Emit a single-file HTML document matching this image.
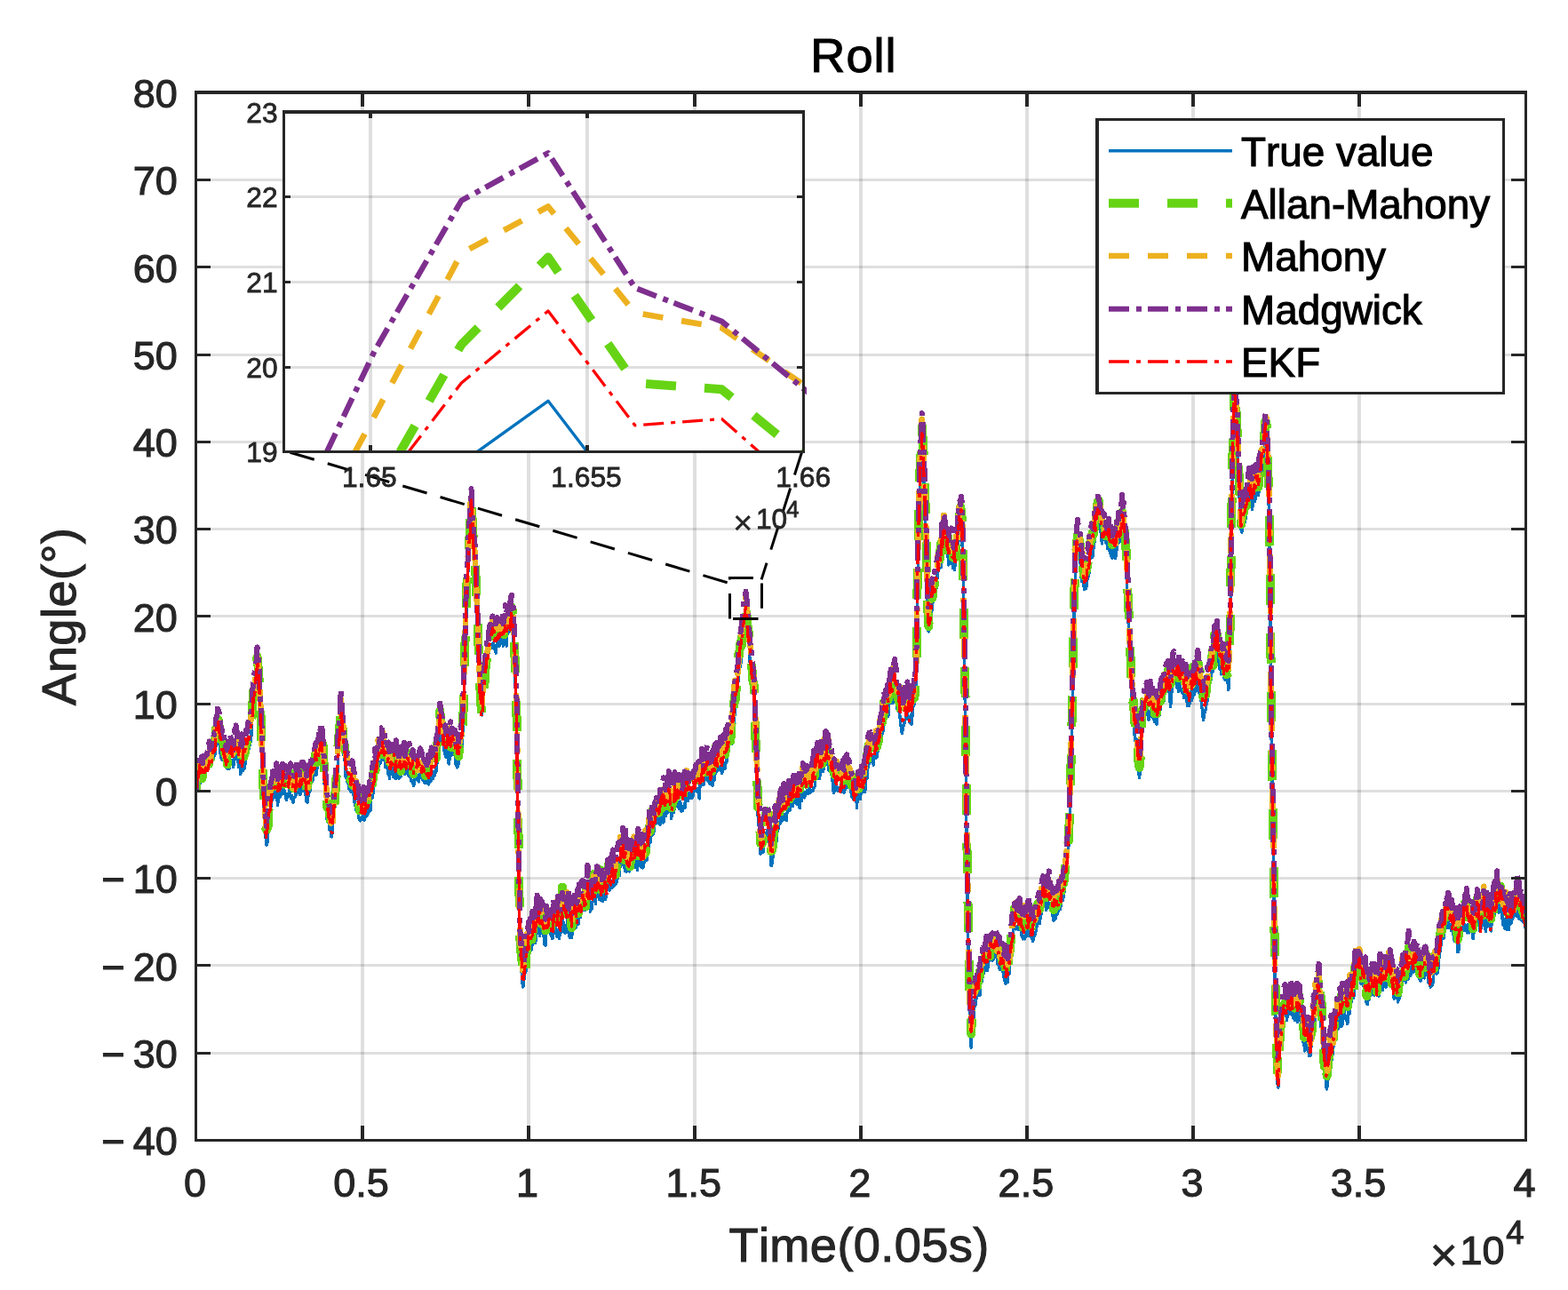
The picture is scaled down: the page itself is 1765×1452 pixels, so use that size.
<!DOCTYPE html>
<html lang="en"><head><meta charset="utf-8"><title>Roll</title>
<style>html,body{margin:0;padding:0;background:#fff}body{width:1765px;height:1452px;overflow:hidden}svg{display:block}text{font-kerning:none}</style>
</head><body>
<svg width="1765" height="1452" viewBox="0 0 1765 1452">
<rect x="0" y="0" width="1765" height="1452" fill="#ffffff"/>
<g fill="#262626" fill-opacity="0.15" shape-rendering="crispEdges">
<rect x="406" y="106" width="4" height="1176"/>
<rect x="593" y="106" width="4" height="1176"/>
<rect x="780" y="106" width="4" height="1176"/>
<rect x="967" y="106" width="4" height="1176"/>
<rect x="1154" y="106" width="4" height="1176"/>
<rect x="1341" y="106" width="4" height="1176"/>
<rect x="1528" y="106" width="4" height="1176"/>
<rect x="222" y="1184" width="1494" height="3"/>
<rect x="222" y="1085" width="1494" height="3"/>
<rect x="222" y="987" width="1494" height="3"/>
<rect x="222" y="889" width="1494" height="3"/>
<rect x="222" y="791" width="1494" height="3"/>
<rect x="222" y="692" width="1494" height="3"/>
<rect x="222" y="594" width="1494" height="3"/>
<rect x="222" y="496" width="1494" height="3"/>
<rect x="222" y="398" width="1494" height="3"/>
<rect x="222" y="299" width="1494" height="3"/>
<rect x="222" y="201" width="1494" height="3"/>
</g>
<clipPath id="c"><rect x="220.7" y="104.0" width="1496.6" height="1179.2"/></clipPath>
<g clip-path="url(#c)" fill="none" stroke-linejoin="round" shape-rendering="crispEdges">
<path d="M220.7 890.1 221.4 888.7 222.2 887.3 222.9 885.9 223.7 884.4 224.4 883.0 225.2 881.6 225.9 880.2 226.7 878.8 227.4 877.3 228.2 875.9 228.9 874.5 229.7 873.1 230.4 871.7 231.2 870.2 231.9 868.8 232.7 867.4 233.4 866.0 234.2 864.5 234.9 863.1 235.7 861.7 236.4 860.3 237.2 858.9 237.9 857.4 238.7 856.0 239.4 854.6 240.2 853.2 240.9 851.8 241.7 850.3 242.4 848.9 243.1 835.8 243.9 830.1 244.6 828.6 245.4 822.7 246.1 827.8 246.9 836.6 247.6 840.6 248.4 852.1 249.1 848.0 249.9 855.1 250.6 846.9 251.4 844.1 252.1 850.8 252.9 859.5 253.6 862.3 254.4 861.1 255.1 862.1 255.9 865.2 256.6 859.6 257.4 859.1 258.1 865.2 258.9 861.3 259.6 858.5 260.4 857.9 261.1 855.9 261.9 857.9 262.6 863.6 263.4 855.8 264.1 853.9 264.8 854.9 265.6 842.5 266.3 854.1 267.1 847.1 267.8 854.1 268.6 863.6 269.3 854.1 270.1 859.8 270.8 871.4 271.6 865.9 272.3 864.7 273.1 867.0 273.8 867.1 274.6 863.8 275.3 864.5 276.1 859.5 276.8 852.1 277.6 853.3 278.3 846.6 279.1 840.8 279.8 837.8 280.6 842.7 281.3 833.2 282.1 835.1 282.8 829.5 283.6 813.3 284.3 808.1 285.1 799.3 285.8 798.3 286.6 786.0 287.3 782.0 288.0 773.9 288.8 768.7 289.5 760.7 290.3 754.3 291.0 771.6 291.8 784.2 292.5 804.6 293.3 816.0 294.0 839.8 294.8 859.1 295.5 880.1 296.3 900.6 297.0 906.9 297.8 920.7 298.5 931.8 299.3 945.2 300.0 951.4 300.8 949.0 301.5 942.8 302.3 929.9 303.0 927.2 303.8 912.8 304.5 907.8 305.3 907.6 306.0 900.4 306.8 898.8 307.5 899.0 308.3 889.3 309.0 897.4 309.7 894.9 310.5 891.6 311.2 893.8 312.0 899.4 312.7 906.6 313.5 889.1 314.2 897.0 315.0 897.3 315.7 893.2 316.5 894.4 317.2 893.5 318.0 887.7 318.7 888.1 319.5 890.7 320.2 889.6 321.0 893.1 321.7 898.9 322.5 900.4 323.2 897.7 324.0 895.3 324.7 896.6 325.5 889.2 326.2 892.4 327.0 897.1 327.7 899.0 328.5 895.6 329.2 898.4 330.0 903.3 330.7 899.5 331.4 897.1 332.2 896.5 332.9 895.4 333.7 882.7 334.4 888.4 335.2 889.0 335.9 886.0 336.7 891.0 337.4 894.6 338.2 893.8 338.9 889.2 339.7 886.3 340.4 890.6 341.2 885.9 341.9 889.4 342.7 887.2 343.4 891.5 344.2 895.4 344.9 902.5 345.7 903.2 346.4 902.6 347.2 892.4 347.9 891.3 348.7 891.2 349.4 887.8 350.2 877.4 350.9 878.1 351.7 879.2 352.4 876.5 353.1 871.2 353.9 868.7 354.6 867.9 355.4 860.8 356.1 872.0 356.9 864.0 357.6 864.2 358.4 855.4 359.1 847.5 359.9 848.4 360.6 849.7 361.4 850.9 362.1 840.0 362.9 851.7 363.6 861.0 364.4 868.6 365.1 881.5 365.9 893.3 366.6 898.9 367.4 911.4 368.1 923.0 368.9 917.7 369.6 922.6 370.4 927.9 371.1 934.2 371.9 927.7 372.6 941.3 373.4 942.0 374.1 936.6 374.8 925.3 375.6 918.2 376.3 908.3 377.1 908.3 377.8 900.9 378.6 890.3 379.3 886.8 380.1 871.4 380.8 847.2 381.6 846.5 382.3 833.1 383.1 820.0 383.8 812.4 384.6 813.8 385.3 833.2 386.1 831.6 386.8 847.9 387.6 853.4 388.3 857.4 389.1 875.0 389.8 866.5 390.6 877.7 391.3 881.7 392.1 881.8 392.8 887.4 393.6 883.3 394.3 890.5 395.1 891.6 395.8 883.2 396.6 887.1 397.3 890.8 398.0 895.0 398.8 899.6 399.5 906.8 400.3 907.3 401.0 912.6 401.8 911.1 402.5 910.7 403.3 914.9 404.0 921.5 404.8 922.9 405.5 924.1 406.3 923.0 407.0 920.1 407.8 922.7 408.5 922.2 409.3 912.5 410.0 923.8 410.8 921.0 411.5 908.3 412.3 918.4 413.0 918.2 413.8 912.0 414.5 915.6 415.3 911.7 416.0 908.4 416.8 913.0 417.5 901.1 418.3 898.6 419.0 897.8 419.7 895.1 420.5 886.9 421.2 883.2 422.0 878.3 422.7 878.9 423.5 873.6 424.2 865.9 425.0 861.6 425.7 863.4 426.5 861.8 427.2 857.7 428.0 859.3 428.7 857.6 429.5 855.0 430.2 848.9 431.0 848.2 431.7 852.7 432.5 855.9 433.2 856.8 434.0 863.9 434.7 863.3 435.5 864.3 436.2 863.4 437.0 871.6 437.7 868.8 438.5 876.2 439.2 869.0 440.0 867.8 440.7 868.9 441.4 864.5 442.2 860.4 442.9 874.8 443.7 863.8 444.4 870.1 445.2 876.5 445.9 871.1 446.7 873.3 447.4 870.2 448.2 863.5 448.9 876.2 449.7 869.4 450.4 868.4 451.2 874.4 451.9 871.1 452.7 867.4 453.4 865.0 454.2 869.4 454.9 859.4 455.7 871.5 456.4 868.8 457.2 868.0 457.9 870.2 458.7 865.5 459.4 872.1 460.2 873.4 460.9 859.2 461.7 874.5 462.4 872.2 463.1 879.8 463.9 879.2 464.6 878.5 465.4 884.6 466.1 883.5 466.9 878.3 467.6 870.7 468.4 875.2 469.1 872.3 469.9 875.4 470.6 878.4 471.4 879.8 472.1 871.2 472.9 875.6 473.6 869.4 474.4 874.7 475.1 871.0 475.9 878.2 476.6 870.9 477.4 878.9 478.1 881.7 478.9 873.4 479.6 876.4 480.4 881.1 481.1 878.0 481.9 871.2 482.6 883.0 483.4 876.8 484.1 879.0 484.8 879.8 485.6 867.8 486.3 870.8 487.1 876.7 487.8 868.3 488.6 873.2 489.3 872.6 490.1 869.0 490.8 869.6 491.6 850.8 492.3 858.5 493.1 847.7 493.8 842.4 494.6 836.2 495.3 816.8 496.1 821.3 496.8 827.6 497.6 836.4 498.3 833.0 499.1 838.6 499.8 843.2 500.6 848.2 501.3 845.2 502.1 852.4 502.8 843.0 503.6 842.8 504.3 854.5 505.1 859.9 505.8 856.5 506.6 844.6 507.3 843.3 508.0 850.8 508.8 843.6 509.5 849.2 510.3 845.1 511.0 844.6 511.8 843.3 512.5 851.0 513.3 861.6 514.0 858.6 514.8 863.9 515.5 858.2 516.3 860.0 517.0 853.4 517.8 849.6 518.5 845.6 519.3 849.9 520.0 838.8 520.8 829.0 521.5 813.5 522.3 787.4 523.0 759.6 523.8 728.6 524.5 701.3 525.3 672.9 526.0 660.4 526.8 645.0 527.5 626.2 528.3 615.0 529.0 609.6 529.7 588.3 530.5 573.8 531.2 581.9 532.0 603.7 532.7 609.2 533.5 637.9 534.2 637.8 535.0 652.8 535.7 665.3 536.5 683.2 537.2 708.6 538.0 734.8 538.7 751.6 539.5 772.6 540.2 786.0 541.0 789.8 541.7 803.9 542.5 804.7 543.2 799.2 544.0 787.1 544.7 777.6 545.5 776.6 546.2 764.9 547.0 763.2 547.7 753.6 548.5 752.7 549.2 740.3 550.0 734.3 550.7 731.9 551.4 729.2 552.2 729.2 552.9 728.7 553.7 729.4 554.4 725.6 555.2 723.6 555.9 725.3 556.7 730.2 557.4 726.9 558.2 735.3 558.9 728.0 559.7 725.0 560.4 721.1 561.2 723.8 561.9 727.0 562.7 724.4 563.4 724.6 564.2 716.9 564.9 724.1 565.7 716.7 566.4 727.2 567.2 725.5 567.9 719.7 568.7 717.0 569.4 719.3 570.2 727.2 570.9 713.1 571.7 709.0 572.4 711.3 573.1 708.4 573.9 707.1 574.6 710.3 575.4 705.2 576.1 711.8 576.9 712.0 577.6 717.2 578.4 724.6 579.1 740.6 579.9 762.0 580.6 776.6 581.4 814.5 582.1 860.4 582.9 917.1 583.6 970.0 584.4 1017.1 585.1 1065.8 585.9 1079.6 586.6 1087.2 587.4 1097.5 588.1 1107.3 588.9 1110.9 589.6 1105.2 590.4 1096.8 591.1 1094.7 591.9 1094.0 592.6 1077.3 593.4 1077.8 594.1 1075.8 594.8 1073.5 595.6 1069.5 596.3 1069.2 597.1 1060.8 597.8 1063.4 598.6 1068.9 599.3 1054.8 600.1 1059.2 600.8 1047.0 601.6 1056.9 602.3 1061.4 603.1 1058.1 603.8 1047.1 604.6 1049.3 605.3 1044.0 606.1 1050.0 606.8 1046.9 607.6 1053.8 608.3 1047.6 609.1 1043.5 609.8 1044.2 610.6 1042.5 611.3 1053.0 612.1 1053.1 612.8 1063.3 613.6 1058.2 614.3 1064.1 615.1 1038.8 615.8 1044.2 616.6 1047.2 617.3 1049.3 618.0 1036.0 618.8 1039.8 619.5 1047.1 620.3 1053.1 621.0 1051.3 621.8 1056.5 622.5 1050.7 623.3 1041.2 624.0 1050.9 624.8 1036.6 625.5 1042.3 626.3 1049.7 627.0 1054.1 627.8 1053.7 628.5 1046.2 629.3 1056.8 630.0 1052.6 630.8 1046.6 631.5 1045.2 632.3 1048.9 633.0 1033.9 633.8 1046.4 634.5 1038.8 635.3 1042.6 636.0 1050.3 636.8 1044.6 637.5 1049.4 638.3 1038.9 639.0 1035.0 639.7 1039.2 640.5 1037.9 641.2 1055.3 642.0 1042.0 642.7 1035.5 643.5 1055.4 644.2 1050.1 645.0 1039.1 645.7 1032.2 646.5 1033.4 647.2 1035.4 648.0 1044.7 648.7 1032.0 649.5 1032.9 650.2 1037.9 651.0 1039.9 651.7 1023.8 652.5 1027.3 653.2 1032.6 654.0 1026.9 654.7 1027.3 655.5 1018.6 656.2 1018.1 657.0 1014.8 657.7 1021.4 658.5 1024.4 659.2 1021.5 660.0 1014.2 660.7 1020.8 661.4 1002.5 662.2 1008.7 662.9 1013.8 663.7 1013.5 664.4 1026.1 665.2 1015.4 665.9 1023.6 666.7 1015.8 667.4 1013.6 668.2 1008.7 668.9 1014.8 669.7 1010.1 670.4 1017.6 671.2 1005.5 671.9 1009.7 672.7 1003.4 673.4 1003.0 674.2 1008.1 674.9 1012.7 675.7 1010.8 676.4 1013.1 677.2 1010.4 677.9 1008.4 678.7 1014.7 679.4 1011.3 680.2 996.6 680.9 1005.4 681.7 1012.6 682.4 1001.5 683.1 999.9 683.9 996.3 684.6 997.3 685.4 991.5 686.1 1002.2 686.9 995.4 687.6 998.9 688.4 991.3 689.1 999.6 689.9 995.0 690.6 998.0 691.4 995.5 692.1 989.9 692.9 995.5 693.6 983.8 694.4 993.2 695.1 987.8 695.9 974.6 696.6 970.7 697.4 985.8 698.1 971.3 698.9 971.9 699.6 969.0 700.4 973.6 701.1 963.4 701.9 973.5 702.6 969.4 703.4 980.3 704.1 965.0 704.9 981.4 705.6 978.5 706.3 977.0 707.1 970.6 707.8 970.9 708.6 981.1 709.3 972.9 710.1 973.3 710.8 974.5 711.6 975.2 712.3 974.7 713.1 968.5 713.8 970.6 714.6 976.5 715.3 965.1 716.1 975.9 716.8 970.4 717.6 979.2 718.3 969.3 719.1 957.8 719.8 967.7 720.6 962.4 721.3 975.9 722.1 969.3 722.8 974.0 723.6 976.9 724.3 974.8 725.1 970.3 725.8 967.3 726.6 969.1 727.3 965.8 728.0 968.6 728.8 960.4 729.5 959.6 730.3 946.8 731.0 943.7 731.8 948.8 732.5 945.2 733.3 934.0 734.0 935.1 734.8 939.9 735.5 924.1 736.3 935.8 737.0 918.0 737.8 927.8 738.5 921.5 739.3 926.3 740.0 922.8 740.8 920.8 741.5 922.1 742.3 928.0 743.0 928.4 743.8 918.5 744.5 904.7 745.3 916.1 746.0 913.1 746.8 926.0 747.5 910.9 748.3 911.6 749.0 911.6 749.7 918.2 750.5 907.9 751.2 914.8 752.0 908.0 752.7 901.1 753.5 913.1 754.2 903.0 755.0 910.4 755.7 921.5 756.5 912.1 757.2 913.6 758.0 914.3 758.7 914.4 759.5 898.8 760.2 906.5 761.0 899.3 761.7 901.8 762.5 907.0 763.2 908.3 764.0 906.7 764.7 910.4 765.5 902.1 766.2 905.2 767.0 913.2 767.7 908.3 768.5 912.6 769.2 907.7 770.0 909.8 770.7 904.1 771.4 909.1 772.2 895.5 772.9 891.4 773.7 888.5 774.4 901.5 775.2 895.1 775.9 897.3 776.7 893.7 777.4 898.7 778.2 889.8 778.9 897.1 779.7 897.8 780.4 893.4 781.2 888.0 781.9 885.4 782.7 890.1 783.4 890.2 784.2 887.3 784.9 891.0 785.7 888.0 786.4 890.0 787.2 898.9 787.9 882.7 788.7 885.4 789.4 882.7 790.2 881.3 790.9 880.0 791.7 883.1 792.4 882.6 793.1 872.0 793.9 877.6 794.6 873.1 795.4 871.9 796.1 872.2 796.9 879.0 797.6 876.1 798.4 878.9 799.1 882.5 799.9 874.9 800.6 872.9 801.4 876.4 802.1 884.2 802.9 875.7 803.6 866.2 804.4 877.9 805.1 867.9 805.9 869.7 806.6 863.4 807.4 867.5 808.1 857.1 808.9 856.8 809.6 857.9 810.4 865.9 811.1 867.8 811.9 855.3 812.6 870.4 813.4 866.8 814.1 863.2 814.9 865.0 815.6 860.0 816.3 864.9 817.1 857.6 817.8 858.6 818.6 842.2 819.3 846.7 820.1 840.1 820.8 833.4 821.6 837.0 822.3 827.7 823.1 837.8 823.8 823.8 824.6 820.0 825.3 810.4 826.1 818.2 826.8 806.1 827.6 791.8 828.3 794.1 829.1 786.9 829.8 777.0 830.6 768.1 831.3 765.7 832.1 754.0 832.8 746.8 833.6 750.2 834.3 738.2 835.1 732.3 835.8 731.3 836.6 717.3 837.3 713.2 838.0 700.7 838.8 694.4 839.5 689.5 840.3 698.4 841.0 709.9 841.8 718.6 842.5 724.9 843.3 728.5 844.0 742.4 844.8 755.1 845.5 768.7 846.3 756.8 847.0 770.4 847.8 774.5 848.5 781.3 849.3 800.9 850.0 821.1 850.8 843.1 851.5 871.7 852.3 895.5 853.0 916.7 853.8 925.2 854.5 933.3 855.3 941.8 856.0 961.3 856.8 960.5 857.5 952.0 858.3 953.8 859.0 959.8 859.7 948.4 860.5 945.7 861.2 939.2 862.0 937.4 862.7 939.3 863.5 934.3 864.2 938.6 865.0 943.1 865.7 951.4 866.5 947.1 867.2 950.7 868.0 974.6 868.7 974.6 869.5 961.7 870.2 964.8 871.0 952.1 871.7 949.8 872.5 941.3 873.2 951.0 874.0 947.1 874.7 936.1 875.5 935.1 876.2 931.9 877.0 925.6 877.7 927.9 878.5 925.0 879.2 915.2 880.0 924.2 880.7 918.4 881.4 916.9 882.2 917.0 882.9 916.7 883.7 922.5 884.4 919.6 885.2 923.5 885.9 915.0 886.7 913.5 887.4 913.0 888.2 901.6 888.9 912.6 889.7 906.2 890.4 907.3 891.2 894.7 891.9 899.6 892.7 907.1 893.4 894.4 894.2 899.0 894.9 900.6 895.7 898.7 896.4 902.9 897.2 905.8 897.9 902.3 898.7 900.5 899.4 891.9 900.2 909.8 900.9 897.0 901.7 893.8 902.4 901.4 903.1 894.4 903.9 896.5 904.6 891.1 905.4 897.9 906.1 895.3 906.9 894.8 907.6 893.7 908.4 889.5 909.1 893.6 909.9 893.3 910.6 884.8 911.4 892.8 912.1 889.0 912.9 891.0 913.6 890.5 914.4 890.5 915.1 889.9 915.9 886.5 916.6 886.8 917.4 884.6 918.1 871.0 918.9 867.6 919.6 871.7 920.4 865.3 921.1 876.8 921.9 865.9 922.6 876.4 923.4 866.9 924.1 867.3 924.9 866.1 925.6 866.8 926.3 868.6 927.1 865.3 927.8 858.8 928.6 858.8 929.3 857.1 930.1 860.6 930.8 850.7 931.6 856.4 932.3 854.4 933.1 867.2 933.8 859.6 934.6 864.0 935.3 869.6 936.1 872.4 936.8 877.3 937.6 882.1 938.3 892.5 939.1 889.7 939.8 890.4 940.6 883.0 941.3 886.2 942.1 889.7 942.8 890.1 943.6 887.8 944.3 886.9 945.1 889.3 945.8 890.4 946.6 882.0 947.3 891.3 948.0 884.5 948.8 882.0 949.5 888.9 950.3 892.2 951.0 888.9 951.8 880.8 952.5 882.6 953.3 877.4 954.0 882.0 954.8 886.7 955.5 882.4 956.3 885.0 957.0 882.3 957.8 889.7 958.5 895.9 959.3 898.0 960.0 898.2 960.8 900.0 961.5 898.4 962.3 894.9 963.0 897.7 963.8 896.0 964.5 909.2 965.3 895.9 966.0 893.9 966.8 896.0 967.5 894.2 968.3 899.7 969.0 893.6 969.7 892.5 970.5 891.1 971.2 890.6 972.0 890.9 972.7 886.3 973.5 891.2 974.2 887.1 975.0 869.8 975.7 876.9 976.5 873.6 977.2 855.5 978.0 852.8 978.7 859.1 979.5 851.1 980.2 854.2 981.0 857.3 981.7 850.1 982.5 858.5 983.2 861.0 984.0 850.1 984.7 850.2 985.5 852.1 986.2 853.2 987.0 852.2 987.7 848.2 988.5 840.5 989.2 842.4 990.0 842.3 990.7 828.6 991.4 829.9 992.2 830.7 992.9 826.7 993.7 816.3 994.4 823.2 995.2 810.8 995.9 811.4 996.7 805.1 997.4 809.2 998.2 807.0 998.9 799.2 999.7 806.1 1000.4 801.6 1001.2 784.2 1001.9 783.2 1002.7 784.0 1003.4 791.1 1004.2 790.3 1004.9 791.5 1005.7 775.9 1006.4 768.9 1007.2 771.6 1007.9 772.3 1008.7 785.9 1009.4 789.2 1010.2 798.4 1010.9 800.1 1011.7 798.8 1012.4 799.7 1013.1 808.1 1013.9 815.4 1014.6 820.8 1015.4 825.7 1016.1 820.7 1016.9 816.1 1017.6 816.2 1018.4 811.8 1019.1 810.5 1019.9 806.4 1020.6 806.5 1021.4 801.9 1022.1 809.8 1022.9 807.7 1023.6 813.1 1024.4 809.6 1025.1 805.0 1025.9 815.6 1026.6 813.2 1027.4 790.7 1028.1 795.6 1028.9 793.2 1029.6 785.8 1030.4 776.6 1031.1 778.1 1031.9 735.9 1032.6 666.3 1033.4 635.8 1034.1 599.3 1034.9 571.2 1035.6 541.7 1036.3 536.6 1037.1 509.3 1037.8 499.4 1038.6 503.0 1039.3 526.7 1040.1 541.3 1040.8 562.8 1041.6 587.7 1042.3 610.5 1043.1 640.2 1043.8 668.3 1044.6 706.1 1045.3 711.0 1046.1 703.3 1046.8 708.9 1047.6 693.9 1048.3 686.0 1049.1 687.3 1049.8 679.0 1050.6 670.8 1051.3 667.7 1052.1 672.3 1052.8 668.2 1053.6 661.7 1054.3 661.7 1055.1 646.0 1055.8 643.8 1056.6 639.1 1057.3 636.6 1058.0 639.8 1058.8 631.6 1059.5 638.4 1060.3 621.6 1061.0 622.7 1061.8 614.8 1062.5 611.7 1063.3 610.0 1064.0 607.1 1064.8 617.1 1065.5 620.6 1066.3 615.5 1067.0 624.5 1067.8 635.9 1068.5 625.8 1069.3 628.0 1070.0 630.7 1070.8 630.2 1071.5 634.3 1072.3 633.2 1073.0 639.9 1073.8 632.6 1074.5 641.8 1075.3 632.1 1076.0 629.5 1076.8 613.1 1077.5 616.3 1078.3 610.2 1079.0 609.4 1079.7 598.5 1080.5 598.2 1081.2 591.9 1082.0 585.3 1082.7 595.4 1083.5 625.8 1084.2 653.5 1085.0 703.0 1085.7 758.5 1086.5 804.1 1087.2 862.1 1088.0 948.1 1088.7 991.1 1089.5 1035.0 1090.2 1082.5 1091.0 1116.1 1091.7 1149.9 1092.5 1171.5 1093.2 1179.0 1094.0 1164.5 1094.7 1152.2 1095.5 1156.3 1096.2 1137.4 1097.0 1132.7 1097.7 1125.2 1098.5 1130.4 1099.2 1118.3 1100.0 1119.5 1100.7 1119.3 1101.4 1117.5 1102.2 1112.7 1102.9 1120.6 1103.7 1107.6 1104.4 1101.4 1105.2 1104.5 1105.9 1100.7 1106.7 1097.2 1107.4 1093.4 1108.2 1093.0 1108.9 1085.5 1109.7 1092.8 1110.4 1091.4 1111.2 1092.6 1111.9 1089.2 1112.7 1077.0 1113.4 1077.3 1114.2 1081.0 1114.9 1080.9 1115.7 1072.9 1116.4 1077.2 1117.2 1081.0 1117.9 1078.3 1118.7 1079.5 1119.4 1069.0 1120.2 1075.9 1120.9 1077.6 1121.7 1077.8 1122.4 1076.2 1123.1 1085.8 1123.9 1085.4 1124.6 1086.7 1125.4 1091.6 1126.1 1086.0 1126.9 1090.2 1127.6 1080.6 1128.4 1087.3 1129.1 1094.1 1129.9 1098.9 1130.6 1103.8 1131.4 1100.7 1132.1 1107.6 1132.9 1100.9 1133.6 1100.9 1134.4 1105.3 1135.1 1092.8 1135.9 1096.2 1136.6 1080.5 1137.4 1082.8 1138.1 1072.5 1138.9 1064.7 1139.6 1056.1 1140.4 1053.5 1141.1 1043.1 1141.9 1043.5 1142.6 1042.9 1143.4 1045.9 1144.1 1043.3 1144.9 1045.2 1145.6 1042.4 1146.3 1046.4 1147.1 1044.8 1147.8 1041.1 1148.6 1041.1 1149.3 1044.6 1150.1 1053.1 1150.8 1055.2 1151.6 1056.8 1152.3 1053.4 1153.1 1056.9 1153.8 1056.2 1154.6 1053.6 1155.3 1046.9 1156.1 1034.9 1156.8 1050.4 1157.6 1053.6 1158.3 1046.9 1159.1 1043.9 1159.8 1041.6 1160.6 1047.4 1161.3 1056.8 1162.1 1050.6 1162.8 1059.5 1163.6 1054.4 1164.3 1054.2 1165.1 1052.4 1165.8 1049.0 1166.6 1046.7 1167.3 1036.2 1168.0 1039.7 1168.8 1031.3 1169.5 1032.3 1170.3 1039.6 1171.0 1032.8 1171.8 1020.7 1172.5 1028.5 1173.3 1018.7 1174.0 1014.6 1174.8 1014.1 1175.5 1018.6 1176.3 1019.1 1177.0 1015.1 1177.8 1024.4 1178.5 1019.0 1179.3 1011.3 1180.0 1021.9 1180.8 1017.0 1181.5 1018.7 1182.3 1020.4 1183.0 1023.7 1183.8 1022.3 1184.5 1024.6 1185.3 1032.5 1186.0 1036.8 1186.8 1028.6 1187.5 1032.4 1188.3 1033.8 1189.0 1029.7 1189.7 1026.5 1190.5 1028.6 1191.2 1025.1 1192.0 1018.8 1192.7 1018.2 1193.5 1023.7 1194.2 1017.1 1195.0 1010.6 1195.7 1010.5 1196.5 1013.2 1197.2 1009.0 1198.0 1003.2 1198.7 999.7 1199.5 980.0 1200.2 983.3 1201.0 969.7 1201.7 967.4 1202.5 960.4 1203.2 943.1 1204.0 932.8 1204.7 909.7 1205.5 871.4 1206.2 835.6 1207.0 806.0 1207.7 765.8 1208.5 721.5 1209.2 678.6 1210.0 659.7 1210.7 641.8 1211.4 626.2 1212.2 625.3 1212.9 617.4 1213.7 620.4 1214.4 629.7 1215.2 628.3 1215.9 631.9 1216.7 639.9 1217.4 654.5 1218.2 646.1 1218.9 653.8 1219.7 652.9 1220.4 663.8 1221.2 660.6 1221.9 655.1 1222.7 662.2 1223.4 654.2 1224.2 651.3 1224.9 639.7 1225.7 648.7 1226.4 631.4 1227.2 626.6 1227.9 628.5 1228.7 623.4 1229.4 627.7 1230.2 625.5 1230.9 616.9 1231.7 612.4 1232.4 600.9 1233.1 604.6 1233.9 597.6 1234.6 591.6 1235.4 584.4 1236.1 580.9 1236.9 577.0 1237.6 584.6 1238.4 595.4 1239.1 598.5 1239.9 608.1 1240.6 611.9 1241.4 601.8 1242.1 606.9 1242.9 596.9 1243.6 604.0 1244.4 609.7 1245.1 611.0 1245.9 607.1 1246.6 617.6 1247.4 616.5 1248.1 608.6 1248.9 620.4 1249.6 617.2 1250.4 625.8 1251.1 614.0 1251.9 628.5 1252.6 615.6 1253.4 617.7 1254.1 621.9 1254.9 626.1 1255.6 628.2 1256.3 622.2 1257.1 618.7 1257.8 609.8 1258.6 611.7 1259.3 611.3 1260.1 610.2 1260.8 601.6 1261.6 602.0 1262.3 598.4 1263.1 594.7 1263.8 595.5 1264.6 587.6 1265.3 608.6 1266.1 608.1 1266.8 619.9 1267.6 628.2 1268.3 655.3 1269.1 666.7 1269.8 690.2 1270.6 712.3 1271.3 730.6 1272.1 751.3 1272.8 761.0 1273.6 785.1 1274.3 793.1 1275.1 795.8 1275.8 812.0 1276.6 819.0 1277.3 829.1 1278.0 834.6 1278.8 831.2 1279.5 837.1 1280.3 842.9 1281.0 857.3 1281.8 868.2 1282.5 875.2 1283.3 869.9 1284.0 854.1 1284.8 845.8 1285.5 818.8 1286.3 811.9 1287.0 804.3 1287.8 808.9 1288.5 801.5 1289.3 798.7 1290.0 798.9 1290.8 797.3 1291.5 804.8 1292.3 803.6 1293.0 810.4 1293.8 802.9 1294.5 807.1 1295.3 798.1 1296.0 802.8 1296.8 805.0 1297.5 805.0 1298.3 809.5 1299.0 808.5 1299.7 812.3 1300.5 811.8 1301.2 804.5 1302.0 815.7 1302.7 803.6 1303.5 800.7 1304.2 803.6 1305.0 805.3 1305.7 801.4 1306.5 794.6 1307.2 786.0 1308.0 785.3 1308.7 787.7 1309.5 790.2 1310.2 788.2 1311.0 770.0 1311.7 775.9 1312.5 774.6 1313.2 767.1 1314.0 773.4 1314.7 770.8 1315.5 767.8 1316.2 779.7 1317.0 789.3 1317.7 795.3 1318.5 782.6 1319.2 776.3 1320.0 762.1 1320.7 761.0 1321.4 763.6 1322.2 760.1 1322.9 765.0 1323.7 768.1 1324.4 771.2 1325.2 774.9 1325.9 769.0 1326.7 778.2 1327.4 769.2 1328.2 772.0 1328.9 774.3 1329.7 777.8 1330.4 775.5 1331.2 780.5 1331.9 777.7 1332.7 785.2 1333.4 780.0 1334.2 785.9 1334.9 780.4 1335.7 782.2 1336.4 794.1 1337.2 791.2 1337.9 785.6 1338.7 794.4 1339.4 785.3 1340.2 785.2 1340.9 777.7 1341.7 788.7 1342.4 778.8 1343.2 782.3 1343.9 782.2 1344.6 774.1 1345.4 775.7 1346.1 778.3 1346.9 770.5 1347.6 765.0 1348.4 765.8 1349.1 763.1 1349.9 779.9 1350.6 776.5 1351.4 784.1 1352.1 788.5 1352.9 796.6 1353.6 800.3 1354.4 810.6 1355.1 807.8 1355.9 800.0 1356.6 801.3 1357.4 796.7 1358.1 791.3 1358.9 787.1 1359.6 788.5 1360.4 775.6 1361.1 771.6 1361.9 766.9 1362.6 764.9 1363.4 764.3 1364.1 753.1 1364.9 756.3 1365.6 753.6 1366.3 737.8 1367.1 733.6 1367.8 732.7 1368.6 737.9 1369.3 730.5 1370.1 730.1 1370.8 731.9 1371.6 744.2 1372.3 747.3 1373.1 753.5 1373.8 746.1 1374.6 759.0 1375.3 750.9 1376.1 755.3 1376.8 751.1 1377.6 754.6 1378.3 764.9 1379.1 757.3 1379.8 759.0 1380.6 762.3 1381.3 767.3 1382.1 768.5 1382.8 776.6 1383.6 745.2 1384.3 738.9 1385.1 689.1 1385.8 626.8 1386.6 568.4 1387.3 536.8 1388.0 502.6 1388.8 480.4 1389.5 447.2 1390.3 461.8 1391.0 474.4 1391.8 477.7 1392.5 493.9 1393.3 520.0 1394.0 546.5 1394.8 551.0 1395.5 569.0 1396.3 588.2 1397.0 595.8 1397.8 599.2 1398.5 587.6 1399.3 582.6 1400.0 580.8 1400.8 575.0 1401.5 587.8 1402.3 581.0 1403.0 577.9 1403.8 572.6 1404.5 570.4 1405.3 565.8 1406.0 557.2 1406.8 557.0 1407.5 567.5 1408.3 565.7 1409.0 566.3 1409.7 573.3 1410.5 559.0 1411.2 563.5 1412.0 563.1 1412.7 564.2 1413.5 552.5 1414.2 550.8 1415.0 556.7 1415.7 548.2 1416.5 557.8 1417.2 552.4 1418.0 547.6 1418.7 547.5 1419.5 536.2 1420.2 532.2 1421.0 525.4 1421.7 521.5 1422.5 519.5 1423.2 507.0 1424.0 495.5 1424.7 486.7 1425.5 485.1 1426.2 506.1 1427.0 525.0 1427.7 546.4 1428.5 582.2 1429.2 620.0 1430.0 684.3 1430.7 786.0 1431.4 849.6 1432.2 888.3 1432.9 938.0 1433.7 995.2 1434.4 1060.4 1435.2 1111.6 1435.9 1147.8 1436.7 1185.9 1437.4 1209.4 1438.2 1220.4 1438.9 1224.0 1439.7 1193.9 1440.4 1190.2 1441.2 1177.1 1441.9 1155.1 1442.7 1174.3 1443.4 1160.1 1444.2 1135.4 1444.9 1135.9 1445.7 1141.2 1446.4 1137.8 1447.2 1142.9 1447.9 1142.4 1448.7 1148.6 1449.4 1133.9 1450.2 1137.4 1450.9 1141.8 1451.7 1136.5 1452.4 1134.7 1453.2 1138.5 1453.9 1142.5 1454.6 1142.6 1455.4 1143.7 1456.1 1146.3 1456.9 1140.3 1457.6 1148.6 1458.4 1143.6 1459.1 1147.1 1459.9 1133.6 1460.6 1150.7 1461.4 1147.1 1462.1 1138.5 1462.9 1142.7 1463.6 1145.9 1464.4 1149.5 1465.1 1159.8 1465.9 1163.3 1466.6 1166.0 1467.4 1176.6 1468.1 1171.8 1468.9 1183.0 1469.6 1175.5 1470.4 1179.2 1471.1 1173.5 1471.9 1180.5 1472.6 1171.8 1473.4 1188.4 1474.1 1176.4 1474.9 1188.5 1475.6 1181.1 1476.3 1172.4 1477.1 1169.4 1477.8 1158.5 1478.6 1147.8 1479.3 1152.4 1480.1 1150.4 1480.8 1130.3 1481.6 1140.4 1482.3 1125.3 1483.1 1123.4 1483.8 1121.7 1484.6 1118.2 1485.3 1133.0 1486.1 1126.7 1486.8 1155.8 1487.6 1147.6 1488.3 1171.1 1489.1 1181.5 1489.8 1185.1 1490.6 1208.3 1491.3 1207.3 1492.1 1213.4 1492.8 1223.3 1493.6 1225.9 1494.3 1219.7 1495.1 1213.8 1495.8 1206.3 1496.6 1192.9 1497.3 1204.3 1498.0 1189.8 1498.8 1181.9 1499.5 1193.0 1500.3 1179.4 1501.0 1178.6 1501.8 1170.4 1502.5 1160.2 1503.3 1158.0 1504.0 1144.8 1504.8 1156.3 1505.5 1149.2 1506.3 1158.0 1507.0 1143.8 1507.8 1149.3 1508.5 1150.2 1509.3 1155.6 1510.0 1142.5 1510.8 1154.2 1511.5 1148.4 1512.3 1139.3 1513.0 1132.4 1513.8 1143.2 1514.5 1143.1 1515.3 1148.5 1516.0 1143.9 1516.8 1152.7 1517.5 1141.3 1518.3 1135.1 1519.0 1141.6 1519.7 1119.5 1520.5 1130.2 1521.2 1127.4 1522.0 1117.0 1522.7 1120.4 1523.5 1123.6 1524.2 1119.0 1525.0 1111.3 1525.7 1100.2 1526.5 1096.4 1527.2 1096.4 1528.0 1103.1 1528.7 1100.5 1529.5 1093.7 1530.2 1088.0 1531.0 1092.8 1531.7 1106.9 1532.5 1103.8 1533.2 1107.5 1534.0 1105.9 1534.7 1105.1 1535.5 1114.2 1536.2 1116.5 1537.0 1107.8 1537.7 1127.8 1538.5 1114.1 1539.2 1130.5 1540.0 1120.7 1540.7 1123.6 1541.4 1125.1 1542.2 1118.1 1542.9 1112.0 1543.7 1118.7 1544.4 1112.0 1545.2 1119.7 1545.9 1113.5 1546.7 1116.5 1547.4 1120.2 1548.2 1106.8 1548.9 1112.3 1549.7 1118.2 1550.4 1116.0 1551.2 1115.3 1551.9 1121.3 1552.7 1119.4 1553.4 1109.7 1554.2 1107.6 1554.9 1109.0 1555.7 1112.1 1556.4 1114.4 1557.2 1107.1 1557.9 1106.8 1558.7 1104.7 1559.4 1104.8 1560.2 1111.3 1560.9 1109.3 1561.7 1099.3 1562.4 1104.1 1563.2 1097.1 1563.9 1094.9 1564.6 1101.5 1565.4 1103.1 1566.1 1096.2 1566.9 1106.8 1567.6 1107.6 1568.4 1116.0 1569.1 1124.1 1569.9 1113.4 1570.6 1120.5 1571.4 1115.3 1572.1 1109.7 1572.9 1122.4 1573.6 1128.1 1574.4 1124.0 1575.1 1123.7 1575.9 1121.7 1576.6 1117.6 1577.4 1112.3 1578.1 1105.9 1578.9 1096.8 1579.6 1096.3 1580.4 1099.8 1581.1 1103.2 1581.9 1100.3 1582.6 1106.0 1583.4 1099.1 1584.1 1092.5 1584.9 1102.6 1585.6 1097.6 1586.3 1092.6 1587.1 1095.1 1587.8 1098.5 1588.6 1084.2 1589.3 1089.7 1590.1 1090.1 1590.8 1094.7 1591.6 1082.7 1592.3 1090.0 1593.1 1088.2 1593.8 1088.3 1594.6 1089.8 1595.3 1096.4 1596.1 1096.5 1596.8 1098.7 1597.6 1101.7 1598.3 1098.6 1599.1 1104.3 1599.8 1100.0 1600.6 1097.2 1601.3 1099.9 1602.1 1086.2 1602.8 1083.3 1603.6 1101.0 1604.3 1084.3 1605.1 1096.8 1605.8 1093.9 1606.6 1096.9 1607.3 1099.2 1608.0 1106.0 1608.8 1100.0 1609.5 1107.6 1610.3 1111.2 1611.0 1107.8 1611.8 1108.0 1612.5 1108.9 1613.3 1104.7 1614.0 1091.1 1614.8 1095.2 1615.5 1087.1 1616.3 1090.6 1617.0 1096.3 1617.8 1089.4 1618.5 1094.2 1619.3 1086.4 1620.0 1076.9 1620.8 1068.0 1621.5 1070.7 1622.3 1057.1 1623.0 1053.0 1623.8 1051.9 1624.5 1052.1 1625.3 1056.1 1626.0 1041.3 1626.8 1039.1 1627.5 1043.8 1628.3 1038.8 1629.0 1044.0 1629.7 1029.4 1630.5 1042.3 1631.2 1044.8 1632.0 1041.1 1632.7 1041.2 1633.5 1047.2 1634.2 1040.7 1635.0 1047.1 1635.7 1050.9 1636.5 1053.3 1637.2 1059.0 1638.0 1058.0 1638.7 1055.4 1639.5 1057.7 1640.2 1057.9 1641.0 1071.9 1641.7 1069.4 1642.5 1068.0 1643.2 1051.1 1644.0 1058.6 1644.7 1054.0 1645.5 1043.4 1646.2 1045.6 1647.0 1047.2 1647.7 1047.2 1648.5 1039.9 1649.2 1041.5 1650.0 1047.1 1650.7 1043.2 1651.4 1049.9 1652.2 1040.8 1652.9 1044.7 1653.7 1049.9 1654.4 1046.4 1655.2 1046.5 1655.9 1032.8 1656.7 1045.9 1657.4 1037.5 1658.2 1056.6 1658.9 1049.8 1659.7 1047.1 1660.4 1043.5 1661.2 1030.5 1661.9 1039.1 1662.7 1022.0 1663.4 1032.7 1664.2 1027.8 1664.9 1037.7 1665.7 1047.7 1666.4 1048.3 1667.2 1043.3 1667.9 1040.4 1668.7 1041.7 1669.4 1036.9 1670.2 1025.0 1670.9 1037.2 1671.7 1041.6 1672.4 1048.6 1673.2 1034.6 1673.9 1028.9 1674.6 1043.1 1675.4 1033.1 1676.1 1034.0 1676.9 1029.6 1677.6 1034.1 1678.4 1047.9 1679.1 1037.7 1679.9 1032.2 1680.6 1034.0 1681.4 1028.3 1682.1 1030.7 1682.9 1020.3 1683.6 1010.9 1684.4 1023.3 1685.1 1013.1 1685.9 1022.1 1686.6 1017.2 1687.4 1027.2 1688.1 1015.5 1688.9 1019.2 1689.6 1020.0 1690.4 1018.3 1691.1 1033.6 1691.9 1041.1 1692.6 1036.0 1693.4 1036.4 1694.1 1045.4 1694.9 1033.9 1695.6 1038.0 1696.3 1046.2 1697.1 1032.5 1697.8 1035.2 1698.6 1046.5 1699.3 1031.2 1700.1 1033.3 1700.8 1040.0 1701.6 1032.6 1702.3 1034.6 1703.1 1033.1 1703.8 1031.8 1704.6 1030.5 1705.3 1028.1 1706.1 1021.2 1706.8 1024.1 1707.6 1031.5 1708.3 1029.7 1709.1 1028.6 1709.8 1034.3 1710.6 1027.1 1711.3 1032.5 1712.1 1030.5 1712.8 1035.9 1713.6 1032.8 1714.3 1037.4 1715.1 1034.6 1715.8 1035.6 1716.6 1043.2 1717.3 1035.7" stroke="#0072BD" stroke-width="3.4"/>
<path d="M220.7 890.1 221.4 871.9 222.2 872.0 222.9 861.0 223.7 873.7 224.4 857.7 225.2 867.5 225.9 862.6 226.7 864.0 227.4 876.3 228.2 870.9 228.9 864.8 229.7 871.3 230.4 861.5 231.2 866.7 231.9 855.8 232.7 860.9 233.4 851.6 234.2 853.3 234.9 860.0 235.7 851.9 236.4 852.8 237.2 853.0 237.9 851.9 238.7 846.4 239.4 836.9 240.2 833.7 240.9 827.4 241.7 825.1 242.4 831.8 243.1 820.1 243.9 820.8 244.6 816.4 245.4 809.6 246.1 811.1 246.9 821.4 247.6 820.0 248.4 830.7 249.1 840.4 249.9 836.1 250.6 832.5 251.4 835.5 252.1 840.9 252.9 847.3 253.6 847.5 254.4 851.0 255.1 850.7 255.9 860.3 256.6 837.7 257.4 846.1 258.1 843.2 258.9 842.2 259.6 836.7 260.4 846.7 261.1 842.3 261.9 844.6 262.6 846.3 263.4 843.0 264.1 841.0 264.8 841.1 265.6 838.9 266.3 842.3 267.1 840.6 267.8 843.1 268.6 844.3 269.3 843.3 270.1 841.6 270.8 857.7 271.6 853.6 272.3 847.6 273.1 850.1 273.8 852.1 274.6 851.7 275.3 845.8 276.1 846.5 276.8 839.1 277.6 834.7 278.3 835.3 279.1 828.8 279.8 831.5 280.6 824.6 281.3 817.9 282.1 817.1 282.8 808.7 283.6 807.0 284.3 792.6 285.1 778.4 285.8 779.5 286.6 772.4 287.3 765.6 288.0 757.1 288.8 749.6 289.5 739.4 290.3 746.3 291.0 759.1 291.8 765.5 292.5 789.1 293.3 799.3 294.0 817.9 294.8 844.0 295.5 854.9 296.3 882.3 297.0 901.9 297.8 912.7 298.5 919.9 299.3 932.1 300.0 934.2 300.8 927.7 301.5 931.3 302.3 913.5 303.0 908.8 303.8 899.3 304.5 900.8 305.3 893.9 306.0 890.5 306.8 882.8 307.5 882.4 308.3 879.7 309.0 876.6 309.7 875.9 310.5 885.1 311.2 879.4 312.0 882.7 312.7 885.5 313.5 875.4 314.2 885.2 315.0 886.8 315.7 874.4 316.5 872.6 317.2 880.5 318.0 870.9 318.7 873.1 319.5 875.8 320.2 882.7 321.0 877.0 321.7 875.1 322.5 883.2 323.2 872.6 324.0 877.0 324.7 881.6 325.5 878.4 326.2 874.3 327.0 870.0 327.7 883.5 328.5 883.3 329.2 882.3 330.0 886.6 330.7 887.1 331.4 882.9 332.2 879.7 332.9 876.0 333.7 873.0 334.4 879.2 335.2 881.7 335.9 876.9 336.7 877.6 337.4 884.7 338.2 881.8 338.9 875.2 339.7 878.6 340.4 880.2 341.2 866.0 341.9 880.7 342.7 876.5 343.4 878.2 344.2 883.7 344.9 891.8 345.7 881.6 346.4 885.1 347.2 873.2 347.9 867.9 348.7 875.5 349.4 877.5 350.2 870.6 350.9 871.9 351.7 865.4 352.4 869.5 353.1 859.3 353.9 857.7 354.6 851.7 355.4 848.5 356.1 857.9 356.9 858.0 357.6 856.5 358.4 842.2 359.1 837.7 359.9 840.1 360.6 837.7 361.4 827.8 362.1 830.5 362.9 838.5 363.6 838.6 364.4 855.5 365.1 869.2 365.9 876.6 366.6 882.6 367.4 897.7 368.1 908.6 368.9 904.5 369.6 905.7 370.4 911.3 371.1 914.9 371.9 924.5 372.6 930.7 373.4 931.5 374.1 928.1 374.8 914.0 375.6 912.9 376.3 907.1 377.1 897.0 377.8 887.5 378.6 873.5 379.3 865.2 380.1 851.2 380.8 830.2 381.6 827.0 382.3 818.5 383.1 806.2 383.8 797.3 384.6 801.9 385.3 819.6 386.1 821.2 386.8 841.0 387.6 838.0 388.3 842.3 389.1 853.8 389.8 853.0 390.6 861.0 391.3 864.4 392.1 873.3 392.8 872.7 393.6 873.7 394.3 878.0 395.1 878.6 395.8 872.8 396.6 882.8 397.3 879.5 398.0 884.3 398.8 880.2 399.5 887.0 400.3 886.4 401.0 889.3 401.8 884.4 402.5 896.2 403.3 902.4 404.0 904.4 404.8 912.2 405.5 907.1 406.3 910.5 407.0 901.9 407.8 913.2 408.5 908.8 409.3 898.1 410.0 909.2 410.8 899.6 411.5 889.1 412.3 899.6 413.0 899.1 413.8 901.2 414.5 895.0 415.3 901.2 416.0 890.4 416.8 892.3 417.5 886.8 418.3 883.7 419.0 882.8 419.7 877.2 420.5 871.5 421.2 863.7 422.0 859.8 422.7 867.2 423.5 857.3 424.2 843.8 425.0 850.2 425.7 851.7 426.5 848.7 427.2 845.7 428.0 849.0 428.7 848.9 429.5 848.5 430.2 833.6 431.0 841.2 431.7 837.2 432.5 844.7 433.2 838.3 434.0 845.2 434.7 843.2 435.5 851.2 436.2 847.4 437.0 847.9 437.7 852.5 438.5 857.1 439.2 859.0 440.0 851.1 440.7 855.1 441.4 850.1 442.2 850.9 442.9 855.7 443.7 854.8 444.4 847.3 445.2 860.6 445.9 854.2 446.7 850.2 447.4 853.0 448.2 853.2 448.9 860.3 449.7 858.5 450.4 861.4 451.2 867.8 451.9 859.3 452.7 861.7 453.4 851.3 454.2 856.4 454.9 848.5 455.7 862.0 456.4 855.8 457.2 859.7 457.9 854.3 458.7 851.2 459.4 847.9 460.2 856.5 460.9 854.7 461.7 862.7 462.4 866.8 463.1 870.0 463.9 862.4 464.6 861.7 465.4 871.0 466.1 863.6 466.9 866.5 467.6 859.9 468.4 857.8 469.1 859.4 469.9 860.5 470.6 872.9 471.4 866.0 472.1 865.9 472.9 863.2 473.6 861.8 474.4 858.0 475.1 862.2 475.9 863.9 476.6 860.5 477.4 865.4 478.1 865.4 478.9 873.0 479.6 864.2 480.4 866.9 481.1 865.9 481.9 867.9 482.6 867.2 483.4 864.7 484.1 868.7 484.8 869.0 485.6 860.3 486.3 857.0 487.1 862.9 487.8 861.6 488.6 857.4 489.3 853.0 490.1 847.8 490.8 853.3 491.6 838.9 492.3 836.8 493.1 833.1 493.8 835.7 494.6 825.1 495.3 800.3 496.1 811.6 496.8 813.7 497.6 819.7 498.3 820.9 499.1 828.3 499.8 825.8 500.6 830.2 501.3 824.7 502.1 828.5 502.8 827.6 503.6 827.8 504.3 839.1 505.1 839.5 505.8 834.8 506.6 831.3 507.3 828.0 508.0 841.2 508.8 830.8 509.5 829.5 510.3 835.4 511.0 835.2 511.8 831.5 512.5 838.5 513.3 846.1 514.0 845.0 514.8 847.7 515.5 838.3 516.3 851.0 517.0 840.9 517.8 842.3 518.5 830.1 519.3 832.5 520.0 819.4 520.8 815.1 521.5 801.4 522.3 774.6 523.0 739.3 523.8 713.5 524.5 688.5 525.3 659.8 526.0 649.5 526.8 631.3 527.5 620.1 528.3 607.4 529.0 597.3 529.7 575.8 530.5 561.5 531.2 578.9 532.0 590.0 532.7 606.0 533.5 611.9 534.2 612.9 535.0 630.6 535.7 654.3 536.5 675.7 537.2 686.5 538.0 717.9 538.7 730.2 539.5 750.3 540.2 772.9 541.0 783.7 541.7 799.1 542.5 804.3 543.2 792.3 544.0 782.2 544.7 775.9 545.5 768.9 546.2 755.4 547.0 749.0 547.7 743.6 548.5 739.1 549.2 733.7 550.0 730.4 550.7 718.0 551.4 721.2 552.2 723.4 552.9 713.8 553.7 716.3 554.4 704.6 555.2 706.6 555.9 709.1 556.7 715.3 557.4 712.0 558.2 716.4 558.9 717.1 559.7 713.3 560.4 707.9 561.2 708.6 561.9 701.7 562.7 706.0 563.4 700.3 564.2 706.3 564.9 701.7 565.7 700.0 566.4 711.9 567.2 714.2 567.9 705.5 568.7 704.9 569.4 709.1 570.2 704.8 570.9 696.7 571.7 703.5 572.4 702.5 573.1 693.9 573.9 693.0 574.6 697.5 575.4 683.3 576.1 686.1 576.9 687.3 577.6 702.9 578.4 714.5 579.1 728.5 579.9 749.5 580.6 767.2 581.4 798.5 582.1 849.5 582.9 903.0 583.6 943.6 584.4 1002.0 585.1 1046.3 585.9 1070.5 586.6 1072.1 587.4 1080.4 588.1 1089.5 588.9 1098.8 589.6 1090.6 590.4 1089.8 591.1 1085.6 591.9 1091.2 592.6 1071.6 593.4 1062.5 594.1 1059.9 594.8 1049.9 595.6 1050.8 596.3 1057.5 597.1 1053.2 597.8 1047.8 598.6 1057.5 599.3 1043.5 600.1 1047.8 600.8 1038.6 601.6 1036.6 602.3 1047.0 603.1 1042.0 603.8 1037.5 604.6 1029.0 605.3 1027.3 606.1 1022.1 606.8 1022.3 607.6 1029.2 608.3 1024.4 609.1 1025.6 609.8 1039.9 610.6 1026.3 611.3 1038.3 612.1 1041.0 612.8 1043.6 613.6 1042.9 614.3 1047.5 615.1 1031.1 615.8 1040.5 616.6 1033.4 617.3 1039.7 618.0 1025.0 618.8 1037.6 619.5 1033.6 620.3 1043.9 621.0 1034.0 621.8 1042.7 622.5 1037.5 623.3 1028.2 624.0 1028.7 624.8 1034.6 625.5 1027.8 626.3 1019.6 627.0 1037.3 627.8 1028.6 628.5 1026.6 629.3 1040.2 630.0 1036.5 630.8 1028.5 631.5 1028.7 632.3 1018.2 633.0 998.7 633.8 1023.4 634.5 1015.0 635.3 1023.1 636.0 1028.4 636.8 1026.9 637.5 1025.5 638.3 1010.1 639.0 1028.6 639.7 1028.3 640.5 1023.6 641.2 1026.5 642.0 1027.8 642.7 1022.5 643.5 1044.1 644.2 1031.0 645.0 1027.2 645.7 1015.4 646.5 1021.6 647.2 1017.5 648.0 1020.2 648.7 1022.4 649.5 1017.7 650.2 1015.9 651.0 1027.9 651.7 1022.0 652.5 1013.4 653.2 1020.4 654.0 1017.3 654.7 1013.1 655.5 1002.2 656.2 1008.3 657.0 1014.4 657.7 1019.9 658.5 1018.8 659.2 1020.3 660.0 997.7 660.7 1004.7 661.4 994.9 662.2 998.8 662.9 1000.9 663.7 1000.9 664.4 1001.9 665.2 1002.5 665.9 1011.2 666.7 1008.2 667.4 992.7 668.2 989.7 668.9 983.6 669.7 990.7 670.4 999.5 671.2 992.7 671.9 993.5 672.7 985.9 673.4 991.9 674.2 989.8 674.9 989.1 675.7 979.3 676.4 1001.6 677.2 995.1 677.9 996.5 678.7 1001.1 679.4 1001.9 680.2 995.1 680.9 991.1 681.7 998.0 682.4 987.2 683.1 989.2 683.9 982.2 684.6 977.1 685.4 972.2 686.1 977.3 686.9 985.5 687.6 985.8 688.4 980.7 689.1 993.8 689.9 983.5 690.6 980.3 691.4 976.8 692.1 975.8 692.9 984.6 693.6 978.8 694.4 973.3 695.1 971.5 695.9 971.5 696.6 967.5 697.4 956.0 698.1 957.7 698.9 956.8 699.6 959.5 700.4 962.0 701.1 948.2 701.9 948.7 702.6 968.0 703.4 961.3 704.1 958.3 704.9 959.0 705.6 968.4 706.3 957.1 707.1 966.5 707.8 968.1 708.6 972.7 709.3 975.5 710.1 962.2 710.8 963.5 711.6 964.1 712.3 961.3 713.1 955.7 713.8 960.9 714.6 950.4 715.3 953.2 716.1 954.2 716.8 951.5 717.6 963.4 718.3 945.0 719.1 949.7 719.8 962.9 720.6 950.1 721.3 962.4 722.1 956.1 722.8 958.2 723.6 962.1 724.3 962.2 725.1 953.7 725.8 954.5 726.6 960.1 727.3 948.2 728.0 951.4 728.8 952.4 729.5 939.7 730.3 932.7 731.0 929.8 731.8 935.9 732.5 931.4 733.3 917.4 734.0 912.6 734.8 924.1 735.5 918.3 736.3 918.4 737.0 907.4 737.8 912.8 738.5 910.5 739.3 909.1 740.0 908.5 740.8 908.4 741.5 914.8 742.3 910.5 743.0 906.3 743.8 910.9 744.5 890.5 745.3 901.4 746.0 899.5 746.8 893.8 747.5 898.0 748.3 892.8 749.0 889.2 749.7 907.2 750.5 897.9 751.2 893.2 752.0 894.5 752.7 890.7 753.5 888.1 754.2 894.6 755.0 902.7 755.7 909.5 756.5 900.5 757.2 904.8 758.0 899.1 758.7 901.1 759.5 886.8 760.2 897.5 761.0 893.8 761.7 889.6 762.5 885.3 763.2 892.4 764.0 894.9 764.7 886.1 765.5 883.4 766.2 895.4 767.0 896.5 767.7 893.4 768.5 909.3 769.2 889.7 770.0 886.8 770.7 888.3 771.4 885.7 772.2 879.5 772.9 871.3 773.7 879.4 774.4 883.3 775.2 880.7 775.9 878.2 776.7 876.0 777.4 874.6 778.2 875.9 778.9 874.1 779.7 871.2 780.4 869.8 781.2 870.5 781.9 875.0 782.7 877.7 783.4 878.2 784.2 866.2 784.9 868.0 785.7 867.0 786.4 873.9 787.2 873.2 787.9 876.8 788.7 872.3 789.4 866.4 790.2 868.0 790.9 868.3 791.7 873.1 792.4 868.5 793.1 856.1 793.9 869.5 794.6 861.2 795.4 858.2 796.1 861.2 796.9 863.6 797.6 869.4 798.4 868.8 799.1 863.9 799.9 879.4 800.6 856.4 801.4 868.0 802.1 860.1 802.9 861.8 803.6 855.3 804.4 858.7 805.1 849.8 805.9 837.3 806.6 854.8 807.4 853.4 808.1 846.7 808.9 854.7 809.6 850.7 810.4 847.9 811.1 853.1 811.9 845.6 812.6 850.8 813.4 854.6 814.1 850.1 814.9 844.7 815.6 837.7 816.3 849.0 817.1 841.5 817.8 845.8 818.6 833.4 819.3 821.6 820.1 830.2 820.8 826.9 821.6 829.1 822.3 833.9 823.1 823.7 823.8 809.0 824.6 816.3 825.3 802.1 826.1 795.0 826.8 783.6 827.6 788.3 828.3 778.2 829.1 775.0 829.8 767.2 830.6 757.8 831.3 736.5 832.1 737.6 832.8 727.7 833.6 722.9 834.3 723.5 835.1 726.0 835.8 708.1 836.6 695.5 837.3 691.5 838.0 686.1 838.8 686.9 839.5 688.6 840.3 689.8 841.0 698.1 841.8 708.2 842.5 716.6 843.3 713.1 844.0 726.3 844.8 735.0 845.5 747.1 846.3 750.5 847.0 761.9 847.8 768.9 848.5 770.2 849.3 787.3 850.0 815.2 850.8 842.6 851.5 857.7 852.3 874.8 853.0 908.4 853.8 904.3 854.5 917.2 855.3 931.5 856.0 949.1 856.8 947.7 857.5 950.1 858.3 942.9 859.0 947.2 859.7 932.7 860.5 942.7 861.2 926.5 862.0 916.3 862.7 917.4 863.5 913.2 864.2 927.8 865.0 929.4 865.7 940.8 866.5 937.7 867.2 950.9 868.0 958.2 868.7 957.6 869.5 954.7 870.2 947.1 871.0 933.2 871.7 931.2 872.5 927.2 873.2 936.1 874.0 926.2 874.7 927.2 875.5 924.9 876.2 923.1 877.0 910.9 877.7 910.0 878.5 907.3 879.2 907.0 880.0 907.4 880.7 901.9 881.4 907.6 882.2 908.7 882.9 905.2 883.7 905.8 884.4 913.9 885.2 900.8 885.9 904.3 886.7 899.7 887.4 897.7 888.2 892.8 888.9 899.3 889.7 891.5 890.4 897.4 891.2 892.6 891.9 884.4 892.7 900.5 893.4 890.8 894.2 895.1 894.9 894.9 895.7 891.6 896.4 887.1 897.2 888.3 897.9 883.9 898.7 887.1 899.4 882.8 900.2 888.1 900.9 877.5 901.7 882.1 902.4 874.3 903.1 872.7 903.9 881.0 904.6 882.3 905.4 877.7 906.1 870.8 906.9 882.6 907.6 871.2 908.4 867.8 909.1 880.9 909.9 873.1 910.6 875.4 911.4 878.8 912.1 878.2 912.9 876.1 913.6 875.6 914.4 870.4 915.1 869.8 915.9 861.4 916.6 874.0 917.4 867.5 918.1 857.3 918.9 856.7 919.6 862.9 920.4 850.1 921.1 854.0 921.9 857.4 922.6 859.0 923.4 848.0 924.1 848.1 924.9 848.8 925.6 859.7 926.3 850.0 927.1 857.0 927.8 838.8 928.6 842.3 929.3 838.0 930.1 851.6 930.8 838.7 931.6 843.4 932.3 840.1 933.1 852.9 933.8 850.8 934.6 847.8 935.3 853.8 936.1 853.8 936.8 857.9 937.6 861.7 938.3 868.7 939.1 869.8 939.8 872.4 940.6 863.1 941.3 868.4 942.1 866.0 942.8 870.5 943.6 873.2 944.3 877.7 945.1 880.7 945.8 881.0 946.6 877.7 947.3 877.7 948.0 874.3 948.8 869.1 949.5 878.9 950.3 878.5 951.0 863.0 951.8 871.3 952.5 873.1 953.3 861.3 954.0 863.7 954.8 870.5 955.5 872.1 956.3 867.3 957.0 878.9 957.8 871.9 958.5 883.7 959.3 882.2 960.0 877.0 960.8 882.6 961.5 882.9 962.3 892.6 963.0 891.3 963.8 892.3 964.5 890.1 965.3 893.3 966.0 883.8 966.8 887.6 967.5 885.9 968.3 872.3 969.0 882.7 969.7 877.3 970.5 879.4 971.2 878.5 972.0 877.0 972.7 867.4 973.5 865.7 974.2 867.8 975.0 861.5 975.7 858.4 976.5 847.2 977.2 841.9 978.0 838.1 978.7 843.1 979.5 840.2 980.2 834.2 981.0 838.4 981.7 839.0 982.5 836.2 983.2 841.1 984.0 847.6 984.7 844.1 985.5 841.0 986.2 831.1 987.0 840.8 987.7 837.5 988.5 828.9 989.2 837.1 990.0 823.6 990.7 812.4 991.4 815.1 992.2 811.9 992.9 813.3 993.7 808.7 994.4 807.3 995.2 789.8 995.9 803.2 996.7 791.0 997.4 794.4 998.2 794.8 998.9 782.4 999.7 787.5 1000.4 786.1 1001.2 777.9 1001.9 772.5 1002.7 771.3 1003.4 774.1 1004.2 769.4 1004.9 762.9 1005.7 761.6 1006.4 756.0 1007.2 756.3 1007.9 755.6 1008.7 764.2 1009.4 783.1 1010.2 780.4 1010.9 784.8 1011.7 789.1 1012.4 787.6 1013.1 791.2 1013.9 797.9 1014.6 803.4 1015.4 804.7 1016.1 800.0 1016.9 797.3 1017.6 806.1 1018.4 799.0 1019.1 792.1 1019.9 795.8 1020.6 791.9 1021.4 783.9 1022.1 801.7 1022.9 796.4 1023.6 803.4 1024.4 802.0 1025.1 802.1 1025.9 801.5 1026.6 795.3 1027.4 777.9 1028.1 786.6 1028.9 786.1 1029.6 783.4 1030.4 770.0 1031.1 761.1 1031.9 727.9 1032.6 653.8 1033.4 614.2 1034.1 581.8 1034.9 555.0 1035.6 524.3 1036.3 518.5 1037.1 493.4 1037.8 476.9 1038.6 492.4 1039.3 502.0 1040.1 526.3 1040.8 550.8 1041.6 568.4 1042.3 594.0 1043.1 632.6 1043.8 658.0 1044.6 693.7 1045.3 705.0 1046.1 695.1 1046.8 683.8 1047.6 678.3 1048.3 668.0 1049.1 673.6 1049.8 671.5 1050.6 657.7 1051.3 653.6 1052.1 657.8 1052.8 645.7 1053.6 643.3 1054.3 641.2 1055.1 641.7 1055.8 630.0 1056.6 635.0 1057.3 626.3 1058.0 629.0 1058.8 612.0 1059.5 615.3 1060.3 601.6 1061.0 604.9 1061.8 602.7 1062.5 593.6 1063.3 595.3 1064.0 597.7 1064.8 605.6 1065.5 604.8 1066.3 601.1 1067.0 604.3 1067.8 624.6 1068.5 614.7 1069.3 617.3 1070.0 616.8 1070.8 611.1 1071.5 620.4 1072.3 622.3 1073.0 627.7 1073.8 620.2 1074.5 627.6 1075.3 623.3 1076.0 619.4 1076.8 604.8 1077.5 601.2 1078.3 591.4 1079.0 589.7 1079.7 580.1 1080.5 583.2 1081.2 570.4 1082.0 576.2 1082.7 583.1 1083.5 607.2 1084.2 636.1 1085.0 692.4 1085.7 739.7 1086.5 780.9 1087.2 850.3 1088.0 924.2 1088.7 968.5 1089.5 1016.6 1090.2 1059.2 1091.0 1097.5 1091.7 1128.9 1092.5 1145.6 1093.2 1163.6 1094.0 1143.0 1094.7 1130.0 1095.5 1130.3 1096.2 1120.8 1097.0 1114.2 1097.7 1112.2 1098.5 1112.6 1099.2 1107.0 1100.0 1110.4 1100.7 1106.2 1101.4 1101.3 1102.2 1098.8 1102.9 1098.5 1103.7 1088.7 1104.4 1085.3 1105.2 1078.8 1105.9 1083.2 1106.7 1075.7 1107.4 1081.4 1108.2 1080.1 1108.9 1075.9 1109.7 1077.2 1110.4 1074.2 1111.2 1073.1 1111.9 1075.4 1112.7 1070.7 1113.4 1068.6 1114.2 1076.2 1114.9 1061.0 1115.7 1065.5 1116.4 1058.0 1117.2 1064.9 1117.9 1065.2 1118.7 1068.9 1119.4 1059.1 1120.2 1058.2 1120.9 1056.7 1121.7 1059.4 1122.4 1063.9 1123.1 1069.3 1123.9 1057.0 1124.6 1064.0 1125.4 1071.5 1126.1 1071.3 1126.9 1077.4 1127.6 1084.5 1128.4 1074.7 1129.1 1082.1 1129.9 1082.7 1130.6 1085.9 1131.4 1083.2 1132.1 1094.1 1132.9 1092.5 1133.6 1083.8 1134.4 1095.0 1135.1 1082.7 1135.9 1071.9 1136.6 1070.7 1137.4 1064.3 1138.1 1051.9 1138.9 1049.2 1139.6 1050.9 1140.4 1046.9 1141.1 1036.2 1141.9 1022.8 1142.6 1028.6 1143.4 1021.8 1144.1 1032.1 1144.9 1026.4 1145.6 1025.2 1146.3 1026.8 1147.1 1036.6 1147.8 1028.4 1148.6 1026.8 1149.3 1039.9 1150.1 1034.7 1150.8 1031.2 1151.6 1044.0 1152.3 1038.2 1153.1 1028.4 1153.8 1037.1 1154.6 1037.8 1155.3 1038.9 1156.1 1035.4 1156.8 1032.3 1157.6 1040.4 1158.3 1023.9 1159.1 1034.1 1159.8 1037.7 1160.6 1037.8 1161.3 1043.2 1162.1 1039.6 1162.8 1041.1 1163.6 1035.7 1164.3 1031.0 1165.1 1035.7 1165.8 1028.9 1166.6 1028.2 1167.3 1019.2 1168.0 1019.9 1168.8 1016.4 1169.5 1017.6 1170.3 1023.0 1171.0 1018.3 1171.8 1008.3 1172.5 1009.8 1173.3 1003.2 1174.0 1011.4 1174.8 1000.9 1175.5 1008.9 1176.3 1003.5 1177.0 1007.3 1177.8 1010.0 1178.5 1002.6 1179.3 1001.3 1180.0 1007.7 1180.8 1004.1 1181.5 1000.8 1182.3 1008.2 1183.0 1004.6 1183.8 1011.3 1184.5 1008.4 1185.3 1014.9 1186.0 1023.9 1186.8 1020.4 1187.5 1015.5 1188.3 1017.5 1189.0 1020.3 1189.7 1017.1 1190.5 1012.4 1191.2 1015.2 1192.0 1002.2 1192.7 1004.6 1193.5 1015.7 1194.2 1006.6 1195.0 996.7 1195.7 995.4 1196.5 994.7 1197.2 994.2 1198.0 989.9 1198.7 981.6 1199.5 969.3 1200.2 973.2 1201.0 959.3 1201.7 956.8 1202.5 948.7 1203.2 933.5 1204.0 919.4 1204.7 886.3 1205.5 861.2 1206.2 823.3 1207.0 797.7 1207.7 758.9 1208.5 709.9 1209.2 667.2 1210.0 652.0 1210.7 636.8 1211.4 619.8 1212.2 611.5 1212.9 602.6 1213.7 602.4 1214.4 606.5 1215.2 609.4 1215.9 614.4 1216.7 632.5 1217.4 642.1 1218.2 638.6 1218.9 635.4 1219.7 646.2 1220.4 648.1 1221.2 642.9 1221.9 644.2 1222.7 642.8 1223.4 635.4 1224.2 637.3 1224.9 629.7 1225.7 636.1 1226.4 619.9 1227.2 611.8 1227.9 606.6 1228.7 608.2 1229.4 600.4 1230.2 601.6 1230.9 601.4 1231.7 595.5 1232.4 579.7 1233.1 596.9 1233.9 580.9 1234.6 578.0 1235.4 566.9 1236.1 564.4 1236.9 563.4 1237.6 574.0 1238.4 577.3 1239.1 578.1 1239.9 584.0 1240.6 594.8 1241.4 591.1 1242.1 595.2 1242.9 596.1 1243.6 592.7 1244.4 603.1 1245.1 600.1 1245.9 597.5 1246.6 597.0 1247.4 601.7 1248.1 592.2 1248.9 612.3 1249.6 609.1 1250.4 612.1 1251.1 605.0 1251.9 613.0 1252.6 601.1 1253.4 603.3 1254.1 606.8 1254.9 611.2 1255.6 612.5 1256.3 607.3 1257.1 603.0 1257.8 591.7 1258.6 599.4 1259.3 587.3 1260.1 586.1 1260.8 588.4 1261.6 591.3 1262.3 584.0 1263.1 576.0 1263.8 577.9 1264.6 571.5 1265.3 590.7 1266.1 599.9 1266.8 610.0 1267.6 619.4 1268.3 639.1 1269.1 659.8 1269.8 673.2 1270.6 690.4 1271.3 718.6 1272.1 727.2 1272.8 747.6 1273.6 773.0 1274.3 781.6 1275.1 793.7 1275.8 788.5 1276.6 801.5 1277.3 814.4 1278.0 810.7 1278.8 812.7 1279.5 823.5 1280.3 837.4 1281.0 852.6 1281.8 860.4 1282.5 863.7 1283.3 859.0 1284.0 845.9 1284.8 824.7 1285.5 801.5 1286.3 798.3 1287.0 797.0 1287.8 796.5 1288.5 786.1 1289.3 783.4 1290.0 776.6 1290.8 783.0 1291.5 786.8 1292.3 785.9 1293.0 795.8 1293.8 778.4 1294.5 791.3 1295.3 782.6 1296.0 792.8 1296.8 790.8 1297.5 791.4 1298.3 799.1 1299.0 789.0 1299.7 803.3 1300.5 796.4 1301.2 797.9 1302.0 803.3 1302.7 798.7 1303.5 782.0 1304.2 786.0 1305.0 785.3 1305.7 779.6 1306.5 789.2 1307.2 781.3 1308.0 775.4 1308.7 778.6 1309.5 776.4 1310.2 772.3 1311.0 764.1 1311.7 766.5 1312.5 754.2 1313.2 756.2 1314.0 758.8 1314.7 762.5 1315.5 752.3 1316.2 760.2 1317.0 770.5 1317.7 770.0 1318.5 766.0 1319.2 765.0 1320.0 751.5 1320.7 754.3 1321.4 753.8 1322.2 751.4 1322.9 750.2 1323.7 749.2 1324.4 751.9 1325.2 757.3 1325.9 755.6 1326.7 763.1 1327.4 751.8 1328.2 756.0 1328.9 751.3 1329.7 763.8 1330.4 762.4 1331.2 757.3 1331.9 760.7 1332.7 767.0 1333.4 767.1 1334.2 774.1 1334.9 757.4 1335.7 772.0 1336.4 776.8 1337.2 776.0 1337.9 768.3 1338.7 773.7 1339.4 768.5 1340.2 762.0 1340.9 762.7 1341.7 769.8 1342.4 750.6 1343.2 768.4 1343.9 756.0 1344.6 762.2 1345.4 764.1 1346.1 756.4 1346.9 758.9 1347.6 749.1 1348.4 752.2 1349.1 747.4 1349.9 756.4 1350.6 754.9 1351.4 772.7 1352.1 769.1 1352.9 775.3 1353.6 780.4 1354.4 784.7 1355.1 781.8 1355.9 779.0 1356.6 778.3 1357.4 781.6 1358.1 769.2 1358.9 768.1 1359.6 764.0 1360.4 762.6 1361.1 754.7 1361.9 746.6 1362.6 745.1 1363.4 753.5 1364.1 742.5 1364.9 732.4 1365.6 749.1 1366.3 720.8 1367.1 714.0 1367.8 722.0 1368.6 720.1 1369.3 721.5 1370.1 714.4 1370.8 723.3 1371.6 732.0 1372.3 732.1 1373.1 739.6 1373.8 729.9 1374.6 735.2 1375.3 732.7 1376.1 739.5 1376.8 738.4 1377.6 743.4 1378.3 747.7 1379.1 746.1 1379.8 747.9 1380.6 759.4 1381.3 757.1 1382.1 758.4 1382.8 757.2 1383.6 737.3 1384.3 720.8 1385.1 682.4 1385.8 612.1 1386.6 561.1 1387.3 520.1 1388.0 486.6 1388.8 461.5 1389.5 427.1 1390.3 440.5 1391.0 451.0 1391.8 469.0 1392.5 482.7 1393.3 505.2 1394.0 529.2 1394.8 535.3 1395.5 556.4 1396.3 578.2 1397.0 590.3 1397.8 582.8 1398.5 577.8 1399.3 576.3 1400.0 577.3 1400.8 568.6 1401.5 569.9 1402.3 569.5 1403.0 570.0 1403.8 558.8 1404.5 556.4 1405.3 555.9 1406.0 542.1 1406.8 547.0 1407.5 546.7 1408.3 550.4 1409.0 551.5 1409.7 547.0 1410.5 537.0 1411.2 549.2 1412.0 536.0 1412.7 547.8 1413.5 537.7 1414.2 536.0 1415.0 542.7 1415.7 540.6 1416.5 548.0 1417.2 534.4 1418.0 534.5 1418.7 527.4 1419.5 515.0 1420.2 511.9 1421.0 509.6 1421.7 508.2 1422.5 498.9 1423.2 493.2 1424.0 475.8 1424.7 473.8 1425.5 477.1 1426.2 500.5 1427.0 514.6 1427.7 544.9 1428.5 559.4 1429.2 603.4 1430.0 665.6 1430.7 768.4 1431.4 839.9 1432.2 871.4 1432.9 921.1 1433.7 963.9 1434.4 1042.8 1435.2 1093.4 1435.9 1128.8 1436.7 1165.9 1437.4 1187.1 1438.2 1211.5 1438.9 1211.1 1439.7 1184.2 1440.4 1173.2 1441.2 1161.4 1441.9 1151.1 1442.7 1154.7 1443.4 1144.3 1444.2 1135.0 1444.9 1135.0 1445.7 1139.4 1446.4 1129.1 1447.2 1128.3 1447.9 1130.6 1448.7 1127.9 1449.4 1121.3 1450.2 1119.6 1450.9 1126.4 1451.7 1121.0 1452.4 1124.8 1453.2 1132.1 1453.9 1123.3 1454.6 1127.5 1455.4 1122.7 1456.1 1116.4 1456.9 1134.6 1457.6 1132.4 1458.4 1115.6 1459.1 1129.8 1459.9 1118.1 1460.6 1124.3 1461.4 1132.7 1462.1 1120.7 1462.9 1129.8 1463.6 1129.0 1464.4 1133.8 1465.1 1143.0 1465.9 1139.6 1466.6 1141.9 1467.4 1158.1 1468.1 1167.7 1468.9 1156.1 1469.6 1154.4 1470.4 1159.0 1471.1 1160.2 1471.9 1154.9 1472.6 1158.6 1473.4 1166.5 1474.1 1168.7 1474.9 1175.1 1475.6 1164.0 1476.3 1152.1 1477.1 1159.1 1477.8 1139.7 1478.6 1134.9 1479.3 1136.7 1480.1 1125.9 1480.8 1120.6 1481.6 1128.0 1482.3 1120.9 1483.1 1114.3 1483.8 1110.4 1484.6 1102.5 1485.3 1116.5 1486.1 1107.5 1486.8 1128.9 1487.6 1128.5 1488.3 1146.9 1489.1 1168.2 1489.8 1170.1 1490.6 1200.2 1491.3 1187.3 1492.1 1208.2 1492.8 1201.6 1493.6 1210.9 1494.3 1204.5 1495.1 1197.1 1495.8 1188.9 1496.6 1181.5 1497.3 1177.4 1498.0 1172.5 1498.8 1162.6 1499.5 1171.3 1500.3 1160.0 1501.0 1168.2 1501.8 1150.9 1502.5 1148.8 1503.3 1151.7 1504.0 1145.3 1504.8 1134.3 1505.5 1137.9 1506.3 1141.2 1507.0 1135.2 1507.8 1135.1 1508.5 1132.6 1509.3 1136.8 1510.0 1120.1 1510.8 1123.8 1511.5 1126.4 1512.3 1120.0 1513.0 1123.3 1513.8 1129.8 1514.5 1121.5 1515.3 1124.8 1516.0 1121.7 1516.8 1133.0 1517.5 1125.3 1518.3 1119.9 1519.0 1116.0 1519.7 1107.8 1520.5 1114.6 1521.2 1108.3 1522.0 1105.2 1522.7 1110.2 1523.5 1116.9 1524.2 1101.3 1525.0 1089.1 1525.7 1090.5 1526.5 1083.6 1527.2 1081.9 1528.0 1079.5 1528.7 1083.8 1529.5 1083.7 1530.2 1078.8 1531.0 1085.1 1531.7 1097.1 1532.5 1089.5 1533.2 1101.1 1534.0 1093.2 1534.7 1097.3 1535.5 1097.2 1536.2 1102.4 1537.0 1093.9 1537.7 1118.8 1538.5 1121.4 1539.2 1109.8 1540.0 1112.2 1540.7 1110.6 1541.4 1106.4 1542.2 1099.0 1542.9 1099.1 1543.7 1102.2 1544.4 1098.0 1545.2 1095.0 1545.9 1094.6 1546.7 1103.3 1547.4 1106.3 1548.2 1104.4 1548.9 1104.6 1549.7 1116.6 1550.4 1107.9 1551.2 1098.9 1551.9 1103.8 1552.7 1098.9 1553.4 1093.8 1554.2 1094.3 1554.9 1104.4 1555.7 1089.7 1556.4 1097.3 1557.2 1097.7 1557.9 1098.0 1558.7 1100.2 1559.4 1092.9 1560.2 1093.4 1560.9 1090.6 1561.7 1087.2 1562.4 1083.9 1563.2 1079.5 1563.9 1071.0 1564.6 1093.6 1565.4 1103.1 1566.1 1095.4 1566.9 1107.2 1567.6 1104.9 1568.4 1101.4 1569.1 1102.5 1569.9 1091.1 1570.6 1095.6 1571.4 1106.7 1572.1 1102.3 1572.9 1108.0 1573.6 1117.4 1574.4 1105.7 1575.1 1111.0 1575.9 1111.5 1576.6 1110.5 1577.4 1105.8 1578.1 1099.8 1578.9 1091.7 1579.6 1096.1 1580.4 1089.3 1581.1 1099.0 1581.9 1090.9 1582.6 1080.7 1583.4 1070.0 1584.1 1070.6 1584.9 1085.8 1585.6 1067.1 1586.3 1077.5 1587.1 1081.7 1587.8 1076.6 1588.6 1072.0 1589.3 1073.5 1590.1 1070.2 1590.8 1077.3 1591.6 1081.6 1592.3 1073.7 1593.1 1081.8 1593.8 1070.2 1594.6 1086.0 1595.3 1068.9 1596.1 1080.5 1596.8 1087.0 1597.6 1080.2 1598.3 1096.8 1599.1 1085.4 1599.8 1082.1 1600.6 1074.7 1601.3 1086.9 1602.1 1080.3 1602.8 1083.6 1603.6 1079.6 1604.3 1072.9 1605.1 1085.8 1605.8 1084.8 1606.6 1084.4 1607.3 1084.7 1608.0 1084.6 1608.8 1089.7 1609.5 1107.8 1610.3 1104.1 1611.0 1097.7 1611.8 1092.3 1612.5 1092.3 1613.3 1083.6 1614.0 1090.2 1614.8 1078.9 1615.5 1075.2 1616.3 1083.1 1617.0 1080.0 1617.8 1073.9 1618.5 1072.9 1619.3 1069.0 1620.0 1058.6 1620.8 1058.2 1621.5 1049.4 1622.3 1043.3 1623.0 1047.5 1623.8 1037.6 1624.5 1033.9 1625.3 1035.5 1626.0 1038.1 1626.8 1032.5 1627.5 1042.7 1628.3 1023.7 1629.0 1026.3 1629.7 1019.7 1630.5 1020.6 1631.2 1024.9 1632.0 1030.1 1632.7 1028.6 1633.5 1031.8 1634.2 1030.0 1635.0 1038.7 1635.7 1040.8 1636.5 1041.1 1637.2 1041.0 1638.0 1026.4 1638.7 1037.1 1639.5 1037.1 1640.2 1049.3 1641.0 1057.3 1641.7 1053.7 1642.5 1045.1 1643.2 1041.4 1644.0 1036.6 1644.7 1037.4 1645.5 1035.0 1646.2 1032.7 1647.0 1029.1 1647.7 1022.9 1648.5 1016.9 1649.2 1019.0 1650.0 1032.4 1650.7 1011.3 1651.4 1016.0 1652.2 1026.1 1652.9 1023.7 1653.7 1031.7 1654.4 1029.8 1655.2 1026.8 1655.9 1033.1 1656.7 1030.0 1657.4 1031.0 1658.2 1045.4 1658.9 1039.6 1659.7 1036.3 1660.4 1028.3 1661.2 1032.2 1661.9 1035.0 1662.7 1011.6 1663.4 1016.3 1664.2 1019.2 1664.9 1028.9 1665.7 1019.9 1666.4 1039.2 1667.2 1033.2 1667.9 1021.3 1668.7 1030.5 1669.4 1030.0 1670.2 1015.8 1670.9 1009.7 1671.7 1023.5 1672.4 1027.3 1673.2 1017.2 1673.9 1017.3 1674.6 1024.3 1675.4 1020.2 1676.1 1022.6 1676.9 1020.3 1677.6 1030.7 1678.4 1034.2 1679.1 1023.2 1679.9 1038.3 1680.6 1029.1 1681.4 1018.0 1682.1 1014.7 1682.9 1010.2 1683.6 999.6 1684.4 1012.4 1685.1 1001.2 1685.9 1002.7 1686.6 1002.2 1687.4 1005.5 1688.1 999.4 1688.9 997.6 1689.6 1012.8 1690.4 1003.7 1691.1 1017.7 1691.9 1019.9 1692.6 1021.0 1693.4 1021.7 1694.1 1023.9 1694.9 1016.7 1695.6 1016.8 1696.3 1024.9 1697.1 1020.6 1697.8 1028.0 1698.6 1026.2 1699.3 1013.2 1700.1 1017.2 1700.8 1013.9 1701.6 1014.0 1702.3 1017.5 1703.1 1023.7 1703.8 1015.5 1704.6 1011.2 1705.3 1010.0 1706.1 1007.7 1706.8 1012.8 1707.6 1012.4 1708.3 1012.7 1709.1 1009.8 1709.8 1013.9 1710.6 1018.7 1711.3 1013.7 1712.1 1021.7 1712.8 1020.4 1713.6 1020.6 1714.3 1027.1 1715.1 1011.1 1715.8 1031.0 1716.6 1025.7 1717.3 1021.7" stroke="#66D415" stroke-width="10" stroke-dasharray="34 32"/>
<path d="M220.7 890.1 221.4 875.3 222.2 867.6 222.9 866.8 223.7 870.1 224.4 859.3 225.2 866.1 225.9 857.1 226.7 863.2 227.4 854.7 228.2 861.1 228.9 851.8 229.7 864.3 230.4 858.7 231.2 863.4 231.9 855.9 232.7 857.1 233.4 860.5 234.2 856.9 234.9 855.1 235.7 845.8 236.4 856.3 237.2 851.6 237.9 844.8 238.7 846.9 239.4 840.6 240.2 832.9 240.9 831.6 241.7 833.2 242.4 824.6 243.1 816.3 243.9 815.5 244.6 803.8 245.4 800.1 246.1 807.0 246.9 820.3 247.6 821.9 248.4 824.6 249.1 829.7 249.9 829.2 250.6 825.7 251.4 833.9 252.1 833.2 252.9 842.8 253.6 851.2 254.4 849.3 255.1 841.8 255.9 848.1 256.6 843.4 257.4 843.2 258.1 843.2 258.9 839.7 259.6 836.6 260.4 838.6 261.1 845.9 261.9 848.8 262.6 844.6 263.4 841.4 264.1 833.1 264.8 831.7 265.6 826.3 266.3 833.5 267.1 827.6 267.8 832.1 268.6 837.5 269.3 840.2 270.1 841.8 270.8 849.0 271.6 853.6 272.3 847.2 273.1 839.6 273.8 841.7 274.6 837.5 275.3 845.9 276.1 831.2 276.8 826.2 277.6 826.9 278.3 827.0 279.1 818.7 279.8 822.4 280.6 822.1 281.3 813.3 282.1 812.5 282.8 807.0 283.6 800.9 284.3 792.7 285.1 774.4 285.8 777.9 286.6 770.7 287.3 763.2 288.0 747.8 288.8 751.4 289.5 744.2 290.3 740.5 291.0 758.9 291.8 762.9 292.5 781.3 293.3 796.0 294.0 812.0 294.8 837.8 295.5 853.2 296.3 880.3 297.0 893.8 297.8 906.5 298.5 913.5 299.3 930.0 300.0 928.7 300.8 923.2 301.5 909.4 302.3 908.6 303.0 898.7 303.8 890.5 304.5 891.0 305.3 886.8 306.0 883.4 306.8 872.9 307.5 878.2 308.3 870.0 309.0 875.2 309.7 879.4 310.5 878.0 311.2 876.4 312.0 882.8 312.7 882.3 313.5 869.1 314.2 877.3 315.0 881.7 315.7 870.5 316.5 870.5 317.2 865.3 318.0 868.8 318.7 866.1 319.5 870.4 320.2 874.5 321.0 869.7 321.7 865.5 322.5 869.0 323.2 867.9 324.0 875.4 324.7 870.2 325.5 872.1 326.2 871.4 327.0 872.7 327.7 877.0 328.5 873.8 329.2 878.5 330.0 887.3 330.7 879.3 331.4 881.3 332.2 883.2 332.9 876.1 333.7 864.7 334.4 874.3 335.2 871.8 335.9 869.2 336.7 876.2 337.4 872.6 338.2 872.1 338.9 876.8 339.7 873.4 340.4 876.1 341.2 865.7 341.9 866.4 342.7 867.4 343.4 874.1 344.2 876.3 344.9 881.2 345.7 880.2 346.4 886.2 347.2 865.8 347.9 870.4 348.7 873.3 349.4 870.5 350.2 865.1 350.9 868.6 351.7 856.7 352.4 860.2 353.1 852.3 353.9 851.8 354.6 852.0 355.4 845.5 356.1 846.6 356.9 845.9 357.6 844.4 358.4 839.2 359.1 833.5 359.9 836.8 360.6 828.8 361.4 826.1 362.1 825.0 362.9 836.7 363.6 843.6 364.4 859.8 365.1 866.2 365.9 867.6 366.6 875.7 367.4 890.4 368.1 902.0 368.9 898.4 369.6 907.2 370.4 906.0 371.1 910.3 371.9 915.3 372.6 926.4 373.4 919.1 374.1 934.4 374.8 913.4 375.6 901.9 376.3 892.6 377.1 897.6 377.8 880.7 378.6 862.0 379.3 855.7 380.1 847.8 380.8 829.5 381.6 828.6 382.3 816.0 383.1 805.1 383.8 787.5 384.6 799.3 385.3 809.1 386.1 814.0 386.8 836.0 387.6 828.8 388.3 833.4 389.1 848.6 389.8 852.8 390.6 850.7 391.3 861.8 392.1 866.9 392.8 870.1 393.6 868.0 394.3 867.8 395.1 864.1 395.8 861.4 396.6 861.8 397.3 873.7 398.0 880.9 398.8 870.7 399.5 887.2 400.3 879.6 401.0 879.5 401.8 884.2 402.5 889.2 403.3 894.4 404.0 898.9 404.8 906.7 405.5 904.9 406.3 909.0 407.0 899.3 407.8 908.8 408.5 910.3 409.3 891.8 410.0 904.1 410.8 896.2 411.5 891.8 412.3 896.8 413.0 908.3 413.8 899.4 414.5 898.5 415.3 893.1 416.0 891.4 416.8 890.7 417.5 876.6 418.3 882.1 419.0 879.1 419.7 868.9 420.5 868.0 421.2 861.3 422.0 857.7 422.7 860.8 423.5 851.8 424.2 853.7 425.0 852.3 425.7 832.6 426.5 842.6 427.2 839.4 428.0 844.9 428.7 844.5 429.5 839.0 430.2 821.9 431.0 828.6 431.7 830.9 432.5 838.9 433.2 832.9 434.0 841.8 434.7 849.3 435.5 844.0 436.2 846.3 437.0 847.7 437.7 853.5 438.5 858.4 439.2 856.5 440.0 849.8 440.7 849.6 441.4 846.5 442.2 845.5 442.9 845.7 443.7 847.6 444.4 855.4 445.2 853.1 445.9 849.3 446.7 849.1 447.4 847.7 448.2 843.8 448.9 855.3 449.7 848.6 450.4 848.0 451.2 853.7 451.9 854.5 452.7 852.5 453.4 846.6 454.2 852.6 454.9 850.9 455.7 858.4 456.4 846.9 457.2 851.6 457.9 848.0 458.7 847.6 459.4 850.0 460.2 858.4 460.9 851.8 461.7 856.9 462.4 854.7 463.1 861.1 463.9 860.9 464.6 857.9 465.4 866.0 466.1 858.2 466.9 856.7 467.6 857.4 468.4 854.2 469.1 854.3 469.9 853.7 470.6 866.9 471.4 852.6 472.1 854.9 472.9 856.4 473.6 855.4 474.4 853.1 475.1 864.3 475.9 860.2 476.6 857.4 477.4 860.5 478.1 852.7 478.9 863.2 479.6 860.2 480.4 859.6 481.1 856.3 481.9 859.1 482.6 859.5 483.4 855.5 484.1 852.5 484.8 858.9 485.6 852.6 486.3 860.5 487.1 858.6 487.8 860.2 488.6 856.4 489.3 849.0 490.1 841.3 490.8 845.1 491.6 836.6 492.3 834.5 493.1 822.0 493.8 825.4 494.6 820.1 495.3 795.3 496.1 807.8 496.8 808.7 497.6 813.4 498.3 816.6 499.1 824.8 499.8 821.1 500.6 826.9 501.3 825.9 502.1 819.9 502.8 825.5 503.6 826.5 504.3 826.9 505.1 833.9 505.8 834.2 506.6 819.6 507.3 823.3 508.0 829.0 508.8 828.4 509.5 820.6 510.3 827.2 511.0 829.4 511.8 825.2 512.5 830.6 513.3 847.8 514.0 839.6 514.8 841.0 515.5 840.0 516.3 837.6 517.0 829.3 517.8 835.3 518.5 828.8 519.3 826.8 520.0 814.3 520.8 808.5 521.5 797.0 522.3 767.4 523.0 733.8 523.8 713.3 524.5 670.2 525.3 652.3 526.0 641.5 526.8 627.9 527.5 607.3 528.3 593.2 529.0 590.9 529.7 567.5 530.5 556.1 531.2 574.1 532.0 577.5 532.7 608.7 533.5 615.8 534.2 620.0 535.0 632.9 535.7 652.8 536.5 669.7 537.2 684.3 538.0 708.6 538.7 728.8 539.5 746.4 540.2 767.2 541.0 779.9 541.7 791.6 542.5 792.5 543.2 779.1 544.0 769.3 544.7 761.9 545.5 757.2 546.2 749.1 547.0 737.6 547.7 736.5 548.5 733.4 549.2 731.1 550.0 723.2 550.7 716.6 551.4 715.0 552.2 709.8 552.9 703.0 553.7 706.0 554.4 698.7 555.2 703.6 555.9 701.0 556.7 699.6 557.4 704.8 558.2 711.3 558.9 711.5 559.7 698.6 560.4 707.6 561.2 703.0 561.9 702.8 562.7 708.8 563.4 698.2 564.2 707.8 564.9 708.6 565.7 701.3 566.4 711.9 567.2 705.5 567.9 708.2 568.7 695.9 569.4 703.2 570.2 701.0 570.9 702.6 571.7 693.0 572.4 697.3 573.1 690.9 573.9 691.4 574.6 693.7 575.4 687.7 576.1 687.6 576.9 689.1 577.6 698.8 578.4 708.6 579.1 728.2 579.9 748.3 580.6 758.0 581.4 795.0 582.1 836.6 582.9 895.6 583.6 944.9 584.4 992.7 585.1 1041.2 585.9 1064.4 586.6 1072.0 587.4 1080.1 588.1 1091.8 588.9 1081.9 589.6 1087.4 590.4 1071.9 591.1 1072.4 591.9 1065.2 592.6 1052.3 593.4 1051.2 594.1 1054.1 594.8 1048.2 595.6 1053.7 596.3 1048.5 597.1 1040.9 597.8 1050.5 598.6 1040.7 599.3 1035.4 600.1 1038.4 600.8 1029.3 601.6 1037.1 602.3 1040.6 603.1 1032.1 603.8 1039.4 604.6 1023.2 605.3 1028.9 606.1 1022.8 606.8 1022.9 607.6 1023.5 608.3 1017.1 609.1 1026.7 609.8 1026.5 610.6 1022.0 611.3 1031.2 612.1 1037.1 612.8 1043.4 613.6 1038.9 614.3 1040.3 615.1 1032.4 615.8 1036.2 616.6 1036.5 617.3 1031.0 618.0 1018.4 618.8 1022.0 619.5 1020.7 620.3 1030.6 621.0 1024.4 621.8 1032.2 622.5 1028.0 623.3 1014.8 624.0 1024.7 624.8 1017.8 625.5 1017.1 626.3 1014.9 627.0 1031.4 627.8 1012.1 628.5 1026.0 629.3 1029.0 630.0 1028.2 630.8 1021.4 631.5 1011.7 632.3 1016.1 633.0 1011.9 633.8 1015.7 634.5 1021.0 635.3 1012.2 636.0 1015.3 636.8 1018.3 637.5 1020.9 638.3 1004.5 639.0 1020.0 639.7 1021.0 640.5 1018.5 641.2 1029.9 642.0 1022.0 642.7 1014.8 643.5 1043.1 644.2 1032.3 645.0 1025.5 645.7 1020.3 646.5 1019.7 647.2 1018.6 648.0 1031.6 648.7 1025.5 649.5 1016.1 650.2 1013.3 651.0 1016.6 651.7 1012.0 652.5 1012.8 653.2 1009.3 654.0 1007.7 654.7 1002.5 655.5 995.5 656.2 999.3 657.0 1005.5 657.7 1007.3 658.5 1011.1 659.2 999.7 660.0 994.7 660.7 1001.7 661.4 994.3 662.2 990.1 662.9 997.8 663.7 1006.4 664.4 999.6 665.2 1006.7 665.9 1007.8 666.7 997.5 667.4 996.9 668.2 986.0 668.9 990.2 669.7 991.4 670.4 989.2 671.2 994.6 671.9 975.7 672.7 984.4 673.4 985.3 674.2 992.6 674.9 992.4 675.7 991.2 676.4 990.8 677.2 989.1 677.9 989.8 678.7 995.4 679.4 989.4 680.2 983.8 680.9 985.5 681.7 983.6 682.4 982.4 683.1 982.6 683.9 977.7 684.6 987.6 685.4 968.4 686.1 983.1 686.9 973.0 687.6 984.1 688.4 986.1 689.1 978.9 689.9 971.6 690.6 971.0 691.4 966.8 692.1 979.0 692.9 969.0 693.6 966.9 694.4 964.7 695.1 959.2 695.9 954.6 696.6 954.0 697.4 955.6 698.1 942.5 698.9 944.2 699.6 952.3 700.4 946.4 701.1 941.1 701.9 950.6 702.6 958.8 703.4 953.2 704.1 953.8 704.9 953.0 705.6 964.4 706.3 953.3 707.1 965.5 707.8 972.1 708.6 962.1 709.3 963.5 710.1 945.1 710.8 954.8 711.6 956.2 712.3 948.1 713.1 946.7 713.8 941.8 714.6 947.5 715.3 940.2 716.1 944.4 716.8 950.6 717.6 949.7 718.3 947.6 719.1 955.3 719.8 958.8 720.6 943.3 721.3 952.6 722.1 950.5 722.8 960.1 723.6 965.4 724.3 961.8 725.1 942.3 725.8 936.1 726.6 943.8 727.3 934.1 728.0 943.9 728.8 931.5 729.5 939.3 730.3 926.6 731.0 918.9 731.8 924.4 732.5 925.8 733.3 914.7 734.0 913.7 734.8 923.7 735.5 907.8 736.3 910.1 737.0 913.7 737.8 922.0 738.5 906.4 739.3 905.7 740.0 901.4 740.8 904.9 741.5 905.2 742.3 902.2 743.0 897.7 743.8 893.3 744.5 892.6 745.3 897.9 746.0 890.0 746.8 889.4 747.5 888.4 748.3 887.3 749.0 892.6 749.7 899.9 750.5 896.9 751.2 884.4 752.0 886.9 752.7 884.1 753.5 891.1 754.2 889.8 755.0 894.4 755.7 898.0 756.5 896.6 757.2 898.9 758.0 896.5 758.7 895.7 759.5 878.1 760.2 892.3 761.0 888.0 761.7 886.6 762.5 874.6 763.2 882.4 764.0 882.7 764.7 881.7 765.5 882.6 766.2 887.0 767.0 892.0 767.7 887.3 768.5 890.9 769.2 886.0 770.0 892.8 770.7 882.2 771.4 886.0 772.2 882.7 772.9 867.6 773.7 873.7 774.4 879.7 775.2 881.0 775.9 877.9 776.7 874.9 777.4 872.1 778.2 874.8 778.9 874.2 779.7 876.5 780.4 873.4 781.2 867.9 781.9 876.4 782.7 866.8 783.4 866.2 784.2 862.8 784.9 873.6 785.7 866.1 786.4 860.7 787.2 868.8 787.9 873.5 788.7 864.5 789.4 875.6 790.2 856.3 790.9 850.1 791.7 868.9 792.4 868.2 793.1 853.6 793.9 857.6 794.6 859.6 795.4 856.0 796.1 849.9 796.9 858.1 797.6 858.5 798.4 861.1 799.1 855.4 799.9 861.4 800.6 864.0 801.4 859.0 802.1 856.0 802.9 851.2 803.6 847.5 804.4 849.4 805.1 853.0 805.9 846.5 806.6 855.3 807.4 859.7 808.1 845.1 808.9 846.6 809.6 850.0 810.4 845.0 811.1 843.2 811.9 839.3 812.6 848.2 813.4 839.7 814.1 845.8 814.9 837.6 815.6 836.3 816.3 840.5 817.1 825.0 817.8 834.1 818.6 823.6 819.3 826.5 820.1 821.7 820.8 819.9 821.6 821.9 822.3 825.0 823.1 818.2 823.8 815.7 824.6 797.3 825.3 787.9 826.1 785.2 826.8 771.0 827.6 765.7 828.3 772.4 829.1 756.3 829.8 762.0 830.6 754.6 831.3 746.0 832.1 728.6 832.8 724.5 833.6 722.6 834.3 714.6 835.1 708.9 835.8 699.6 836.6 691.5 837.3 691.6 838.0 686.0 838.8 679.7 839.5 672.0 840.3 678.2 841.0 686.9 841.8 696.3 842.5 708.1 843.3 714.7 844.0 724.8 844.8 727.4 845.5 747.5 846.3 749.7 847.0 751.5 847.8 757.0 848.5 761.7 849.3 779.7 850.0 802.2 850.8 823.1 851.5 846.6 852.3 869.4 853.0 897.0 853.8 903.9 854.5 912.2 855.3 923.6 856.0 942.8 856.8 943.4 857.5 937.8 858.3 941.7 859.0 932.2 859.7 929.2 860.5 919.7 861.2 917.0 862.0 916.4 862.7 918.4 863.5 915.4 864.2 915.7 865.0 934.8 865.7 936.9 866.5 936.0 867.2 937.5 868.0 958.2 868.7 954.8 869.5 938.2 870.2 936.9 871.0 931.4 871.7 927.1 872.5 915.1 873.2 925.0 874.0 934.6 874.7 921.2 875.5 915.3 876.2 908.8 877.0 899.2 877.7 897.6 878.5 901.8 879.2 900.6 880.0 893.7 880.7 902.6 881.4 893.8 882.2 895.8 882.9 903.5 883.7 901.9 884.4 906.1 885.2 889.6 885.9 884.8 886.7 889.8 887.4 893.5 888.2 887.8 888.9 893.2 889.7 885.0 890.4 890.4 891.2 882.2 891.9 891.7 892.7 886.9 893.4 891.3 894.2 897.3 894.9 888.3 895.7 885.6 896.4 883.6 897.2 880.0 897.9 874.9 898.7 879.5 899.4 878.0 900.2 885.4 900.9 871.6 901.7 881.0 902.4 876.7 903.1 864.5 903.9 872.7 904.6 870.1 905.4 873.1 906.1 872.0 906.9 874.6 907.6 873.1 908.4 863.5 909.1 873.2 909.9 870.8 910.6 878.1 911.4 867.7 912.1 871.1 912.9 863.3 913.6 867.8 914.4 863.5 915.1 870.7 915.9 867.7 916.6 867.5 917.4 866.6 918.1 850.7 918.9 847.6 919.6 857.0 920.4 851.4 921.1 852.3 921.9 845.8 922.6 850.3 923.4 834.8 924.1 845.6 924.9 839.9 925.6 854.7 926.3 846.7 927.1 848.3 927.8 831.8 928.6 844.3 929.3 835.9 930.1 843.8 930.8 831.8 931.6 837.7 932.3 831.8 933.1 850.1 933.8 843.7 934.6 842.7 935.3 855.8 936.1 859.2 936.8 853.7 937.6 865.2 938.3 862.5 939.1 865.8 939.8 873.3 940.6 864.4 941.3 863.5 942.1 857.3 942.8 862.9 943.6 865.6 944.3 870.3 945.1 881.5 945.8 873.9 946.6 874.7 947.3 875.0 948.0 869.9 948.8 867.4 949.5 867.9 950.3 875.3 951.0 864.0 951.8 863.4 952.5 864.4 953.3 855.5 954.0 863.8 954.8 864.9 955.5 865.6 956.3 864.6 957.0 867.9 957.8 870.9 958.5 872.9 959.3 869.5 960.0 879.3 960.8 881.7 961.5 882.2 962.3 885.8 963.0 890.4 963.8 884.2 964.5 888.9 965.3 886.8 966.0 874.3 966.8 874.2 967.5 873.6 968.3 871.6 969.0 872.7 969.7 867.4 970.5 869.6 971.2 872.1 972.0 867.5 972.7 871.1 973.5 860.6 974.2 866.9 975.0 857.4 975.7 856.4 976.5 845.9 977.2 841.1 978.0 834.5 978.7 836.2 979.5 841.0 980.2 833.1 981.0 837.9 981.7 836.0 982.5 834.2 983.2 834.1 984.0 837.7 984.7 831.1 985.5 836.5 986.2 822.6 987.0 827.8 987.7 837.7 988.5 824.1 989.2 824.0 990.0 822.6 990.7 806.5 991.4 811.6 992.2 802.3 992.9 809.3 993.7 793.3 994.4 788.8 995.2 783.1 995.9 789.1 996.7 788.2 997.4 788.0 998.2 789.8 998.9 776.0 999.7 777.7 1000.4 782.6 1001.2 767.0 1001.9 762.0 1002.7 760.7 1003.4 765.9 1004.2 764.0 1004.9 765.6 1005.7 759.1 1006.4 749.6 1007.2 752.3 1007.9 755.2 1008.7 760.6 1009.4 768.6 1010.2 778.0 1010.9 775.1 1011.7 779.7 1012.4 772.2 1013.1 780.6 1013.9 788.1 1014.6 784.0 1015.4 793.6 1016.1 795.0 1016.9 792.7 1017.6 794.4 1018.4 796.5 1019.1 794.2 1019.9 796.6 1020.6 780.1 1021.4 789.2 1022.1 788.4 1022.9 797.0 1023.6 797.9 1024.4 796.7 1025.1 793.7 1025.9 789.0 1026.6 796.1 1027.4 774.6 1028.1 782.5 1028.9 771.8 1029.6 765.9 1030.4 753.9 1031.1 750.0 1031.9 718.3 1032.6 640.6 1033.4 611.1 1034.1 579.6 1034.9 542.5 1035.6 515.2 1036.3 512.5 1037.1 485.9 1037.8 471.8 1038.6 483.9 1039.3 499.5 1040.1 522.4 1040.8 546.7 1041.6 565.4 1042.3 598.3 1043.1 619.2 1043.8 651.5 1044.6 690.1 1045.3 684.4 1046.1 690.2 1046.8 685.7 1047.6 673.1 1048.3 663.4 1049.1 662.7 1049.8 657.0 1050.6 651.0 1051.3 648.5 1052.1 650.2 1052.8 643.1 1053.6 637.7 1054.3 636.2 1055.1 639.8 1055.8 624.5 1056.6 632.9 1057.3 627.2 1058.0 626.1 1058.8 614.2 1059.5 611.4 1060.3 597.4 1061.0 603.3 1061.8 594.7 1062.5 580.1 1063.3 590.2 1064.0 596.8 1064.8 597.9 1065.5 594.3 1066.3 593.1 1067.0 601.7 1067.8 606.0 1068.5 607.5 1069.3 609.7 1070.0 612.8 1070.8 614.4 1071.5 613.5 1072.3 617.7 1073.0 620.4 1073.8 611.4 1074.5 628.2 1075.3 622.5 1076.0 603.9 1076.8 606.3 1077.5 599.8 1078.3 584.7 1079.0 588.1 1079.7 571.1 1080.5 574.0 1081.2 567.2 1082.0 568.3 1082.7 572.1 1083.5 603.6 1084.2 633.3 1085.0 686.3 1085.7 742.6 1086.5 782.7 1087.2 848.8 1088.0 924.9 1088.7 962.6 1089.5 1015.3 1090.2 1062.1 1091.0 1096.4 1091.7 1126.2 1092.5 1147.5 1093.2 1158.1 1094.0 1138.5 1094.7 1135.4 1095.5 1135.7 1096.2 1120.4 1097.0 1122.1 1097.7 1108.8 1098.5 1110.9 1099.2 1101.6 1100.0 1099.0 1100.7 1098.1 1101.4 1102.0 1102.2 1096.6 1102.9 1098.1 1103.7 1089.0 1104.4 1086.1 1105.2 1078.7 1105.9 1085.2 1106.7 1080.9 1107.4 1080.8 1108.2 1080.1 1108.9 1071.0 1109.7 1074.6 1110.4 1067.4 1111.2 1064.8 1111.9 1072.6 1112.7 1060.5 1113.4 1054.4 1114.2 1061.8 1114.9 1058.4 1115.7 1057.7 1116.4 1053.0 1117.2 1065.2 1117.9 1055.7 1118.7 1051.3 1119.4 1053.1 1120.2 1056.3 1120.9 1052.9 1121.7 1051.5 1122.4 1070.2 1123.1 1071.1 1123.9 1057.3 1124.6 1071.9 1125.4 1077.5 1126.1 1074.1 1126.9 1074.0 1127.6 1073.2 1128.4 1075.4 1129.1 1081.1 1129.9 1078.6 1130.6 1077.3 1131.4 1082.0 1132.1 1083.2 1132.9 1078.7 1133.6 1076.5 1134.4 1085.7 1135.1 1081.1 1135.9 1079.2 1136.6 1077.9 1137.4 1071.1 1138.1 1051.2 1138.9 1050.3 1139.6 1033.5 1140.4 1040.4 1141.1 1028.5 1141.9 1017.6 1142.6 1022.1 1143.4 1016.4 1144.1 1027.4 1144.9 1023.4 1145.6 1026.9 1146.3 1025.2 1147.1 1029.2 1147.8 1020.0 1148.6 1026.5 1149.3 1027.4 1150.1 1027.8 1150.8 1029.6 1151.6 1031.2 1152.3 1031.7 1153.1 1019.4 1153.8 1028.0 1154.6 1031.7 1155.3 1030.4 1156.1 1028.4 1156.8 1029.7 1157.6 1031.7 1158.3 1027.3 1159.1 1032.5 1159.8 1025.8 1160.6 1030.5 1161.3 1041.2 1162.1 1040.5 1162.8 1032.4 1163.6 1028.1 1164.3 1032.4 1165.1 1035.8 1165.8 1031.8 1166.6 1022.8 1167.3 1020.2 1168.0 1016.7 1168.8 1012.0 1169.5 1013.2 1170.3 1022.1 1171.0 1009.5 1171.8 1005.6 1172.5 1001.4 1173.3 993.6 1174.0 989.3 1174.8 988.8 1175.5 1007.8 1176.3 1000.6 1177.0 996.3 1177.8 1006.5 1178.5 995.8 1179.3 998.8 1180.0 1003.0 1180.8 992.1 1181.5 998.3 1182.3 1005.7 1183.0 1001.8 1183.8 998.6 1184.5 1007.6 1185.3 1003.4 1186.0 1011.2 1186.8 1008.6 1187.5 999.2 1188.3 1012.8 1189.0 1004.8 1189.7 1001.6 1190.5 1001.5 1191.2 1004.9 1192.0 996.6 1192.7 989.7 1193.5 1003.3 1194.2 995.7 1195.0 987.0 1195.7 995.2 1196.5 992.7 1197.2 987.6 1198.0 983.5 1198.7 987.4 1199.5 968.3 1200.2 965.4 1201.0 955.3 1201.7 957.5 1202.5 942.9 1203.2 930.8 1204.0 915.2 1204.7 878.8 1205.5 858.6 1206.2 813.1 1207.0 791.5 1207.7 756.5 1208.5 702.6 1209.2 657.2 1210.0 642.2 1210.7 617.2 1211.4 608.4 1212.2 605.1 1212.9 599.4 1213.7 601.3 1214.4 608.5 1215.2 605.0 1215.9 612.8 1216.7 618.7 1217.4 617.0 1218.2 621.7 1218.9 631.1 1219.7 638.0 1220.4 647.0 1221.2 645.3 1221.9 638.6 1222.7 641.6 1223.4 635.0 1224.2 628.5 1224.9 619.8 1225.7 625.8 1226.4 610.7 1227.2 608.5 1227.9 603.2 1228.7 601.1 1229.4 602.9 1230.2 597.4 1230.9 600.0 1231.7 593.4 1232.4 582.9 1233.1 581.3 1233.9 574.1 1234.6 571.1 1235.4 558.6 1236.1 557.3 1236.9 557.2 1237.6 563.9 1238.4 570.9 1239.1 577.5 1239.9 578.1 1240.6 588.1 1241.4 589.5 1242.1 592.8 1242.9 583.6 1243.6 596.0 1244.4 589.5 1245.1 597.5 1245.9 595.6 1246.6 594.2 1247.4 597.0 1248.1 587.8 1248.9 601.3 1249.6 594.3 1250.4 599.5 1251.1 598.7 1251.9 607.2 1252.6 605.8 1253.4 607.9 1254.1 603.4 1254.9 601.0 1255.6 612.2 1256.3 595.6 1257.1 598.9 1257.8 589.8 1258.6 597.6 1259.3 588.1 1260.1 591.3 1260.8 578.7 1261.6 587.3 1262.3 577.4 1263.1 574.8 1263.8 574.9 1264.6 578.7 1265.3 594.1 1266.1 600.2 1266.8 603.7 1267.6 610.1 1268.3 633.1 1269.1 657.2 1269.8 670.5 1270.6 687.4 1271.3 709.3 1272.1 731.8 1272.8 744.1 1273.6 759.8 1274.3 770.5 1275.1 784.0 1275.8 790.8 1276.6 797.8 1277.3 811.3 1278.0 810.3 1278.8 809.0 1279.5 821.1 1280.3 839.8 1281.0 843.6 1281.8 860.9 1282.5 864.8 1283.3 859.9 1284.0 829.3 1284.8 818.9 1285.5 801.5 1286.3 796.8 1287.0 792.4 1287.8 788.3 1288.5 781.0 1289.3 774.5 1290.0 775.3 1290.8 767.7 1291.5 791.7 1292.3 778.3 1293.0 786.4 1293.8 779.9 1294.5 779.4 1295.3 783.6 1296.0 792.6 1296.8 788.0 1297.5 794.4 1298.3 791.0 1299.0 785.3 1299.7 779.2 1300.5 792.5 1301.2 783.2 1302.0 795.6 1302.7 792.6 1303.5 777.9 1304.2 787.0 1305.0 784.4 1305.7 780.8 1306.5 775.6 1307.2 772.4 1308.0 764.0 1308.7 768.6 1309.5 771.1 1310.2 765.7 1311.0 754.8 1311.7 754.3 1312.5 754.2 1313.2 750.3 1314.0 756.7 1314.7 751.7 1315.5 757.1 1316.2 756.8 1317.0 763.8 1317.7 765.5 1318.5 760.5 1319.2 764.1 1320.0 745.8 1320.7 749.6 1321.4 750.2 1322.2 744.4 1322.9 755.1 1323.7 743.9 1324.4 743.4 1325.2 753.7 1325.9 744.1 1326.7 745.4 1327.4 747.3 1328.2 755.8 1328.9 751.0 1329.7 759.3 1330.4 752.9 1331.2 761.7 1331.9 761.0 1332.7 761.9 1333.4 769.6 1334.2 764.1 1334.9 755.3 1335.7 768.3 1336.4 771.8 1337.2 772.5 1337.9 763.5 1338.7 771.7 1339.4 762.7 1340.2 764.5 1340.9 752.6 1341.7 771.9 1342.4 754.4 1343.2 761.8 1343.9 754.0 1344.6 756.2 1345.4 755.7 1346.1 747.9 1346.9 752.5 1347.6 746.1 1348.4 738.9 1349.1 742.6 1349.9 757.1 1350.6 759.0 1351.4 765.4 1352.1 763.4 1352.9 765.7 1353.6 779.5 1354.4 781.3 1355.1 776.4 1355.9 774.5 1356.6 771.8 1357.4 772.9 1358.1 770.5 1358.9 761.7 1359.6 763.7 1360.4 752.4 1361.1 746.1 1361.9 748.5 1362.6 752.7 1363.4 742.4 1364.1 738.1 1364.9 727.6 1365.6 736.2 1366.3 727.5 1367.1 715.2 1367.8 708.1 1368.6 710.5 1369.3 706.1 1370.1 710.8 1370.8 712.5 1371.6 723.1 1372.3 727.4 1373.1 723.2 1373.8 724.6 1374.6 736.7 1375.3 727.7 1376.1 737.4 1376.8 735.5 1377.6 739.7 1378.3 742.4 1379.1 740.7 1379.8 732.2 1380.6 729.6 1381.3 743.9 1382.1 743.9 1382.8 756.1 1383.6 733.8 1384.3 715.9 1385.1 675.6 1385.8 609.9 1386.6 550.7 1387.3 519.1 1388.0 487.1 1388.8 457.9 1389.5 422.3 1390.3 433.7 1391.0 450.0 1391.8 460.6 1392.5 469.7 1393.3 505.8 1394.0 526.0 1394.8 531.5 1395.5 552.0 1396.3 564.4 1397.0 589.0 1397.8 580.6 1398.5 577.0 1399.3 567.5 1400.0 570.4 1400.8 564.8 1401.5 565.9 1402.3 562.8 1403.0 559.5 1403.8 550.7 1404.5 542.4 1405.3 553.0 1406.0 545.9 1406.8 549.2 1407.5 541.5 1408.3 548.7 1409.0 556.8 1409.7 549.1 1410.5 537.9 1411.2 537.1 1412.0 532.8 1412.7 543.3 1413.5 523.6 1414.2 523.9 1415.0 536.1 1415.7 528.5 1416.5 539.6 1417.2 524.2 1418.0 523.9 1418.7 517.2 1419.5 508.2 1420.2 505.5 1421.0 507.7 1421.7 502.6 1422.5 506.9 1423.2 480.2 1424.0 474.5 1424.7 473.7 1425.5 469.8 1426.2 493.3 1427.0 505.2 1427.7 533.5 1428.5 558.9 1429.2 599.0 1430.0 669.3 1430.7 765.5 1431.4 830.7 1432.2 863.8 1432.9 918.5 1433.7 973.3 1434.4 1041.3 1435.2 1087.1 1435.9 1118.3 1436.7 1160.5 1437.4 1186.5 1438.2 1210.2 1438.9 1211.4 1439.7 1181.1 1440.4 1176.2 1441.2 1162.0 1441.9 1144.0 1442.7 1153.9 1443.4 1135.9 1444.2 1131.7 1444.9 1122.3 1445.7 1118.7 1446.4 1120.8 1447.2 1117.7 1447.9 1122.2 1448.7 1120.9 1449.4 1118.2 1450.2 1112.8 1450.9 1126.2 1451.7 1116.5 1452.4 1123.5 1453.2 1131.8 1453.9 1124.8 1454.6 1127.5 1455.4 1119.4 1456.1 1114.6 1456.9 1123.1 1457.6 1129.2 1458.4 1113.9 1459.1 1125.4 1459.9 1116.4 1460.6 1123.9 1461.4 1128.8 1462.1 1114.1 1462.9 1115.7 1463.6 1125.7 1464.4 1129.7 1465.1 1130.4 1465.9 1132.6 1466.6 1138.1 1467.4 1153.9 1468.1 1156.1 1468.9 1161.8 1469.6 1158.3 1470.4 1158.0 1471.1 1159.2 1471.9 1147.4 1472.6 1153.1 1473.4 1171.6 1474.1 1163.4 1474.9 1175.2 1475.6 1168.3 1476.3 1149.1 1477.1 1143.0 1477.8 1132.6 1478.6 1134.2 1479.3 1143.3 1480.1 1129.4 1480.8 1106.2 1481.6 1119.2 1482.3 1109.8 1483.1 1108.5 1483.8 1109.3 1484.6 1087.9 1485.3 1121.8 1486.1 1116.2 1486.8 1132.9 1487.6 1132.2 1488.3 1137.7 1489.1 1154.9 1489.8 1173.9 1490.6 1187.8 1491.3 1187.3 1492.1 1196.5 1492.8 1195.4 1493.6 1200.4 1494.3 1205.5 1495.1 1192.6 1495.8 1188.3 1496.6 1164.5 1497.3 1171.6 1498.0 1165.1 1498.8 1151.7 1499.5 1173.0 1500.3 1156.8 1501.0 1173.6 1501.8 1156.9 1502.5 1146.7 1503.3 1144.7 1504.0 1143.2 1504.8 1146.6 1505.5 1128.5 1506.3 1135.9 1507.0 1132.2 1507.8 1120.1 1508.5 1127.8 1509.3 1126.9 1510.0 1126.4 1510.8 1116.8 1511.5 1118.4 1512.3 1116.7 1513.0 1122.9 1513.8 1114.9 1514.5 1117.9 1515.3 1123.7 1516.0 1121.0 1516.8 1123.5 1517.5 1113.3 1518.3 1113.4 1519.0 1110.0 1519.7 1097.5 1520.5 1100.5 1521.2 1115.8 1522.0 1096.8 1522.7 1104.3 1523.5 1107.2 1524.2 1095.7 1525.0 1080.6 1525.7 1075.2 1526.5 1066.6 1527.2 1074.5 1528.0 1075.5 1528.7 1079.4 1529.5 1079.5 1530.2 1068.4 1531.0 1086.1 1531.7 1086.8 1532.5 1092.5 1533.2 1084.6 1534.0 1084.1 1534.7 1087.9 1535.5 1085.0 1536.2 1089.3 1537.0 1086.0 1537.7 1094.5 1538.5 1098.1 1539.2 1105.1 1540.0 1102.7 1540.7 1103.3 1541.4 1104.1 1542.2 1094.8 1542.9 1101.9 1543.7 1104.3 1544.4 1096.8 1545.2 1101.8 1545.9 1098.0 1546.7 1090.9 1547.4 1100.7 1548.2 1091.6 1548.9 1093.2 1549.7 1102.4 1550.4 1096.9 1551.2 1092.8 1551.9 1101.5 1552.7 1100.6 1553.4 1081.6 1554.2 1093.5 1554.9 1079.0 1555.7 1082.8 1556.4 1094.5 1557.2 1098.5 1557.9 1099.5 1558.7 1099.5 1559.4 1091.3 1560.2 1085.4 1560.9 1081.0 1561.7 1077.9 1562.4 1085.4 1563.2 1072.2 1563.9 1079.6 1564.6 1086.7 1565.4 1090.4 1566.1 1089.2 1566.9 1098.2 1567.6 1090.3 1568.4 1103.5 1569.1 1088.5 1569.9 1085.9 1570.6 1096.2 1571.4 1100.9 1572.1 1099.1 1572.9 1105.5 1573.6 1103.0 1574.4 1105.1 1575.1 1102.9 1575.9 1101.3 1576.6 1092.8 1577.4 1089.8 1578.1 1087.5 1578.9 1076.9 1579.6 1079.4 1580.4 1081.7 1581.1 1086.7 1581.9 1093.5 1582.6 1076.7 1583.4 1073.7 1584.1 1073.7 1584.9 1084.7 1585.6 1069.7 1586.3 1074.3 1587.1 1073.9 1587.8 1072.8 1588.6 1068.2 1589.3 1074.2 1590.1 1073.8 1590.8 1074.0 1591.6 1066.7 1592.3 1070.5 1593.1 1076.3 1593.8 1071.5 1594.6 1075.6 1595.3 1064.0 1596.1 1076.7 1596.8 1078.0 1597.6 1071.3 1598.3 1073.0 1599.1 1077.5 1599.8 1078.5 1600.6 1071.7 1601.3 1082.8 1602.1 1077.5 1602.8 1074.9 1603.6 1074.1 1604.3 1076.0 1605.1 1083.3 1605.8 1076.4 1606.6 1077.9 1607.3 1088.7 1608.0 1074.9 1608.8 1082.4 1609.5 1097.1 1610.3 1097.9 1611.0 1086.3 1611.8 1094.3 1612.5 1077.3 1613.3 1072.6 1614.0 1088.0 1614.8 1083.0 1615.5 1071.0 1616.3 1073.6 1617.0 1066.3 1617.8 1065.9 1618.5 1063.0 1619.3 1063.6 1620.0 1061.2 1620.8 1053.1 1621.5 1046.2 1622.3 1035.2 1623.0 1041.5 1623.8 1029.3 1624.5 1023.6 1625.3 1035.0 1626.0 1025.4 1626.8 1029.1 1627.5 1035.0 1628.3 1021.0 1629.0 1019.2 1629.7 1012.8 1630.5 1022.8 1631.2 1020.9 1632.0 1031.9 1632.7 1021.9 1633.5 1026.6 1634.2 1026.4 1635.0 1035.9 1635.7 1024.9 1636.5 1038.7 1637.2 1040.9 1638.0 1031.4 1638.7 1039.6 1639.5 1036.3 1640.2 1037.7 1641.0 1040.0 1641.7 1031.7 1642.5 1038.1 1643.2 1026.9 1644.0 1037.9 1644.7 1033.6 1645.5 1031.5 1646.2 1021.3 1647.0 1023.7 1647.7 1015.8 1648.5 1019.2 1649.2 1022.9 1650.0 1024.5 1650.7 1019.3 1651.4 1024.4 1652.2 1022.8 1652.9 1032.8 1653.7 1034.9 1654.4 1026.3 1655.2 1028.7 1655.9 1029.0 1656.7 1030.1 1657.4 1028.2 1658.2 1035.9 1658.9 1027.7 1659.7 1027.8 1660.4 1020.5 1661.2 1015.2 1661.9 1022.8 1662.7 1009.7 1663.4 1011.2 1664.2 1015.1 1664.9 1022.7 1665.7 1029.2 1666.4 1033.2 1667.2 1028.7 1667.9 1027.0 1668.7 1028.4 1669.4 1023.7 1670.2 997.8 1670.9 1012.6 1671.7 1017.9 1672.4 1014.7 1673.2 1016.8 1673.9 1015.8 1674.6 1018.7 1675.4 1020.6 1676.1 1019.9 1676.9 1018.0 1677.6 1025.0 1678.4 1028.7 1679.1 1012.6 1679.9 1020.5 1680.6 1015.3 1681.4 1001.7 1682.1 1006.5 1682.9 1004.2 1683.6 994.9 1684.4 994.2 1685.1 987.7 1685.9 1001.7 1686.6 997.4 1687.4 1003.7 1688.1 997.8 1688.9 995.2 1689.6 994.0 1690.4 998.0 1691.1 1005.6 1691.9 1018.2 1692.6 1007.3 1693.4 1005.6 1694.1 1015.8 1694.9 1004.5 1695.6 1010.8 1696.3 1026.1 1697.1 1011.9 1697.8 1026.1 1698.6 1013.7 1699.3 1008.2 1700.1 1014.3 1700.8 1020.1 1701.6 1019.3 1702.3 1018.7 1703.1 1022.1 1703.8 1025.2 1704.6 1012.7 1705.3 1004.3 1706.1 995.2 1706.8 1000.9 1707.6 1005.4 1708.3 1007.4 1709.1 1004.5 1709.8 1016.7 1710.6 1018.9 1711.3 1011.0 1712.1 1009.8 1712.8 1007.3 1713.6 1017.8 1714.3 1018.8 1715.1 1011.2 1715.8 1026.2 1716.6 1020.2 1717.3 1016.7" stroke="#EDB120" stroke-width="6.7" stroke-dasharray="23 21"/>
<path d="M220.7 890.1 221.4 871.3 222.2 868.0 222.9 859.0 223.7 856.7 224.4 853.5 225.2 849.9 225.9 847.8 226.7 849.4 227.4 855.2 228.2 859.1 228.9 850.8 229.7 853.3 230.4 855.0 231.2 849.9 231.9 848.0 232.7 849.7 233.4 846.4 234.2 844.4 234.9 839.0 235.7 834.4 236.4 843.6 237.2 842.5 237.9 841.5 238.7 836.5 239.4 828.4 240.2 829.9 240.9 827.3 241.7 824.2 242.4 824.7 243.1 808.7 243.9 806.2 244.6 803.8 245.4 792.7 246.1 794.4 246.9 807.6 247.6 811.9 248.4 815.8 249.1 826.6 249.9 822.8 250.6 819.6 251.4 824.5 252.1 828.6 252.9 834.5 253.6 841.6 254.4 838.6 255.1 842.1 255.9 844.5 256.6 839.0 257.4 832.5 258.1 826.1 258.9 827.6 259.6 830.0 260.4 833.8 261.1 831.5 261.9 836.3 262.6 844.7 263.4 833.2 264.1 821.5 264.8 827.6 265.6 816.5 266.3 820.1 267.1 829.2 267.8 827.3 268.6 833.0 269.3 835.2 270.1 833.6 270.8 836.7 271.6 845.0 272.3 826.2 273.1 830.6 273.8 839.1 274.6 835.9 275.3 836.2 276.1 826.4 276.8 822.1 277.6 825.8 278.3 822.2 279.1 813.2 279.8 813.8 280.6 813.0 281.3 810.7 282.1 807.5 282.8 796.3 283.6 789.8 284.3 776.5 285.1 769.0 285.8 767.4 286.6 756.1 287.3 748.6 288.0 747.6 288.8 742.6 289.5 728.4 290.3 734.2 291.0 747.0 291.8 755.8 292.5 779.2 293.3 789.4 294.0 806.4 294.8 823.0 295.5 846.5 296.3 871.8 297.0 886.3 297.8 901.9 298.5 907.8 299.3 918.6 300.0 930.6 300.8 917.4 301.5 911.2 302.3 901.4 303.0 892.5 303.8 887.6 304.5 882.2 305.3 879.7 306.0 876.7 306.8 872.3 307.5 865.0 308.3 861.7 309.0 863.8 309.7 869.5 310.5 866.0 311.2 859.4 312.0 870.3 312.7 877.3 313.5 857.9 314.2 868.8 315.0 875.5 315.7 865.5 316.5 860.5 317.2 870.2 318.0 859.7 318.7 864.6 319.5 861.8 320.2 866.9 321.0 861.8 321.7 863.1 322.5 874.7 323.2 868.2 324.0 869.8 324.7 872.2 325.5 864.9 326.2 862.7 327.0 859.2 327.7 863.1 328.5 861.9 329.2 867.2 330.0 868.1 330.7 873.8 331.4 868.4 332.2 870.1 332.9 867.8 333.7 860.6 334.4 869.4 335.2 867.0 335.9 871.5 336.7 864.6 337.4 872.3 338.2 865.7 338.9 860.6 339.7 858.3 340.4 860.3 341.2 857.7 341.9 860.1 342.7 863.4 343.4 865.5 344.2 861.7 344.9 873.5 345.7 869.9 346.4 873.9 347.2 861.6 347.9 860.5 348.7 861.9 349.4 861.9 350.2 855.2 350.9 850.9 351.7 857.0 352.4 850.3 353.1 849.7 353.9 844.3 354.6 841.0 355.4 836.9 356.1 836.1 356.9 835.2 357.6 834.3 358.4 832.2 359.1 818.1 359.9 820.7 360.6 821.5 361.4 813.8 362.1 819.5 362.9 821.7 363.6 833.7 364.4 848.8 365.1 857.8 365.9 862.7 366.6 871.8 367.4 882.2 368.1 893.3 368.9 896.4 369.6 899.6 370.4 906.9 371.1 907.0 371.9 914.7 372.6 914.4 373.4 912.2 374.1 913.9 374.8 900.9 375.6 901.3 376.3 894.0 377.1 892.5 377.8 871.9 378.6 862.5 379.3 854.7 380.1 840.7 380.8 816.0 381.6 818.5 382.3 810.0 383.1 791.0 383.8 775.7 384.6 787.3 385.3 805.2 386.1 806.6 386.8 827.0 387.6 831.4 388.3 829.6 389.1 844.9 389.8 850.2 390.6 848.8 391.3 847.7 392.1 856.0 392.8 863.4 393.6 862.6 394.3 862.8 395.1 862.6 395.8 864.6 396.6 856.3 397.3 861.3 398.0 867.2 398.8 869.4 399.5 875.4 400.3 874.6 401.0 880.6 401.8 885.0 402.5 880.7 403.3 898.5 404.0 898.7 404.8 902.5 405.5 898.2 406.3 897.3 407.0 895.2 407.8 897.8 408.5 901.7 409.3 885.9 410.0 901.4 410.8 892.9 411.5 885.3 412.3 892.0 413.0 894.7 413.8 892.7 414.5 886.7 415.3 887.9 416.0 879.4 416.8 881.6 417.5 874.8 418.3 866.0 419.0 868.0 419.7 858.7 420.5 864.7 421.2 854.3 422.0 842.7 422.7 856.3 423.5 848.2 424.2 844.1 425.0 841.1 425.7 840.2 426.5 831.6 427.2 835.2 428.0 842.5 428.7 835.1 429.5 831.9 430.2 818.6 431.0 818.2 431.7 817.8 432.5 823.9 433.2 832.4 434.0 834.3 434.7 831.9 435.5 838.0 436.2 839.3 437.0 835.9 437.7 841.3 438.5 852.2 439.2 847.2 440.0 843.0 440.7 848.8 441.4 837.7 442.2 842.8 442.9 844.8 443.7 840.6 444.4 842.3 445.2 849.6 445.9 833.3 446.7 841.7 447.4 845.0 448.2 845.5 448.9 856.7 449.7 846.7 450.4 839.7 451.2 844.0 451.9 840.2 452.7 845.3 453.4 842.2 454.2 848.8 454.9 835.6 455.7 851.1 456.4 845.3 457.2 843.1 457.9 840.6 458.7 838.7 459.4 840.9 460.2 844.4 460.9 836.7 461.7 844.2 462.4 846.0 463.1 848.2 463.9 850.4 464.6 843.9 465.4 852.3 466.1 852.6 466.9 849.6 467.6 846.7 468.4 855.0 469.1 851.5 469.9 850.3 470.6 853.9 471.4 849.1 472.1 847.4 472.9 842.3 473.6 846.0 474.4 845.0 475.1 853.8 475.9 850.0 476.6 850.7 477.4 855.1 478.1 856.9 478.9 854.1 479.6 856.1 480.4 861.4 481.1 855.3 481.9 849.5 482.6 860.5 483.4 856.9 484.1 847.6 484.8 853.5 485.6 841.5 486.3 846.9 487.1 845.7 487.8 848.7 488.6 844.2 489.3 839.9 490.1 846.3 490.8 842.0 491.6 827.4 492.3 827.7 493.1 817.5 493.8 813.2 494.6 806.4 495.3 791.5 496.1 799.0 496.8 802.1 497.6 806.5 498.3 809.5 499.1 814.8 499.8 814.6 500.6 818.8 501.3 816.3 502.1 826.6 502.8 819.8 503.6 825.3 504.3 828.3 505.1 824.9 505.8 820.5 506.6 813.1 507.3 812.4 508.0 823.9 508.8 819.4 509.5 823.1 510.3 824.1 511.0 825.7 511.8 821.6 512.5 822.5 513.3 838.4 514.0 834.5 514.8 830.8 515.5 828.5 516.3 835.4 517.0 826.8 517.8 829.5 518.5 816.9 519.3 822.1 520.0 809.1 520.8 799.4 521.5 780.6 522.3 757.6 523.0 729.0 523.8 706.6 524.5 674.9 525.3 645.6 526.0 635.0 526.8 630.3 527.5 603.0 528.3 589.1 529.0 580.8 529.7 564.2 530.5 550.3 531.2 567.0 532.0 583.6 532.7 592.4 533.5 603.6 534.2 605.5 535.0 621.1 535.7 640.4 536.5 660.7 537.2 677.3 538.0 709.3 538.7 722.8 539.5 745.9 540.2 756.9 541.0 770.9 541.7 785.4 542.5 782.2 543.2 775.8 544.0 764.0 544.7 752.0 545.5 749.6 546.2 738.2 547.0 734.9 547.7 723.6 548.5 726.0 549.2 727.0 550.0 717.4 550.7 706.0 551.4 704.2 552.2 702.7 552.9 705.4 553.7 701.6 554.4 693.5 555.2 697.6 555.9 697.4 556.7 696.9 557.4 693.8 558.2 702.2 558.9 696.2 559.7 695.2 560.4 699.0 561.2 698.3 561.9 699.1 562.7 698.2 563.4 696.2 564.2 691.9 564.9 697.8 565.7 689.5 566.4 702.3 567.2 699.8 567.9 692.2 568.7 680.9 569.4 687.5 570.2 690.4 570.9 683.8 571.7 681.3 572.4 691.4 573.1 680.7 573.9 677.6 574.6 688.8 575.4 670.5 576.1 669.6 576.9 677.7 577.6 682.9 578.4 700.0 579.1 712.8 579.9 736.5 580.6 749.4 581.4 777.3 582.1 832.6 582.9 887.5 583.6 938.8 584.4 996.0 585.1 1034.7 585.9 1061.6 586.6 1059.4 587.4 1075.1 588.1 1082.7 588.9 1082.0 589.6 1083.5 590.4 1076.3 591.1 1069.1 591.9 1071.6 592.6 1047.3 593.4 1048.2 594.1 1047.2 594.8 1038.1 595.6 1048.8 596.3 1042.6 597.1 1036.4 597.8 1030.1 598.6 1037.5 599.3 1026.0 600.1 1029.9 600.8 1031.3 601.6 1036.6 602.3 1043.4 603.1 1022.5 603.8 1018.5 604.6 1007.7 605.3 1030.1 606.1 1012.0 606.8 1012.6 607.6 1025.1 608.3 1012.0 609.1 1019.7 609.8 1014.4 610.6 1017.4 611.3 1018.1 612.1 1025.3 612.8 1026.1 613.6 1027.7 614.3 1034.9 615.1 1020.0 615.8 1029.5 616.6 1025.0 617.3 1018.7 618.0 1019.8 618.8 1027.8 619.5 1030.5 620.3 1034.2 621.0 1023.7 621.8 1034.0 622.5 1026.3 623.3 1011.8 624.0 1025.8 624.8 1018.4 625.5 1014.5 626.3 1014.6 627.0 1029.9 627.8 1008.8 628.5 1010.7 629.3 1021.3 630.0 1022.3 630.8 1024.7 631.5 1018.7 632.3 1011.0 633.0 1004.6 633.8 1012.2 634.5 1012.2 635.3 1010.2 636.0 1015.8 636.8 1015.6 637.5 1019.5 638.3 1006.8 639.0 1018.3 639.7 1023.4 640.5 1002.2 641.2 1017.2 642.0 1015.8 642.7 1010.1 643.5 1029.1 644.2 1012.1 645.0 1014.9 645.7 1011.8 646.5 1007.8 647.2 1010.6 648.0 1007.8 648.7 1012.2 649.5 1016.5 650.2 1001.3 651.0 1006.4 651.7 995.4 652.5 1007.1 653.2 1006.9 654.0 1002.3 654.7 992.7 655.5 991.0 656.2 997.0 657.0 991.9 657.7 998.9 658.5 1004.2 659.2 998.8 660.0 990.9 660.7 986.6 661.4 973.8 662.2 978.3 662.9 987.9 663.7 999.6 664.4 1004.5 665.2 1004.2 665.9 1005.7 666.7 991.0 667.4 992.0 668.2 988.4 668.9 990.2 669.7 986.2 670.4 992.1 671.2 984.8 671.9 975.4 672.7 975.7 673.4 980.3 674.2 978.6 674.9 984.0 675.7 981.6 676.4 985.8 677.2 974.3 677.9 990.5 678.7 989.6 679.4 989.9 680.2 981.4 680.9 980.9 681.7 976.3 682.4 980.6 683.1 985.5 683.9 967.7 684.6 976.2 685.4 965.1 686.1 980.6 686.9 965.7 687.6 979.2 688.4 970.2 689.1 962.0 689.9 956.4 690.6 969.3 691.4 968.3 692.1 963.5 692.9 966.7 693.6 958.4 694.4 960.6 695.1 954.3 695.9 948.3 696.6 949.4 697.4 948.3 698.1 948.5 698.9 946.4 699.6 948.6 700.4 946.3 701.1 931.5 701.9 940.9 702.6 936.8 703.4 950.3 704.1 929.0 704.9 954.2 705.6 952.1 706.3 946.9 707.1 956.0 707.8 955.6 708.6 959.2 709.3 958.4 710.1 945.9 710.8 952.3 711.6 953.4 712.3 946.9 713.1 947.3 713.8 944.9 714.6 948.5 715.3 950.8 716.1 943.9 716.8 948.9 717.6 939.5 718.3 933.0 719.1 934.8 719.8 942.6 720.6 935.6 721.3 948.4 722.1 941.6 722.8 950.5 723.6 951.4 724.3 947.5 725.1 939.5 725.8 941.0 726.6 935.3 727.3 944.4 728.0 941.8 728.8 938.5 729.5 938.2 730.3 927.6 731.0 909.8 731.8 926.8 732.5 916.4 733.3 913.9 734.0 903.4 734.8 911.2 735.5 909.7 736.3 915.7 737.0 904.1 737.8 906.7 738.5 899.9 739.3 897.7 740.0 892.4 740.8 893.9 741.5 898.9 742.3 902.2 743.0 888.8 743.8 888.8 744.5 883.2 745.3 882.9 746.0 880.4 746.8 875.3 747.5 877.9 748.3 880.9 749.0 879.3 749.7 889.2 750.5 882.4 751.2 872.6 752.0 883.0 752.7 868.3 753.5 884.6 754.2 883.9 755.0 875.9 755.7 883.5 756.5 884.3 757.2 886.1 758.0 883.9 758.7 876.0 759.5 869.0 760.2 880.0 761.0 875.2 761.7 878.1 762.5 871.2 763.2 877.2 764.0 871.9 764.7 878.1 765.5 874.3 766.2 875.4 767.0 877.9 767.7 884.7 768.5 894.5 769.2 878.1 770.0 870.7 770.7 868.4 771.4 877.7 772.2 867.3 772.9 865.8 773.7 875.1 774.4 877.3 775.2 879.6 775.9 867.6 776.7 867.7 777.4 865.0 778.2 871.3 778.9 866.8 779.7 875.5 780.4 873.0 781.2 867.1 781.9 867.6 782.7 865.5 783.4 861.5 784.2 856.7 784.9 861.3 785.7 857.8 786.4 857.0 787.2 860.4 787.9 858.4 788.7 857.7 789.4 859.4 790.2 842.8 790.9 848.5 791.7 863.1 792.4 859.4 793.1 843.7 793.9 854.3 794.6 845.6 795.4 841.8 796.1 838.9 796.9 851.2 797.6 859.1 798.4 848.6 799.1 852.1 799.9 852.7 800.6 857.6 801.4 846.6 802.1 855.5 802.9 850.4 803.6 836.4 804.4 849.2 805.1 837.9 805.9 836.8 806.6 838.2 807.4 848.5 808.1 832.7 808.9 840.3 809.6 837.1 810.4 838.4 811.1 829.8 811.9 829.5 812.6 835.9 813.4 832.1 814.1 831.4 814.9 826.9 815.6 826.6 816.3 830.9 817.1 821.0 817.8 827.0 818.6 816.7 819.3 816.2 820.1 815.0 820.8 809.4 821.6 811.7 822.3 809.7 823.1 809.8 823.8 798.3 824.6 799.6 825.3 791.8 826.1 783.0 826.8 772.3 827.6 765.0 828.3 758.7 829.1 755.6 829.8 754.0 830.6 746.9 831.3 732.3 832.1 730.2 832.8 719.0 833.6 710.8 834.3 706.2 835.1 702.6 835.8 690.1 836.6 688.4 837.3 676.2 838.0 672.0 838.8 672.4 839.5 665.8 840.3 669.2 841.0 687.3 841.8 691.5 842.5 707.2 843.3 708.0 844.0 717.6 844.8 728.2 845.5 735.2 846.3 733.9 847.0 744.6 847.8 753.1 848.5 762.0 849.3 783.4 850.0 793.8 850.8 820.0 851.5 844.1 852.3 862.0 853.0 896.7 853.8 898.3 854.5 906.2 855.3 920.2 856.0 927.5 856.8 943.7 857.5 928.1 858.3 926.2 859.0 921.5 859.7 918.8 860.5 921.4 861.2 910.5 862.0 911.8 862.7 905.2 863.5 907.6 864.2 907.4 865.0 914.5 865.7 931.2 866.5 921.9 867.2 931.1 868.0 950.9 868.7 943.2 869.5 941.9 870.2 934.5 871.0 926.2 871.7 922.9 872.5 907.0 873.2 924.6 874.0 917.4 874.7 910.3 875.5 906.0 876.2 909.4 877.0 899.8 877.7 898.7 878.5 890.3 879.2 887.8 880.0 891.3 880.7 898.9 881.4 900.6 882.2 882.2 882.9 895.9 883.7 895.5 884.4 895.0 885.2 886.4 885.9 884.9 886.7 886.8 887.4 887.5 888.2 878.8 888.9 895.8 889.7 883.3 890.4 882.4 891.2 876.6 891.9 876.0 892.7 884.1 893.4 872.7 894.2 881.9 894.9 880.0 895.7 877.2 896.4 884.0 897.2 873.6 897.9 875.3 898.7 872.5 899.4 870.8 900.2 880.5 900.9 871.7 901.7 873.8 902.4 871.8 903.1 864.4 903.9 859.1 904.6 864.4 905.4 864.6 906.1 864.1 906.9 867.8 907.6 865.8 908.4 862.0 909.1 863.7 909.9 865.2 910.6 865.1 911.4 866.9 912.1 863.5 912.9 862.9 913.6 859.8 914.4 865.7 915.1 857.3 915.9 844.6 916.6 850.3 917.4 855.0 918.1 840.2 918.9 845.5 919.6 840.0 920.4 835.9 921.1 841.7 921.9 835.3 922.6 841.3 923.4 833.3 924.1 846.9 924.9 830.8 925.6 846.8 926.3 842.2 927.1 842.0 927.8 840.9 928.6 839.9 929.3 823.2 930.1 836.6 930.8 824.9 931.6 826.0 932.3 828.5 933.1 840.9 933.8 836.1 934.6 838.9 935.3 842.9 936.1 843.9 936.8 850.5 937.6 853.1 938.3 859.2 939.1 854.4 939.8 862.7 940.6 858.0 941.3 857.8 942.1 858.0 942.8 856.7 943.6 859.2 944.3 858.4 945.1 869.5 945.8 862.6 946.6 862.6 947.3 862.0 948.0 860.4 948.8 855.9 949.5 865.7 950.3 866.7 951.0 852.4 951.8 856.6 952.5 857.4 953.3 849.4 954.0 857.8 954.8 858.5 955.5 854.9 956.3 859.9 957.0 862.1 957.8 864.2 958.5 870.2 959.3 872.4 960.0 873.6 960.8 872.6 961.5 880.1 962.3 878.7 963.0 887.4 963.8 885.0 964.5 881.1 965.3 881.2 966.0 869.1 966.8 879.0 967.5 873.8 968.3 877.2 969.0 870.6 969.7 862.5 970.5 872.0 971.2 863.3 972.0 860.3 972.7 861.8 973.5 854.7 974.2 851.9 975.0 846.2 975.7 841.5 976.5 848.5 977.2 829.5 978.0 825.1 978.7 831.1 979.5 832.2 980.2 824.2 981.0 825.1 981.7 822.5 982.5 830.7 983.2 836.4 984.0 839.5 984.7 837.7 985.5 832.9 986.2 827.9 987.0 833.8 987.7 834.9 988.5 822.2 989.2 825.3 990.0 820.3 990.7 807.4 991.4 806.2 992.2 802.7 992.9 799.6 993.7 787.2 994.4 789.6 995.2 778.2 995.9 785.1 996.7 777.1 997.4 780.3 998.2 782.5 998.9 770.7 999.7 773.9 1000.4 776.7 1001.2 765.0 1001.9 762.1 1002.7 753.4 1003.4 764.3 1004.2 762.8 1004.9 759.1 1005.7 749.7 1006.4 745.9 1007.2 741.9 1007.9 751.0 1008.7 752.5 1009.4 769.7 1010.2 767.1 1010.9 770.2 1011.7 773.5 1012.4 771.9 1013.1 780.9 1013.9 792.8 1014.6 784.2 1015.4 787.5 1016.1 795.2 1016.9 789.1 1017.6 787.2 1018.4 784.6 1019.1 770.7 1019.9 780.2 1020.6 774.8 1021.4 767.5 1022.1 776.6 1022.9 783.6 1023.6 784.6 1024.4 786.3 1025.1 776.7 1025.9 787.6 1026.6 780.6 1027.4 771.2 1028.1 778.7 1028.9 765.5 1029.6 768.4 1030.4 757.9 1031.1 749.5 1031.9 712.6 1032.6 640.4 1033.4 613.6 1034.1 573.6 1034.9 540.7 1035.6 513.2 1036.3 503.6 1037.1 474.3 1037.8 465.0 1038.6 476.9 1039.3 494.7 1040.1 515.1 1040.8 535.6 1041.6 560.7 1042.3 589.3 1043.1 610.5 1043.8 651.6 1044.6 683.0 1045.3 682.5 1046.1 681.4 1046.8 678.5 1047.6 671.8 1048.3 658.0 1049.1 655.2 1049.8 651.5 1050.6 648.8 1051.3 642.0 1052.1 644.5 1052.8 638.6 1053.6 635.2 1054.3 632.1 1055.1 630.6 1055.8 623.5 1056.6 625.4 1057.3 619.9 1058.0 626.0 1058.8 606.6 1059.5 606.6 1060.3 589.2 1061.0 601.6 1061.8 593.4 1062.5 585.1 1063.3 582.1 1064.0 592.9 1064.8 592.8 1065.5 596.8 1066.3 590.2 1067.0 593.6 1067.8 608.3 1068.5 597.6 1069.3 596.3 1070.0 596.3 1070.8 594.5 1071.5 598.2 1072.3 599.8 1073.0 619.3 1073.8 612.6 1074.5 619.0 1075.3 614.6 1076.0 607.9 1076.8 590.2 1077.5 598.4 1078.3 573.6 1079.0 576.6 1079.7 569.9 1080.5 563.7 1081.2 568.2 1082.0 558.5 1082.7 564.7 1083.5 593.0 1084.2 628.8 1085.0 679.0 1085.7 733.7 1086.5 773.1 1087.2 837.4 1088.0 922.6 1088.7 966.8 1089.5 1008.1 1090.2 1055.3 1091.0 1091.8 1091.7 1112.8 1092.5 1139.4 1093.2 1153.7 1094.0 1137.3 1094.7 1128.2 1095.5 1129.0 1096.2 1114.2 1097.0 1111.4 1097.7 1100.8 1098.5 1106.3 1099.2 1099.8 1100.0 1098.3 1100.7 1091.3 1101.4 1096.2 1102.2 1084.6 1102.9 1092.3 1103.7 1080.4 1104.4 1076.6 1105.2 1069.3 1105.9 1071.1 1106.7 1061.3 1107.4 1064.6 1108.2 1065.2 1108.9 1067.4 1109.7 1057.7 1110.4 1053.8 1111.2 1055.0 1111.9 1069.2 1112.7 1055.8 1113.4 1055.0 1114.2 1059.9 1114.9 1052.6 1115.7 1052.3 1116.4 1051.3 1117.2 1050.4 1117.9 1051.0 1118.7 1051.0 1119.4 1050.1 1120.2 1048.1 1120.9 1044.9 1121.7 1050.3 1122.4 1053.6 1123.1 1063.4 1123.9 1054.8 1124.6 1054.0 1125.4 1064.9 1126.1 1062.2 1126.9 1062.9 1127.6 1066.0 1128.4 1062.2 1129.1 1064.8 1129.9 1073.5 1130.6 1075.5 1131.4 1063.9 1132.1 1076.0 1132.9 1074.1 1133.6 1066.5 1134.4 1079.4 1135.1 1077.1 1135.9 1068.8 1136.6 1067.0 1137.4 1058.1 1138.1 1042.9 1138.9 1037.1 1139.6 1028.5 1140.4 1032.7 1141.1 1033.6 1141.9 1017.3 1142.6 1022.7 1143.4 1016.2 1144.1 1019.9 1144.9 1024.4 1145.6 1014.3 1146.3 1019.1 1147.1 1025.1 1147.8 1011.1 1148.6 1022.7 1149.3 1020.9 1150.1 1027.3 1150.8 1022.2 1151.6 1034.7 1152.3 1035.0 1153.1 1021.2 1153.8 1029.7 1154.6 1024.0 1155.3 1027.0 1156.1 1020.1 1156.8 1012.4 1157.6 1023.7 1158.3 1009.9 1159.1 1021.6 1159.8 1022.4 1160.6 1030.3 1161.3 1023.0 1162.1 1023.7 1162.8 1034.1 1163.6 1030.3 1164.3 1026.4 1165.1 1026.5 1165.8 1017.5 1166.6 1015.2 1167.3 1013.2 1168.0 1009.9 1168.8 1008.0 1169.5 1004.6 1170.3 1014.0 1171.0 1001.6 1171.8 1006.0 1172.5 994.2 1173.3 989.3 1174.0 986.1 1174.8 987.4 1175.5 1001.8 1176.3 991.8 1177.0 1000.4 1177.8 996.5 1178.5 989.1 1179.3 985.5 1180.0 991.9 1180.8 980.4 1181.5 987.4 1182.3 999.2 1183.0 996.1 1183.8 998.3 1184.5 1000.5 1185.3 1006.6 1186.0 1010.5 1186.8 1005.0 1187.5 1000.4 1188.3 1006.6 1189.0 999.6 1189.7 1002.5 1190.5 999.2 1191.2 1000.4 1192.0 985.5 1192.7 990.1 1193.5 997.2 1194.2 992.4 1195.0 987.1 1195.7 988.5 1196.5 984.3 1197.2 979.5 1198.0 978.9 1198.7 974.6 1199.5 968.4 1200.2 965.2 1201.0 949.2 1201.7 938.7 1202.5 929.6 1203.2 920.2 1204.0 902.9 1204.7 875.5 1205.5 851.3 1206.2 805.3 1207.0 786.1 1207.7 750.8 1208.5 696.4 1209.2 653.8 1210.0 636.1 1210.7 617.3 1211.4 610.0 1212.2 594.9 1212.9 584.5 1213.7 590.4 1214.4 594.0 1215.2 594.9 1215.9 604.0 1216.7 608.3 1217.4 619.5 1218.2 624.5 1218.9 629.1 1219.7 627.5 1220.4 632.6 1221.2 634.9 1221.9 634.2 1222.7 628.8 1223.4 625.7 1224.2 619.0 1224.9 612.0 1225.7 621.8 1226.4 602.6 1227.2 597.7 1227.9 597.0 1228.7 589.4 1229.4 594.0 1230.2 592.0 1230.9 595.8 1231.7 585.4 1232.4 571.1 1233.1 583.6 1233.9 567.4 1234.6 565.7 1235.4 561.9 1236.1 558.0 1236.9 554.6 1237.6 566.5 1238.4 573.6 1239.1 576.3 1239.9 574.8 1240.6 580.9 1241.4 579.0 1242.1 581.0 1242.9 578.1 1243.6 581.8 1244.4 592.0 1245.1 587.7 1245.9 598.8 1246.6 587.2 1247.4 595.4 1248.1 584.1 1248.9 598.1 1249.6 587.8 1250.4 595.4 1251.1 594.2 1251.9 603.3 1252.6 599.2 1253.4 599.6 1254.1 596.0 1254.9 594.5 1255.6 601.9 1256.3 592.1 1257.1 587.8 1257.8 583.8 1258.6 587.9 1259.3 576.6 1260.1 579.3 1260.8 576.3 1261.6 580.5 1262.3 568.7 1263.1 556.9 1263.8 570.7 1264.6 564.8 1265.3 576.5 1266.1 588.3 1266.8 595.1 1267.6 600.0 1268.3 628.1 1269.1 636.9 1269.8 659.3 1270.6 687.9 1271.3 699.2 1272.1 718.6 1272.8 736.3 1273.6 750.0 1274.3 774.1 1275.1 776.5 1275.8 781.4 1276.6 791.4 1277.3 800.8 1278.0 804.0 1278.8 801.4 1279.5 813.7 1280.3 824.5 1281.0 834.4 1281.8 850.0 1282.5 851.0 1283.3 849.2 1284.0 835.0 1284.8 819.0 1285.5 800.2 1286.3 796.8 1287.0 788.9 1287.8 783.0 1288.5 775.6 1289.3 771.7 1290.0 772.8 1290.8 767.6 1291.5 778.3 1292.3 778.2 1293.0 783.6 1293.8 778.2 1294.5 774.1 1295.3 766.6 1296.0 770.9 1296.8 770.2 1297.5 777.9 1298.3 780.4 1299.0 779.1 1299.7 780.3 1300.5 781.0 1301.2 777.9 1302.0 790.3 1302.7 789.3 1303.5 779.3 1304.2 776.6 1305.0 778.2 1305.7 778.2 1306.5 768.5 1307.2 764.6 1308.0 762.7 1308.7 766.0 1309.5 755.6 1310.2 759.9 1311.0 751.8 1311.7 751.5 1312.5 748.9 1313.2 746.1 1314.0 746.5 1314.7 744.1 1315.5 743.9 1316.2 750.4 1317.0 765.1 1317.7 761.7 1318.5 754.4 1319.2 756.0 1320.0 735.6 1320.7 735.6 1321.4 733.2 1322.2 742.8 1322.9 743.5 1323.7 745.2 1324.4 740.1 1325.2 749.3 1325.9 750.3 1326.7 758.8 1327.4 735.8 1328.2 743.6 1328.9 744.5 1329.7 753.3 1330.4 750.1 1331.2 743.7 1331.9 744.6 1332.7 754.5 1333.4 759.6 1334.2 758.6 1334.9 747.9 1335.7 759.1 1336.4 765.8 1337.2 763.6 1337.9 765.0 1338.7 764.2 1339.4 756.8 1340.2 756.5 1340.9 756.0 1341.7 759.3 1342.4 755.8 1343.2 756.9 1343.9 757.4 1344.6 745.5 1345.4 757.2 1346.1 741.5 1346.9 740.1 1347.6 741.0 1348.4 731.9 1349.1 738.3 1349.9 747.7 1350.6 748.1 1351.4 755.3 1352.1 757.5 1352.9 762.6 1353.6 766.0 1354.4 777.4 1355.1 774.7 1355.9 773.8 1356.6 773.0 1357.4 775.9 1358.1 764.8 1358.9 750.9 1359.6 754.1 1360.4 751.9 1361.1 747.7 1361.9 744.0 1362.6 745.9 1363.4 733.1 1364.1 722.3 1364.9 724.7 1365.6 724.0 1366.3 718.4 1367.1 704.3 1367.8 707.6 1368.6 712.2 1369.3 715.2 1370.1 698.9 1370.8 714.8 1371.6 713.6 1372.3 710.5 1373.1 724.8 1373.8 723.0 1374.6 728.7 1375.3 727.0 1376.1 730.3 1376.8 724.4 1377.6 731.0 1378.3 742.0 1379.1 740.9 1379.8 735.5 1380.6 740.9 1381.3 735.5 1382.1 738.7 1382.8 744.3 1383.6 720.0 1384.3 705.5 1385.1 666.0 1385.8 596.3 1386.6 546.6 1387.3 503.9 1388.0 470.7 1388.8 444.5 1389.5 419.7 1390.3 431.3 1391.0 441.7 1391.8 453.2 1392.5 461.8 1393.3 484.5 1394.0 513.8 1394.8 520.2 1395.5 543.1 1396.3 559.6 1397.0 569.6 1397.8 569.3 1398.5 562.6 1399.3 553.9 1400.0 554.8 1400.8 549.5 1401.5 561.7 1402.3 551.1 1403.0 562.1 1403.8 539.9 1404.5 541.7 1405.3 533.7 1406.0 526.5 1406.8 538.8 1407.5 534.8 1408.3 537.5 1409.0 539.0 1409.7 529.9 1410.5 525.6 1411.2 531.0 1412.0 524.9 1412.7 533.0 1413.5 523.3 1414.2 524.0 1415.0 527.5 1415.7 531.1 1416.5 532.6 1417.2 514.9 1418.0 513.9 1418.7 509.2 1419.5 508.6 1420.2 505.5 1421.0 494.4 1421.7 492.0 1422.5 488.8 1423.2 481.4 1424.0 469.1 1424.7 464.8 1425.5 468.9 1426.2 487.2 1427.0 500.8 1427.7 527.8 1428.5 551.4 1429.2 603.2 1430.0 660.8 1430.7 763.0 1431.4 826.9 1432.2 866.1 1432.9 914.8 1433.7 962.6 1434.4 1040.9 1435.2 1077.9 1435.9 1122.0 1436.7 1154.3 1437.4 1170.2 1438.2 1191.1 1438.9 1191.4 1439.7 1174.1 1440.4 1158.1 1441.2 1151.1 1441.9 1139.5 1442.7 1141.9 1443.4 1126.2 1444.2 1113.2 1444.9 1111.7 1445.7 1110.0 1446.4 1108.1 1447.2 1117.2 1447.9 1123.0 1448.7 1117.0 1449.4 1113.2 1450.2 1110.1 1450.9 1122.8 1451.7 1110.8 1452.4 1107.4 1453.2 1115.3 1453.9 1106.7 1454.6 1120.1 1455.4 1118.7 1456.1 1113.6 1456.9 1119.1 1457.6 1117.0 1458.4 1113.8 1459.1 1116.0 1459.9 1106.6 1460.6 1117.2 1461.4 1116.8 1462.1 1112.9 1462.9 1109.4 1463.6 1120.6 1464.4 1121.3 1465.1 1132.7 1465.9 1141.1 1466.6 1133.9 1467.4 1143.6 1468.1 1149.4 1468.9 1153.4 1469.6 1147.2 1470.4 1146.8 1471.1 1145.8 1471.9 1144.7 1472.6 1149.7 1473.4 1166.6 1474.1 1155.1 1474.9 1170.1 1475.6 1154.5 1476.3 1147.5 1477.1 1149.5 1477.8 1129.2 1478.6 1120.3 1479.3 1127.5 1480.1 1120.9 1480.8 1116.9 1481.6 1112.4 1482.3 1096.9 1483.1 1096.9 1483.8 1089.9 1484.6 1084.8 1485.3 1104.1 1486.1 1104.6 1486.8 1120.6 1487.6 1131.9 1488.3 1128.5 1489.1 1147.3 1489.8 1155.8 1490.6 1178.4 1491.3 1175.1 1492.1 1188.6 1492.8 1183.1 1493.6 1195.5 1494.3 1196.6 1495.1 1185.3 1495.8 1179.1 1496.6 1160.8 1497.3 1165.6 1498.0 1151.6 1498.8 1136.2 1499.5 1158.3 1500.3 1143.2 1501.0 1155.8 1501.8 1150.1 1502.5 1139.1 1503.3 1136.6 1504.0 1133.9 1504.8 1125.0 1505.5 1122.9 1506.3 1120.9 1507.0 1118.0 1507.8 1113.5 1508.5 1112.0 1509.3 1123.6 1510.0 1112.8 1510.8 1106.9 1511.5 1109.8 1512.3 1114.9 1513.0 1114.4 1513.8 1112.9 1514.5 1106.5 1515.3 1106.8 1516.0 1115.2 1516.8 1120.0 1517.5 1119.5 1518.3 1101.0 1519.0 1101.3 1519.7 1098.2 1520.5 1107.2 1521.2 1109.4 1522.0 1095.9 1522.7 1105.0 1523.5 1099.3 1524.2 1087.7 1525.0 1081.3 1525.7 1065.2 1526.5 1070.5 1527.2 1072.3 1528.0 1072.4 1528.7 1078.0 1529.5 1071.2 1530.2 1076.2 1531.0 1074.9 1531.7 1089.1 1532.5 1085.3 1533.2 1085.6 1534.0 1076.4 1534.7 1077.4 1535.5 1081.1 1536.2 1078.8 1537.0 1077.3 1537.7 1098.0 1538.5 1091.4 1539.2 1095.4 1540.0 1099.5 1540.7 1094.9 1541.4 1102.7 1542.2 1090.7 1542.9 1093.6 1543.7 1092.1 1544.4 1084.8 1545.2 1086.0 1545.9 1090.1 1546.7 1092.3 1547.4 1084.9 1548.2 1093.9 1548.9 1092.7 1549.7 1093.2 1550.4 1093.1 1551.2 1086.2 1551.9 1085.7 1552.7 1096.2 1553.4 1073.6 1554.2 1077.9 1554.9 1075.6 1555.7 1080.7 1556.4 1081.5 1557.2 1086.9 1557.9 1089.2 1558.7 1087.1 1559.4 1076.7 1560.2 1086.3 1560.9 1072.0 1561.7 1071.4 1562.4 1078.7 1563.2 1071.1 1563.9 1071.0 1564.6 1069.0 1565.4 1072.7 1566.1 1080.3 1566.9 1080.0 1567.6 1085.8 1568.4 1090.6 1569.1 1091.6 1569.9 1088.6 1570.6 1089.8 1571.4 1090.1 1572.1 1090.4 1572.9 1101.7 1573.6 1104.8 1574.4 1095.2 1575.1 1098.9 1575.9 1097.3 1576.6 1084.5 1577.4 1086.6 1578.1 1079.3 1578.9 1074.8 1579.6 1087.2 1580.4 1078.2 1581.1 1081.6 1581.9 1076.3 1582.6 1065.8 1583.4 1064.0 1584.1 1061.0 1584.9 1057.2 1585.6 1047.7 1586.3 1055.6 1587.1 1059.6 1587.8 1061.4 1588.6 1066.9 1589.3 1066.7 1590.1 1072.8 1590.8 1068.0 1591.6 1059.6 1592.3 1065.8 1593.1 1062.3 1593.8 1069.7 1594.6 1063.0 1595.3 1060.5 1596.1 1078.3 1596.8 1078.3 1597.6 1074.8 1598.3 1085.5 1599.1 1077.9 1599.8 1075.2 1600.6 1073.0 1601.3 1076.4 1602.1 1072.0 1602.8 1067.9 1603.6 1069.5 1604.3 1065.4 1605.1 1067.3 1605.8 1075.9 1606.6 1077.4 1607.3 1072.8 1608.0 1079.0 1608.8 1077.1 1609.5 1091.4 1610.3 1094.1 1611.0 1080.0 1611.8 1083.0 1612.5 1081.1 1613.3 1077.2 1614.0 1077.1 1614.8 1074.6 1615.5 1073.5 1616.3 1069.5 1617.0 1070.2 1617.8 1066.1 1618.5 1056.1 1619.3 1058.3 1620.0 1048.9 1620.8 1034.9 1621.5 1040.6 1622.3 1038.5 1623.0 1029.9 1623.8 1025.7 1624.5 1027.2 1625.3 1029.2 1626.0 1024.9 1626.8 1017.2 1627.5 1018.1 1628.3 1010.0 1629.0 1016.6 1629.7 1004.9 1630.5 1005.3 1631.2 1011.5 1632.0 1018.1 1632.7 1011.4 1633.5 1020.5 1634.2 1012.8 1635.0 1021.4 1635.7 1027.9 1636.5 1031.9 1637.2 1033.5 1638.0 1024.2 1638.7 1029.2 1639.5 1022.4 1640.2 1033.0 1641.0 1039.5 1641.7 1027.7 1642.5 1033.5 1643.2 1020.3 1644.0 1025.3 1644.7 1026.0 1645.5 1019.2 1646.2 1020.4 1647.0 1024.3 1647.7 1013.2 1648.5 1018.0 1649.2 1007.1 1650.0 1018.9 1650.7 999.9 1651.4 1011.5 1652.2 1008.6 1652.9 1013.6 1653.7 1020.6 1654.4 1018.2 1655.2 1017.3 1655.9 1015.1 1656.7 1013.9 1657.4 1012.2 1658.2 1027.2 1658.9 1027.7 1659.7 1024.7 1660.4 1022.6 1661.2 1012.9 1661.9 1023.0 1662.7 1001.2 1663.4 1004.1 1664.2 1008.3 1664.9 1021.1 1665.7 1020.4 1666.4 1026.7 1667.2 1019.5 1667.9 1022.3 1668.7 1016.5 1669.4 1020.1 1670.2 1002.9 1670.9 1007.1 1671.7 1020.2 1672.4 1018.4 1673.2 1008.2 1673.9 1004.8 1674.6 1020.5 1675.4 1010.7 1676.1 1010.3 1676.9 1014.1 1677.6 1014.6 1678.4 1022.2 1679.1 1006.4 1679.9 1015.8 1680.6 1011.0 1681.4 997.3 1682.1 993.6 1682.9 1000.2 1683.6 988.9 1684.4 997.6 1685.1 980.4 1685.9 992.4 1686.6 996.3 1687.4 994.7 1688.1 1000.2 1688.9 1002.4 1689.6 998.5 1690.4 999.8 1691.1 1008.4 1691.9 1005.3 1692.6 1003.6 1693.4 1000.0 1694.1 1011.8 1694.9 1008.2 1695.6 1006.9 1696.3 1013.5 1697.1 1015.3 1697.8 1017.4 1698.6 1024.6 1699.3 1006.9 1700.1 1005.9 1700.8 1014.1 1701.6 1009.8 1702.3 1020.9 1703.1 1022.9 1703.8 1015.1 1704.6 1006.2 1705.3 1000.5 1706.1 1001.1 1706.8 993.3 1707.6 1002.8 1708.3 985.2 1709.1 993.0 1709.8 989.2 1710.6 1007.3 1711.3 1003.5 1712.1 999.5 1712.8 1005.1 1713.6 1018.5 1714.3 1011.9 1715.1 1012.0 1715.8 1020.4 1716.6 1026.6 1717.3 1010.1" stroke="#7E2F8E" stroke-width="6.0" stroke-dasharray="23 8 6 7"/>
<path d="M220.7 890.1 221.4 874.2 222.2 869.0 222.9 867.0 223.7 874.9 224.4 861.1 225.2 870.5 225.9 864.5 226.7 867.3 227.4 868.1 228.2 872.6 228.9 866.2 229.7 874.8 230.4 869.9 231.2 867.9 231.9 864.1 232.7 864.6 233.4 867.3 234.2 865.4 234.9 862.1 235.7 855.2 236.4 853.8 237.2 855.9 237.9 853.3 238.7 858.1 239.4 846.7 240.2 844.3 240.9 846.4 241.7 843.6 242.4 843.7 243.1 821.2 243.9 817.8 244.6 814.7 245.4 810.9 246.1 819.4 246.9 825.5 247.6 827.4 248.4 833.1 249.1 836.5 249.9 844.6 250.6 839.9 251.4 839.0 252.1 849.1 252.9 853.2 253.6 851.3 254.4 861.1 255.1 852.8 255.9 857.1 256.6 855.5 257.4 856.2 258.1 854.3 258.9 846.0 259.6 847.1 260.4 840.9 261.1 845.0 261.9 852.8 262.6 850.2 263.4 849.3 264.1 842.3 264.8 844.8 265.6 838.9 266.3 839.1 267.1 842.0 267.8 843.6 268.6 849.7 269.3 842.0 270.1 848.8 270.8 864.1 271.6 862.9 272.3 864.5 273.1 856.2 273.8 844.5 274.6 851.3 275.3 850.9 276.1 840.4 276.8 831.4 277.6 837.4 278.3 837.1 279.1 830.1 279.8 832.1 280.6 831.2 281.3 826.2 282.1 821.4 282.8 816.6 283.6 809.3 284.3 805.9 285.1 786.1 285.8 779.5 286.6 782.8 287.3 776.4 288.0 764.1 288.8 754.9 289.5 750.5 290.3 742.7 291.0 762.3 291.8 775.1 292.5 786.8 293.3 806.0 294.0 825.8 294.8 847.0 295.5 860.3 296.3 886.8 297.0 902.7 297.8 918.4 298.5 919.2 299.3 942.5 300.0 938.0 300.8 934.3 301.5 931.3 302.3 921.4 303.0 908.6 303.8 913.3 304.5 908.6 305.3 898.4 306.0 894.4 306.8 887.7 307.5 889.2 308.3 887.3 309.0 886.2 309.7 885.3 310.5 883.2 311.2 880.8 312.0 886.8 312.7 890.4 313.5 881.9 314.2 888.7 315.0 894.0 315.7 885.7 316.5 878.9 317.2 884.3 318.0 880.2 318.7 868.7 319.5 877.5 320.2 884.5 321.0 884.7 321.7 886.4 322.5 886.5 323.2 881.3 324.0 880.4 324.7 886.2 325.5 873.8 326.2 875.3 327.0 880.3 327.7 884.6 328.5 884.7 329.2 882.8 330.0 887.4 330.7 890.1 331.4 891.2 332.2 893.2 332.9 887.5 333.7 871.1 334.4 881.3 335.2 884.1 335.9 879.5 336.7 881.4 337.4 885.7 338.2 877.8 338.9 883.3 339.7 877.3 340.4 883.8 341.2 875.5 341.9 874.5 342.7 871.7 343.4 880.6 344.2 880.3 344.9 889.1 345.7 893.9 346.4 893.7 347.2 880.3 347.9 877.5 348.7 882.1 349.4 879.1 350.2 863.9 350.9 869.7 351.7 864.5 352.4 862.5 353.1 866.3 353.9 865.7 354.6 854.8 355.4 844.8 356.1 857.8 356.9 855.8 357.6 856.4 358.4 844.7 359.1 841.1 359.9 845.0 360.6 837.2 361.4 836.1 362.1 836.2 362.9 850.1 363.6 853.0 364.4 866.7 365.1 876.5 365.9 878.3 366.6 888.2 367.4 897.3 368.1 910.2 368.9 908.9 369.6 919.5 370.4 917.0 371.1 922.9 371.9 927.2 372.6 935.4 373.4 937.4 374.1 937.3 374.8 921.2 375.6 913.7 376.3 903.6 377.1 899.4 377.8 886.3 378.6 881.0 379.3 873.3 380.1 860.0 380.8 845.0 381.6 835.9 382.3 829.6 383.1 808.9 383.8 798.6 384.6 804.6 385.3 817.6 386.1 824.2 386.8 842.7 387.6 844.3 388.3 847.5 389.1 861.2 389.8 866.0 390.6 862.4 391.3 866.5 392.1 870.0 392.8 879.2 393.6 878.4 394.3 876.1 395.1 883.6 395.8 868.5 396.6 874.7 397.3 878.3 398.0 887.3 398.8 883.4 399.5 898.9 400.3 894.6 401.0 897.4 401.8 898.6 402.5 898.6 403.3 903.9 404.0 910.1 404.8 912.0 405.5 912.5 406.3 914.7 407.0 905.2 407.8 908.5 408.5 915.7 409.3 903.8 410.0 916.0 410.8 915.6 411.5 904.8 412.3 908.2 413.0 909.7 413.8 909.0 414.5 906.4 415.3 902.3 416.0 894.5 416.8 894.6 417.5 890.8 418.3 893.9 419.0 888.2 419.7 884.1 420.5 883.0 421.2 878.5 422.0 864.4 422.7 863.2 423.5 872.9 424.2 859.4 425.0 855.6 425.7 852.6 426.5 847.5 427.2 847.4 428.0 848.8 428.7 852.7 429.5 847.3 430.2 835.1 431.0 841.0 431.7 841.9 432.5 850.0 433.2 846.3 434.0 846.7 434.7 854.4 435.5 857.3 436.2 857.7 437.0 853.7 437.7 859.6 438.5 862.6 439.2 865.7 440.0 857.1 440.7 862.3 441.4 859.4 442.2 860.5 442.9 859.0 443.7 848.9 444.4 861.9 445.2 868.3 445.9 856.5 446.7 858.2 447.4 860.2 448.2 857.6 448.9 868.7 449.7 858.1 450.4 856.8 451.2 865.3 451.9 864.3 452.7 862.7 453.4 860.5 454.2 865.7 454.9 854.0 455.7 862.8 456.4 857.8 457.2 865.2 457.9 854.6 458.7 850.8 459.4 856.3 460.2 862.9 460.9 858.0 461.7 865.6 462.4 865.5 463.1 863.5 463.9 862.0 464.6 856.7 465.4 872.1 466.1 868.5 466.9 868.2 467.6 867.7 468.4 865.6 469.1 863.1 469.9 855.0 470.6 862.8 471.4 853.6 472.1 864.0 472.9 865.7 473.6 864.5 474.4 869.7 475.1 862.8 475.9 867.5 476.6 864.6 477.4 867.2 478.1 871.5 478.9 870.2 479.6 867.3 480.4 873.1 481.1 869.1 481.9 868.6 482.6 875.8 483.4 870.6 484.1 870.1 484.8 872.5 485.6 869.0 486.3 859.7 487.1 864.8 487.8 862.7 488.6 863.7 489.3 860.3 490.1 851.8 490.8 860.2 491.6 848.0 492.3 843.4 493.1 836.5 493.8 836.4 494.6 825.5 495.3 804.8 496.1 813.8 496.8 820.0 497.6 825.5 498.3 825.1 499.1 838.3 499.8 829.1 500.6 834.1 501.3 835.2 502.1 844.1 502.8 839.5 503.6 827.3 504.3 840.1 505.1 840.7 505.8 840.5 506.6 828.1 507.3 840.2 508.0 833.7 508.8 834.0 509.5 828.7 510.3 833.9 511.0 835.2 511.8 833.7 512.5 837.9 513.3 845.5 514.0 842.8 514.8 848.0 515.5 838.8 516.3 850.4 517.0 840.4 517.8 841.3 518.5 837.0 519.3 836.5 520.0 826.6 520.8 813.6 521.5 804.4 522.3 775.2 523.0 751.1 523.8 722.5 524.5 690.5 525.3 660.9 526.0 653.6 526.8 643.8 527.5 619.4 528.3 606.9 529.0 606.8 529.7 575.3 530.5 563.1 531.2 575.8 532.0 588.2 532.7 610.5 533.5 623.7 534.2 620.4 535.0 643.2 535.7 656.5 536.5 667.0 537.2 692.8 538.0 731.2 538.7 738.4 539.5 758.4 540.2 781.6 541.0 782.8 541.7 804.9 542.5 807.7 543.2 798.0 544.0 779.5 544.7 773.3 545.5 764.2 546.2 756.0 547.0 751.9 547.7 741.5 548.5 741.1 549.2 741.3 550.0 733.9 550.7 727.0 551.4 723.5 552.2 721.8 552.9 714.1 553.7 714.7 554.4 706.9 555.2 712.4 555.9 709.2 556.7 721.3 557.4 718.8 558.2 726.1 558.9 720.3 559.7 717.2 560.4 719.4 561.2 713.6 561.9 713.6 562.7 717.0 563.4 707.7 564.2 715.8 564.9 718.0 565.7 712.1 566.4 713.7 567.2 711.6 567.9 710.0 568.7 704.6 569.4 707.8 570.2 710.7 570.9 703.1 571.7 700.3 572.4 706.0 573.1 702.5 573.9 703.1 574.6 709.1 575.4 690.5 576.1 692.7 576.9 698.6 577.6 702.6 578.4 717.7 579.1 732.5 579.9 755.4 580.6 772.8 581.4 805.5 582.1 857.7 582.9 903.1 583.6 951.6 584.4 1005.6 585.1 1048.4 585.9 1067.1 586.6 1076.1 587.4 1082.6 588.1 1104.2 588.9 1097.4 589.6 1102.8 590.4 1088.7 591.1 1088.0 591.9 1084.4 592.6 1065.0 593.4 1065.9 594.1 1069.3 594.8 1053.7 595.6 1067.6 596.3 1063.9 597.1 1055.1 597.8 1055.3 598.6 1054.2 599.3 1053.2 600.1 1048.4 600.8 1034.9 601.6 1042.5 602.3 1052.2 603.1 1041.0 603.8 1038.9 604.6 1035.1 605.3 1035.3 606.1 1037.4 606.8 1024.5 607.6 1039.4 608.3 1036.3 609.1 1039.2 609.8 1036.1 610.6 1037.6 611.3 1043.5 612.1 1045.7 612.8 1038.6 613.6 1041.8 614.3 1049.7 615.1 1041.1 615.8 1044.6 616.6 1041.5 617.3 1042.4 618.0 1034.1 618.8 1035.0 619.5 1038.6 620.3 1044.0 621.0 1053.4 621.8 1052.2 622.5 1047.3 623.3 1030.0 624.0 1030.5 624.8 1030.6 625.5 1031.0 626.3 1029.8 627.0 1046.3 627.8 1025.7 628.5 1032.4 629.3 1039.6 630.0 1050.6 630.8 1042.9 631.5 1032.4 632.3 1030.6 633.0 1023.8 633.8 1033.8 634.5 1019.2 635.3 1024.6 636.0 1025.2 636.8 1024.5 637.5 1032.8 638.3 1027.7 639.0 1032.8 639.7 1030.5 640.5 1023.7 641.2 1024.6 642.0 1025.7 642.7 1027.8 643.5 1043.1 644.2 1025.7 645.0 1029.4 645.7 1025.4 646.5 1027.8 647.2 1019.5 648.0 1028.2 648.7 1034.4 649.5 1040.6 650.2 1026.5 651.0 1021.3 651.7 1020.6 652.5 1019.4 653.2 1019.0 654.0 1026.4 654.7 1023.5 655.5 1002.5 656.2 1009.0 657.0 1011.8 657.7 1019.4 658.5 1014.3 659.2 1018.4 660.0 1013.8 660.7 1012.6 661.4 994.7 662.2 1011.6 662.9 1011.0 663.7 1004.4 664.4 1011.5 665.2 1008.0 665.9 1013.7 666.7 1000.5 667.4 1003.9 668.2 1000.4 668.9 1011.3 669.7 996.7 670.4 999.5 671.2 1002.0 671.9 995.5 672.7 993.7 673.4 994.3 674.2 1004.3 674.9 991.4 675.7 994.1 676.4 1007.4 677.2 994.0 677.9 999.3 678.7 1006.6 679.4 1004.0 680.2 1000.4 680.9 992.6 681.7 994.5 682.4 999.4 683.1 1007.5 683.9 988.1 684.6 991.9 685.4 986.6 686.1 993.4 686.9 984.1 687.6 995.9 688.4 980.6 689.1 986.5 689.9 973.1 690.6 992.9 691.4 985.0 692.1 987.8 692.9 981.1 693.6 977.2 694.4 966.7 695.1 969.3 695.9 972.2 696.6 971.7 697.4 965.5 698.1 969.1 698.9 954.8 699.6 961.0 700.4 961.7 701.1 948.2 701.9 965.1 702.6 964.5 703.4 965.3 704.1 959.5 704.9 967.0 705.6 971.3 706.3 966.0 707.1 974.2 707.8 975.1 708.6 969.8 709.3 968.9 710.1 965.4 710.8 960.4 711.6 970.0 712.3 964.1 713.1 966.2 713.8 954.1 714.6 965.4 715.3 948.1 716.1 953.9 716.8 952.2 717.6 962.7 718.3 951.2 719.1 958.5 719.8 963.0 720.6 954.1 721.3 967.5 722.1 958.6 722.8 959.8 723.6 954.7 724.3 970.2 725.1 956.2 725.8 950.6 726.6 955.6 727.3 956.2 728.0 952.9 728.8 945.4 729.5 953.7 730.3 930.3 731.0 929.2 731.8 932.7 732.5 924.5 733.3 920.4 734.0 922.7 734.8 931.2 735.5 925.2 736.3 926.2 737.0 926.4 737.8 920.6 738.5 910.4 739.3 912.4 740.0 907.4 740.8 911.6 741.5 916.1 742.3 912.9 743.0 908.1 743.8 904.0 744.5 893.8 745.3 904.0 746.0 894.6 746.8 894.4 747.5 900.6 748.3 906.7 749.0 904.1 749.7 900.3 750.5 907.3 751.2 901.2 752.0 901.3 752.7 887.9 753.5 891.2 754.2 894.4 755.0 907.7 755.7 913.5 756.5 909.1 757.2 905.3 758.0 907.4 758.7 902.9 759.5 885.8 760.2 901.3 761.0 892.6 761.7 893.7 762.5 888.9 763.2 898.1 764.0 890.6 764.7 893.8 765.5 889.2 766.2 891.0 767.0 895.6 767.7 897.2 768.5 902.2 769.2 892.1 770.0 894.0 770.7 893.9 771.4 895.7 772.2 887.4 772.9 878.9 773.7 891.5 774.4 885.5 775.2 885.8 775.9 885.3 776.7 887.3 777.4 886.9 778.2 890.9 778.9 887.3 779.7 885.8 780.4 890.5 781.2 875.9 781.9 887.9 782.7 878.0 783.4 880.4 784.2 872.8 784.9 877.4 785.7 878.2 786.4 871.4 787.2 873.6 787.9 881.9 788.7 879.3 789.4 875.3 790.2 870.1 790.9 865.7 791.7 878.9 792.4 871.0 793.1 864.8 793.9 866.6 794.6 860.9 795.4 862.0 796.1 857.1 796.9 871.7 797.6 876.4 798.4 869.0 799.1 872.1 799.9 877.1 800.6 870.2 801.4 868.5 802.1 862.9 802.9 864.9 803.6 863.0 804.4 869.9 805.1 857.0 805.9 853.5 806.6 856.8 807.4 862.7 808.1 848.9 808.9 855.1 809.6 852.8 810.4 854.3 811.1 857.0 811.9 854.1 812.6 861.4 813.4 854.4 814.1 852.1 814.9 855.4 815.6 846.4 816.3 849.3 817.1 843.4 817.8 845.4 818.6 835.8 819.3 841.2 820.1 835.2 820.8 832.1 821.6 830.6 822.3 829.7 823.1 824.1 823.8 819.3 824.6 817.6 825.3 802.2 826.1 802.4 826.8 794.2 827.6 785.5 828.3 778.8 829.1 770.8 829.8 777.4 830.6 753.7 831.3 748.1 832.1 734.7 832.8 731.0 833.6 724.9 834.3 725.2 835.1 712.5 835.8 716.5 836.6 703.6 837.3 700.6 838.0 692.8 838.8 687.2 839.5 683.2 840.3 687.5 841.0 695.6 841.8 714.3 842.5 722.1 843.3 719.3 844.0 729.4 844.8 737.8 845.5 759.1 846.3 751.9 847.0 764.0 847.8 764.4 848.5 771.7 849.3 793.7 850.0 811.3 850.8 838.4 851.5 855.3 852.3 882.3 853.0 901.9 853.8 915.6 854.5 920.8 855.3 934.6 856.0 950.7 856.8 955.7 857.5 950.2 858.3 948.9 859.0 951.0 859.7 935.7 860.5 928.5 861.2 923.1 862.0 919.0 862.7 921.7 863.5 927.6 864.2 926.2 865.0 931.7 865.7 949.0 866.5 940.2 867.2 950.2 868.0 960.1 868.7 963.6 869.5 957.5 870.2 944.3 871.0 936.2 871.7 931.8 872.5 929.9 873.2 935.7 874.0 937.3 874.7 929.7 875.5 931.6 876.2 922.6 877.0 915.7 877.7 917.2 878.5 913.1 879.2 913.5 880.0 910.5 880.7 910.8 881.4 910.9 882.2 907.3 882.9 912.4 883.7 908.8 884.4 910.1 885.2 899.3 885.9 906.7 886.7 901.8 887.4 905.8 888.2 894.9 888.9 898.0 889.7 891.2 890.4 900.5 891.2 898.0 891.9 891.4 892.7 893.1 893.4 884.1 894.2 895.1 894.9 897.1 895.7 901.1 896.4 902.0 897.2 890.0 897.9 886.6 898.7 896.7 899.4 895.6 900.2 897.5 900.9 888.7 901.7 892.2 902.4 884.2 903.1 883.3 903.9 881.5 904.6 882.1 905.4 880.1 906.1 876.3 906.9 879.6 907.6 885.3 908.4 880.5 909.1 883.2 909.9 880.3 910.6 880.3 911.4 881.2 912.1 875.3 912.9 885.6 913.6 882.3 914.4 878.5 915.1 871.4 915.9 869.4 916.6 875.8 917.4 878.0 918.1 854.5 918.9 857.4 919.6 856.3 920.4 846.5 921.1 861.0 921.9 856.0 922.6 863.4 923.4 856.1 924.1 857.7 924.9 858.8 925.6 863.4 926.3 864.1 927.1 855.0 927.8 849.5 928.6 856.8 929.3 853.3 930.1 849.5 930.8 839.1 931.6 847.2 932.3 847.0 933.1 854.6 933.8 854.3 934.6 854.3 935.3 864.3 936.1 857.2 936.8 862.4 937.6 874.8 938.3 871.0 939.1 878.2 939.8 874.1 940.6 878.6 941.3 882.5 942.1 873.7 942.8 878.9 943.6 872.3 944.3 879.4 945.1 881.4 945.8 891.2 946.6 885.1 947.3 882.7 948.0 874.1 948.8 875.2 949.5 886.3 950.3 885.0 951.0 871.8 951.8 875.6 952.5 870.0 953.3 876.2 954.0 870.7 954.8 869.4 955.5 873.2 956.3 878.4 957.0 880.1 957.8 879.5 958.5 877.2 959.3 880.2 960.0 889.4 960.8 891.0 961.5 900.6 962.3 892.2 963.0 895.5 963.8 894.5 964.5 893.0 965.3 889.3 966.0 874.4 966.8 880.1 967.5 888.3 968.3 885.2 969.0 887.6 969.7 875.4 970.5 883.5 971.2 886.6 972.0 881.1 972.7 881.3 973.5 878.4 974.2 873.2 975.0 860.1 975.7 863.1 976.5 858.8 977.2 850.5 978.0 848.6 978.7 847.4 979.5 841.8 980.2 853.2 981.0 846.7 981.7 848.1 982.5 849.5 983.2 851.8 984.0 848.9 984.7 845.5 985.5 844.5 986.2 836.1 987.0 842.5 987.7 845.1 988.5 833.4 989.2 838.5 990.0 829.6 990.7 822.3 991.4 821.1 992.2 821.1 992.9 821.5 993.7 810.3 994.4 813.7 995.2 794.9 995.9 799.5 996.7 799.2 997.4 799.8 998.2 801.8 998.9 785.2 999.7 789.8 1000.4 787.6 1001.2 780.8 1001.9 769.2 1002.7 775.7 1003.4 783.9 1004.2 775.9 1004.9 776.0 1005.7 764.9 1006.4 763.9 1007.2 758.8 1007.9 766.1 1008.7 770.0 1009.4 770.7 1010.2 780.1 1010.9 778.5 1011.7 790.2 1012.4 785.1 1013.1 801.8 1013.9 800.8 1014.6 802.7 1015.4 808.2 1016.1 811.1 1016.9 810.4 1017.6 801.9 1018.4 800.4 1019.1 795.9 1019.9 805.5 1020.6 798.9 1021.4 793.3 1022.1 805.9 1022.9 789.9 1023.6 811.3 1024.4 805.4 1025.1 801.6 1025.9 799.9 1026.6 797.7 1027.4 782.4 1028.1 787.2 1028.9 779.8 1029.6 776.3 1030.4 774.0 1031.1 761.9 1031.9 726.3 1032.6 656.6 1033.4 618.8 1034.1 588.9 1034.9 560.4 1035.6 525.9 1036.3 526.7 1037.1 506.7 1037.8 487.9 1038.6 494.8 1039.3 512.5 1040.1 541.1 1040.8 548.6 1041.6 582.8 1042.3 602.7 1043.1 629.5 1043.8 657.9 1044.6 696.5 1045.3 703.4 1046.1 702.5 1046.8 699.4 1047.6 693.3 1048.3 677.9 1049.1 667.2 1049.8 660.2 1050.6 661.7 1051.3 663.6 1052.1 666.0 1052.8 653.6 1053.6 653.5 1054.3 649.9 1055.1 649.5 1055.8 632.3 1056.6 642.0 1057.3 634.0 1058.0 634.3 1058.8 620.5 1059.5 624.8 1060.3 604.2 1061.0 619.5 1061.8 598.6 1062.5 597.0 1063.3 598.0 1064.0 608.9 1064.8 604.3 1065.5 614.3 1066.3 607.3 1067.0 617.9 1067.8 627.6 1068.5 619.1 1069.3 620.6 1070.0 624.4 1070.8 624.5 1071.5 627.0 1072.3 627.0 1073.0 628.7 1073.8 621.0 1074.5 633.5 1075.3 637.0 1076.0 622.8 1076.8 614.2 1077.5 606.7 1078.3 590.1 1079.0 595.2 1079.7 581.3 1080.5 590.8 1081.2 584.6 1082.0 573.8 1082.7 588.1 1083.5 617.0 1084.2 649.3 1085.0 694.4 1085.7 751.9 1086.5 791.3 1087.2 864.6 1088.0 943.9 1088.7 978.8 1089.5 1027.1 1090.2 1070.1 1091.0 1103.8 1091.7 1137.4 1092.5 1151.6 1093.2 1161.4 1094.0 1150.8 1094.7 1137.1 1095.5 1138.3 1096.2 1128.9 1097.0 1123.0 1097.7 1114.3 1098.5 1114.1 1099.2 1106.6 1100.0 1114.3 1100.7 1109.2 1101.4 1117.3 1102.2 1096.1 1102.9 1102.7 1103.7 1097.1 1104.4 1094.6 1105.2 1091.5 1105.9 1086.3 1106.7 1078.2 1107.4 1073.6 1108.2 1083.4 1108.9 1081.9 1109.7 1082.3 1110.4 1075.9 1111.2 1082.4 1111.9 1085.4 1112.7 1079.1 1113.4 1070.4 1114.2 1078.0 1114.9 1061.7 1115.7 1070.2 1116.4 1070.2 1117.2 1065.1 1117.9 1063.9 1118.7 1067.0 1119.4 1065.9 1120.2 1061.2 1120.9 1059.1 1121.7 1059.3 1122.4 1069.2 1123.1 1073.7 1123.9 1071.5 1124.6 1079.8 1125.4 1083.8 1126.1 1085.3 1126.9 1078.2 1127.6 1078.3 1128.4 1083.1 1129.1 1080.9 1129.9 1092.4 1130.6 1088.1 1131.4 1090.9 1132.1 1099.9 1132.9 1090.6 1133.6 1095.2 1134.4 1097.8 1135.1 1089.0 1135.9 1085.7 1136.6 1077.2 1137.4 1075.1 1138.1 1065.0 1138.9 1060.2 1139.6 1056.6 1140.4 1056.3 1141.1 1041.2 1141.9 1040.1 1142.6 1027.3 1143.4 1033.3 1144.1 1036.8 1144.9 1034.9 1145.6 1034.1 1146.3 1037.8 1147.1 1043.7 1147.8 1028.8 1148.6 1033.8 1149.3 1035.9 1150.1 1043.8 1150.8 1042.9 1151.6 1045.0 1152.3 1049.8 1153.1 1044.6 1153.8 1043.3 1154.6 1044.4 1155.3 1046.7 1156.1 1030.2 1156.8 1032.8 1157.6 1044.0 1158.3 1030.6 1159.1 1033.4 1159.8 1036.1 1160.6 1052.3 1161.3 1050.9 1162.1 1051.9 1162.8 1042.3 1163.6 1037.8 1164.3 1041.5 1165.1 1035.3 1165.8 1033.4 1166.6 1031.5 1167.3 1029.5 1168.0 1032.3 1168.8 1026.5 1169.5 1020.3 1170.3 1028.6 1171.0 1018.5 1171.8 1018.0 1172.5 1010.9 1173.3 1012.9 1174.0 999.9 1174.8 999.0 1175.5 1013.1 1176.3 1003.8 1177.0 1003.1 1177.8 1011.2 1178.5 1009.9 1179.3 1006.3 1180.0 1009.6 1180.8 1005.9 1181.5 1012.6 1182.3 1009.8 1183.0 1009.9 1183.8 1010.6 1184.5 1019.2 1185.3 1012.5 1186.0 1020.6 1186.8 1012.2 1187.5 1014.1 1188.3 1018.2 1189.0 1016.6 1189.7 1010.7 1190.5 1019.1 1191.2 1018.8 1192.0 1015.3 1192.7 1009.6 1193.5 1012.3 1194.2 1014.9 1195.0 1002.1 1195.7 1002.9 1196.5 1002.4 1197.2 1001.3 1198.0 993.3 1198.7 995.5 1199.5 983.1 1200.2 980.4 1201.0 971.7 1201.7 962.3 1202.5 946.6 1203.2 935.7 1204.0 921.2 1204.7 896.6 1205.5 862.9 1206.2 825.7 1207.0 796.1 1207.7 764.0 1208.5 713.7 1209.2 674.3 1210.0 654.1 1210.7 624.3 1211.4 622.3 1212.2 608.5 1212.9 609.5 1213.7 611.3 1214.4 615.0 1215.2 620.8 1215.9 625.1 1216.7 627.7 1217.4 637.1 1218.2 630.8 1218.9 642.1 1219.7 654.3 1220.4 658.5 1221.2 652.7 1221.9 650.7 1222.7 653.4 1223.4 646.7 1224.2 635.6 1224.9 633.8 1225.7 642.3 1226.4 629.5 1227.2 621.6 1227.9 617.7 1228.7 617.1 1229.4 611.6 1230.2 601.8 1230.9 603.7 1231.7 600.7 1232.4 580.9 1233.1 597.2 1233.9 587.7 1234.6 582.9 1235.4 573.0 1236.1 578.2 1236.9 575.8 1237.6 578.8 1238.4 585.3 1239.1 585.6 1239.9 594.6 1240.6 604.3 1241.4 600.3 1242.1 604.5 1242.9 598.4 1243.6 604.2 1244.4 601.7 1245.1 603.9 1245.9 603.4 1246.6 599.7 1247.4 605.1 1248.1 595.4 1248.9 607.8 1249.6 609.3 1250.4 602.8 1251.1 607.2 1251.9 611.8 1252.6 606.8 1253.4 605.1 1254.1 613.0 1254.9 614.1 1255.6 612.4 1256.3 610.4 1257.1 602.6 1257.8 594.6 1258.6 604.2 1259.3 598.4 1260.1 604.7 1260.8 602.9 1261.6 597.3 1262.3 591.5 1263.1 579.5 1263.8 591.1 1264.6 583.5 1265.3 598.6 1266.1 606.4 1266.8 612.8 1267.6 619.7 1268.3 650.3 1269.1 662.7 1269.8 680.4 1270.6 700.8 1271.3 719.9 1272.1 731.3 1272.8 758.5 1273.6 769.1 1274.3 785.0 1275.1 792.9 1275.8 798.9 1276.6 804.7 1277.3 813.3 1278.0 814.9 1278.8 811.4 1279.5 826.1 1280.3 839.4 1281.0 849.7 1281.8 859.9 1282.5 859.1 1283.3 853.5 1284.0 842.1 1284.8 832.5 1285.5 809.6 1286.3 804.8 1287.0 804.2 1287.8 803.6 1288.5 794.9 1289.3 786.4 1290.0 788.6 1290.8 784.4 1291.5 790.5 1292.3 794.9 1293.0 791.1 1293.8 785.5 1294.5 792.9 1295.3 790.1 1296.0 791.2 1296.8 792.8 1297.5 795.1 1298.3 798.5 1299.0 792.3 1299.7 791.1 1300.5 800.4 1301.2 795.8 1302.0 798.0 1302.7 805.0 1303.5 799.5 1304.2 787.2 1305.0 792.2 1305.7 798.4 1306.5 788.8 1307.2 782.8 1308.0 777.0 1308.7 782.5 1309.5 777.5 1310.2 777.2 1311.0 764.5 1311.7 778.1 1312.5 772.1 1313.2 762.7 1314.0 767.7 1314.7 759.9 1315.5 755.5 1316.2 776.7 1317.0 770.8 1317.7 775.5 1318.5 769.1 1319.2 767.6 1320.0 754.2 1320.7 757.1 1321.4 756.2 1322.2 756.7 1322.9 759.4 1323.7 756.2 1324.4 752.9 1325.2 759.2 1325.9 749.7 1326.7 761.8 1327.4 754.3 1328.2 764.2 1328.9 758.8 1329.7 763.9 1330.4 761.1 1331.2 755.9 1331.9 763.0 1332.7 767.6 1333.4 778.5 1334.2 771.8 1334.9 762.3 1335.7 770.7 1336.4 776.6 1337.2 780.7 1337.9 781.1 1338.7 788.3 1339.4 778.3 1340.2 770.1 1340.9 765.2 1341.7 775.8 1342.4 759.4 1343.2 771.1 1343.9 765.6 1344.6 764.0 1345.4 769.8 1346.1 757.8 1346.9 765.0 1347.6 758.2 1348.4 752.4 1349.1 756.6 1349.9 770.4 1350.6 766.5 1351.4 775.0 1352.1 778.2 1352.9 777.9 1353.6 786.5 1354.4 796.5 1355.1 794.7 1355.9 794.1 1356.6 788.5 1357.4 787.2 1358.1 782.8 1358.9 767.8 1359.6 768.3 1360.4 760.4 1361.1 761.8 1361.9 750.4 1362.6 751.9 1363.4 751.4 1364.1 745.4 1364.9 744.5 1365.6 741.6 1366.3 727.8 1367.1 723.2 1367.8 716.6 1368.6 731.2 1369.3 706.1 1370.1 715.9 1370.8 724.7 1371.6 734.0 1372.3 730.4 1373.1 738.8 1373.8 734.4 1374.6 739.5 1375.3 736.2 1376.1 753.0 1376.8 743.1 1377.6 758.8 1378.3 752.3 1379.1 752.4 1379.8 753.2 1380.6 749.8 1381.3 755.4 1382.1 752.8 1382.8 757.0 1383.6 737.6 1384.3 718.4 1385.1 677.8 1385.8 606.9 1386.6 562.4 1387.3 518.8 1388.0 481.9 1388.8 451.9 1389.5 436.9 1390.3 442.2 1391.0 463.4 1391.8 473.2 1392.5 477.7 1393.3 507.8 1394.0 525.5 1394.8 541.8 1395.5 555.3 1396.3 579.7 1397.0 592.4 1397.8 587.1 1398.5 582.9 1399.3 578.9 1400.0 578.6 1400.8 571.5 1401.5 575.9 1402.3 568.0 1403.0 568.4 1403.8 563.7 1404.5 561.2 1405.3 563.7 1406.0 545.3 1406.8 553.0 1407.5 546.7 1408.3 560.7 1409.0 554.7 1409.7 562.3 1410.5 549.9 1411.2 555.6 1412.0 545.1 1412.7 553.2 1413.5 535.8 1414.2 539.1 1415.0 539.9 1415.7 535.6 1416.5 549.2 1417.2 539.9 1418.0 535.3 1418.7 533.2 1419.5 522.3 1420.2 510.2 1421.0 515.5 1421.7 514.4 1422.5 506.8 1423.2 488.1 1424.0 483.4 1424.7 476.9 1425.5 482.2 1426.2 503.0 1427.0 516.0 1427.7 544.2 1428.5 570.8 1429.2 607.8 1430.0 670.0 1430.7 762.3 1431.4 824.9 1432.2 872.7 1432.9 918.0 1433.7 976.9 1434.4 1050.7 1435.2 1100.4 1435.9 1139.7 1436.7 1168.5 1437.4 1195.5 1438.2 1216.7 1438.9 1221.3 1439.7 1194.3 1440.4 1183.0 1441.2 1168.3 1441.9 1169.4 1442.7 1163.7 1443.4 1142.0 1444.2 1140.8 1444.9 1132.3 1445.7 1130.5 1446.4 1129.5 1447.2 1134.5 1447.9 1140.8 1448.7 1131.8 1449.4 1134.6 1450.2 1126.1 1450.9 1137.8 1451.7 1131.8 1452.4 1138.0 1453.2 1137.9 1453.9 1123.0 1454.6 1135.7 1455.4 1134.3 1456.1 1132.9 1456.9 1133.4 1457.6 1130.4 1458.4 1130.4 1459.1 1133.3 1459.9 1123.8 1460.6 1137.8 1461.4 1131.2 1462.1 1130.0 1462.9 1137.2 1463.6 1139.3 1464.4 1135.8 1465.1 1139.3 1465.9 1145.9 1466.6 1143.2 1467.4 1151.4 1468.1 1164.4 1468.9 1165.6 1469.6 1160.4 1470.4 1170.2 1471.1 1157.8 1471.9 1163.4 1472.6 1166.9 1473.4 1176.1 1474.1 1171.3 1474.9 1184.8 1475.6 1166.1 1476.3 1155.6 1477.1 1159.7 1477.8 1137.7 1478.6 1139.8 1479.3 1140.7 1480.1 1137.2 1480.8 1130.3 1481.6 1129.8 1482.3 1121.3 1483.1 1108.4 1483.8 1115.5 1484.6 1110.2 1485.3 1122.5 1486.1 1131.2 1486.8 1143.3 1487.6 1142.6 1488.3 1153.5 1489.1 1161.1 1489.8 1178.4 1490.6 1193.6 1491.3 1192.8 1492.1 1208.7 1492.8 1211.2 1493.6 1205.7 1494.3 1199.1 1495.1 1195.5 1495.8 1193.2 1496.6 1177.0 1497.3 1190.0 1498.0 1179.2 1498.8 1176.0 1499.5 1185.2 1500.3 1169.1 1501.0 1170.4 1501.8 1164.8 1502.5 1155.9 1503.3 1157.0 1504.0 1144.1 1504.8 1148.4 1505.5 1148.1 1506.3 1149.7 1507.0 1137.4 1507.8 1137.5 1508.5 1130.6 1509.3 1140.9 1510.0 1132.4 1510.8 1137.2 1511.5 1133.3 1512.3 1122.8 1513.0 1122.4 1513.8 1120.7 1514.5 1122.7 1515.3 1124.6 1516.0 1132.6 1516.8 1127.3 1517.5 1132.0 1518.3 1125.0 1519.0 1126.6 1519.7 1114.4 1520.5 1121.2 1521.2 1119.7 1522.0 1106.0 1522.7 1112.1 1523.5 1120.8 1524.2 1098.4 1525.0 1093.6 1525.7 1098.0 1526.5 1087.4 1527.2 1088.7 1528.0 1085.0 1528.7 1090.0 1529.5 1080.3 1530.2 1078.8 1531.0 1089.0 1531.7 1101.7 1532.5 1092.1 1533.2 1090.5 1534.0 1097.4 1534.7 1092.4 1535.5 1104.9 1536.2 1111.6 1537.0 1106.5 1537.7 1115.0 1538.5 1110.9 1539.2 1109.7 1540.0 1111.7 1540.7 1107.8 1541.4 1119.5 1542.2 1112.4 1542.9 1100.7 1543.7 1100.6 1544.4 1106.8 1545.2 1110.4 1545.9 1109.8 1546.7 1105.5 1547.4 1112.2 1548.2 1096.8 1548.9 1101.6 1549.7 1120.1 1550.4 1101.9 1551.2 1098.8 1551.9 1101.2 1552.7 1102.9 1553.4 1099.2 1554.2 1107.0 1554.9 1088.2 1555.7 1098.7 1556.4 1103.1 1557.2 1098.0 1557.9 1101.1 1558.7 1101.9 1559.4 1101.7 1560.2 1097.4 1560.9 1092.7 1561.7 1098.5 1562.4 1095.9 1563.2 1081.2 1563.9 1086.9 1564.6 1094.2 1565.4 1096.1 1566.1 1090.9 1566.9 1108.3 1567.6 1101.8 1568.4 1118.2 1569.1 1115.1 1569.9 1096.8 1570.6 1101.8 1571.4 1106.5 1572.1 1102.8 1572.9 1118.0 1573.6 1118.2 1574.4 1109.0 1575.1 1111.1 1575.9 1111.5 1576.6 1101.8 1577.4 1099.4 1578.1 1098.3 1578.9 1089.5 1579.6 1092.3 1580.4 1097.7 1581.1 1096.4 1581.9 1093.2 1582.6 1074.5 1583.4 1081.6 1584.1 1082.7 1584.9 1090.2 1585.6 1076.8 1586.3 1078.7 1587.1 1075.4 1587.8 1084.5 1588.6 1084.7 1589.3 1083.1 1590.1 1079.3 1590.8 1090.5 1591.6 1069.8 1592.3 1069.5 1593.1 1083.8 1593.8 1075.7 1594.6 1080.2 1595.3 1084.6 1596.1 1088.4 1596.8 1093.1 1597.6 1091.2 1598.3 1098.5 1599.1 1087.8 1599.8 1091.9 1600.6 1089.1 1601.3 1088.7 1602.1 1086.3 1602.8 1080.8 1603.6 1084.3 1604.3 1088.0 1605.1 1089.9 1605.8 1093.1 1606.6 1092.3 1607.3 1093.6 1608.0 1094.2 1608.8 1095.4 1609.5 1108.1 1610.3 1104.0 1611.0 1095.4 1611.8 1091.3 1612.5 1093.7 1613.3 1092.4 1614.0 1097.4 1614.8 1083.5 1615.5 1081.6 1616.3 1080.4 1617.0 1077.8 1617.8 1089.3 1618.5 1078.1 1619.3 1076.7 1620.0 1070.1 1620.8 1066.4 1621.5 1059.1 1622.3 1050.1 1623.0 1045.6 1623.8 1041.7 1624.5 1038.0 1625.3 1042.9 1626.0 1040.7 1626.8 1021.4 1627.5 1028.3 1628.3 1026.6 1629.0 1026.5 1629.7 1022.1 1630.5 1026.9 1631.2 1029.2 1632.0 1034.2 1632.7 1030.0 1633.5 1037.1 1634.2 1030.9 1635.0 1048.7 1635.7 1029.9 1636.5 1042.0 1637.2 1039.6 1638.0 1040.2 1638.7 1043.4 1639.5 1050.3 1640.2 1049.8 1641.0 1061.1 1641.7 1057.1 1642.5 1046.1 1643.2 1042.4 1644.0 1047.7 1644.7 1041.9 1645.5 1036.7 1646.2 1036.2 1647.0 1040.0 1647.7 1016.3 1648.5 1025.0 1649.2 1028.3 1650.0 1029.8 1650.7 1028.4 1651.4 1020.2 1652.2 1032.5 1652.9 1026.6 1653.7 1042.4 1654.4 1037.8 1655.2 1031.7 1655.9 1031.1 1656.7 1039.7 1657.4 1022.3 1658.2 1044.7 1658.9 1045.4 1659.7 1041.2 1660.4 1030.2 1661.2 1029.9 1661.9 1031.4 1662.7 1015.6 1663.4 1018.8 1664.2 1019.4 1664.9 1038.4 1665.7 1032.5 1666.4 1048.6 1667.2 1033.5 1667.9 1031.7 1668.7 1032.4 1669.4 1020.8 1670.2 1009.9 1670.9 1022.7 1671.7 1033.3 1672.4 1032.1 1673.2 1027.7 1673.9 1022.4 1674.6 1032.8 1675.4 1030.0 1676.1 1024.3 1676.9 1035.7 1677.6 1046.7 1678.4 1043.6 1679.1 1028.8 1679.9 1025.4 1680.6 1022.0 1681.4 1021.2 1682.1 1023.4 1682.9 1025.3 1683.6 1002.5 1684.4 1021.3 1685.1 1004.3 1685.9 1011.4 1686.6 1014.1 1687.4 1013.6 1688.1 1006.8 1688.9 1002.4 1689.6 1014.3 1690.4 1008.2 1691.1 1012.3 1691.9 1020.5 1692.6 1024.6 1693.4 1020.7 1694.1 1028.8 1694.9 1021.7 1695.6 1024.6 1696.3 1032.7 1697.1 1032.7 1697.8 1028.3 1698.6 1030.0 1699.3 1025.9 1700.1 1023.2 1700.8 1032.9 1701.6 1028.8 1702.3 1029.2 1703.1 1024.0 1703.8 1029.8 1704.6 1018.1 1705.3 1021.3 1706.1 1010.8 1706.8 1018.8 1707.6 1009.5 1708.3 1008.7 1709.1 1016.3 1709.8 1018.9 1710.6 1022.1 1711.3 1015.8 1712.1 1021.0 1712.8 1022.7 1713.6 1032.7 1714.3 1027.4 1715.1 1021.7 1715.8 1034.3 1716.6 1041.4 1717.3 1029.5" stroke="#FF0000" stroke-width="3.3" stroke-dasharray="23 8 5 8"/>
</g>
<g fill="none" stroke="#000" stroke-width="3">
<path d="M821.5 696.4 V650.4 H857.5 V696.4 Z" stroke-dasharray="28.4 15.6"/>
<path d="M326.5 509.2 L819 655.8" stroke-dasharray="28.4 15.7"/>
<path d="M903 507.5 L857.1 652.4" stroke-dasharray="28.4 15.7"/>
</g>
<g fill="#262626" shape-rendering="crispEdges">
<rect x="406" y="102" width="4" height="18"/>
<rect x="406" y="1267" width="4" height="18"/>
<rect x="593" y="102" width="4" height="18"/>
<rect x="593" y="1267" width="4" height="18"/>
<rect x="780" y="102" width="4" height="18"/>
<rect x="780" y="1267" width="4" height="18"/>
<rect x="967" y="102" width="4" height="18"/>
<rect x="967" y="1267" width="4" height="18"/>
<rect x="1154" y="102" width="4" height="18"/>
<rect x="1154" y="1267" width="4" height="18"/>
<rect x="1341" y="102" width="4" height="18"/>
<rect x="1341" y="1267" width="4" height="18"/>
<rect x="1528" y="102" width="4" height="18"/>
<rect x="1528" y="1267" width="4" height="18"/>
<rect x="219" y="1184" width="18" height="3"/>
<rect x="1701" y="1184" width="18" height="3"/>
<rect x="219" y="1085" width="18" height="3"/>
<rect x="1701" y="1085" width="18" height="3"/>
<rect x="219" y="987" width="18" height="3"/>
<rect x="1701" y="987" width="18" height="3"/>
<rect x="219" y="889" width="18" height="3"/>
<rect x="1701" y="889" width="18" height="3"/>
<rect x="219" y="791" width="18" height="3"/>
<rect x="1701" y="791" width="18" height="3"/>
<rect x="219" y="692" width="18" height="3"/>
<rect x="1701" y="692" width="18" height="3"/>
<rect x="219" y="594" width="18" height="3"/>
<rect x="1701" y="594" width="18" height="3"/>
<rect x="219" y="496" width="18" height="3"/>
<rect x="1701" y="496" width="18" height="3"/>
<rect x="219" y="398" width="18" height="3"/>
<rect x="1701" y="398" width="18" height="3"/>
<rect x="219" y="299" width="18" height="3"/>
<rect x="1701" y="299" width="18" height="3"/>
<rect x="219" y="201" width="18" height="3"/>
<rect x="1701" y="201" width="18" height="3"/>
<rect x="219" y="102" width="1500" height="4"/><rect x="219" y="1282" width="1500" height="3"/>
<rect x="219" y="102" width="3" height="1183"/><rect x="1716" y="102" width="3" height="1183"/>
</g>
<g font-family="Liberation Sans, Arial, Helvetica, sans-serif" font-size="45.0" fill="#262626" stroke="#262626" stroke-width="1.1">
<text x="199.8" y="1300.2" text-anchor="end">40</text>
<text x="140.5" y="1300.2" text-anchor="end">−</text>
<text x="199.8" y="1201.9" text-anchor="end">30</text>
<text x="140.5" y="1201.9" text-anchor="end">−</text>
<text x="199.8" y="1103.7" text-anchor="end">20</text>
<text x="140.5" y="1103.7" text-anchor="end">−</text>
<text x="199.8" y="1005.4" text-anchor="end">10</text>
<text x="140.5" y="1005.4" text-anchor="end">−</text>
<text x="199.8" y="907.1" text-anchor="end">0</text>
<text x="199.8" y="808.9" text-anchor="end">10</text>
<text x="199.8" y="710.6" text-anchor="end">20</text>
<text x="199.8" y="612.3" text-anchor="end">30</text>
<text x="199.8" y="514.1" text-anchor="end">40</text>
<text x="199.8" y="415.8" text-anchor="end">50</text>
<text x="199.8" y="317.5" text-anchor="end">60</text>
<text x="199.8" y="219.3" text-anchor="end">70</text>
<text x="199.8" y="121.0" text-anchor="end">80</text>
<text x="219.5" y="1347.4" text-anchor="middle">0</text>
<text x="406.6" y="1347.4" text-anchor="middle">0.5</text>
<text x="593.6" y="1347.4" text-anchor="middle">1</text>
<text x="780.7" y="1347.4" text-anchor="middle">1.5</text>
<text x="967.8" y="1347.4" text-anchor="middle">2</text>
<text x="1154.9" y="1347.4" text-anchor="middle">2.5</text>
<text x="1341.9" y="1347.4" text-anchor="middle">3</text>
<text x="1529.0" y="1347.4" text-anchor="middle">3.5</text>
<text x="1716.1" y="1347.4" text-anchor="middle">4</text>
<text x="1609.6" y="1430.5" font-size="54" stroke-width="0.6">×</text>
<text x="1643.5" y="1423.4">10</text>
<text x="1695.3" y="1400" font-size="36.5">4</text>
</g>
<text font-family="Liberation Sans, Arial, Helvetica, sans-serif" font-size="54.17" fill="#262626" stroke="#262626" stroke-width="1.1" x="966.9" y="1419.8" text-anchor="middle" textLength="293" lengthAdjust="spacing">Time(0.05s)</text>
<text font-family="Liberation Sans, Arial, Helvetica, sans-serif" font-size="54.17" fill="#262626" stroke="#262626" stroke-width="1.1" transform="translate(84.8 694.0) rotate(-90)" text-anchor="middle" textLength="199.8" lengthAdjust="spacing">Angle(°)</text>
<text font-family="Liberation Sans, Arial, Helvetica, sans-serif" font-size="54.17" fill="#000" stroke="#000" stroke-width="1.1" x="960.5" y="80.9" text-anchor="middle" textLength="96.3" lengthAdjust="spacing">Roll</text>
<rect x="318" y="124" width="588" height="386" fill="#fff"/>
<g fill="#262626" fill-opacity="0.15" shape-rendering="crispEdges">
<rect x="415" y="128" width="4" height="379"/>
<rect x="659" y="128" width="4" height="379"/>
<rect x="321" y="412" width="582" height="3"/>
<rect x="321" y="316" width="582" height="3"/>
<rect x="321" y="220" width="582" height="3"/>
</g>
<clipPath id="ci"><rect x="320.0" y="126.0" width="588.0" height="382.7"/></clipPath>
<g clip-path="url(#ci)" fill="none" stroke-linejoin="round">
<path d="M537.0 508.7 L617.0 451.3 L661.0 508.7" stroke="#0072BD" stroke-width="3.4"/>
<path d="M450.3 508.7 L519.4 387.7 L617.0 289.6 L714.7 431.0 L812.4 438.3 L910.0 518.0" stroke="#66D415" stroke-width="10" stroke-dasharray="34 32"/>
<path d="M399.7 508.7 L421.7 467.8 L519.4 285.0 L617.0 232.5 L714.7 352.0 L812.4 369.0 L910.0 437.0" stroke="#EDB120" stroke-width="6.7" stroke-dasharray="23 21"/>
<path d="M367.9 508.7 L421.7 395.0 L519.4 225.7 L617.0 172.2 L714.7 324.0 L812.4 361.7 L910.0 442.0" stroke="#7E2F8E" stroke-width="6.3" stroke-dasharray="23 8 6 7"/>
<path d="M459.8 508.7 L519.4 431.0 L617.0 350.0 L714.7 478.8 L812.4 471.6 L854.6 508.7" stroke="#FF0000" stroke-width="3.3" stroke-dasharray="23 8 5 8"/>
</g>
<g fill="#262626" shape-rendering="crispEdges">
<rect x="415" y="124" width="4" height="9"/>
<rect x="415" y="501" width="4" height="9"/>
<rect x="659" y="124" width="4" height="9"/>
<rect x="659" y="501" width="4" height="9"/>
<rect x="318" y="412" width="9" height="3"/>
<rect x="897" y="412" width="9" height="3"/>
<rect x="318" y="316" width="9" height="3"/>
<rect x="897" y="316" width="9" height="3"/>
<rect x="318" y="220" width="9" height="3"/>
<rect x="897" y="220" width="9" height="3"/>
<rect x="318" y="124" width="588" height="4"/><rect x="318" y="507" width="588" height="3"/>
<rect x="318" y="124" width="3" height="386"/><rect x="903" y="124" width="3" height="386"/>
</g>
<g font-family="Liberation Sans, Arial, Helvetica, sans-serif" font-size="31.7" fill="#262626" stroke="#262626" stroke-width="0.8">
<text x="312.6" y="520.3" text-anchor="end">19</text>
<text x="312.6" y="424.6" text-anchor="end">20</text>
<text x="312.6" y="329.0" text-anchor="end">21</text>
<text x="312.6" y="233.3" text-anchor="end">22</text>
<text x="312.6" y="137.6" text-anchor="end">23</text>
<text x="415.8" y="547.5" text-anchor="middle">1.65</text>
<text x="660.0" y="547.5" text-anchor="middle">1.655</text>
<text x="904.2" y="547.5" text-anchor="middle">1.66</text>
<text x="825.3" y="601.2" font-size="37.5" stroke-width="0.4">×</text>
<text x="851" y="595.4">10</text>
<text x="885.3" y="582.3" font-size="25.5">4</text>
</g>
<g shape-rendering="crispEdges"><rect x="1233" y="133" width="461" height="311" fill="#262626"/><rect x="1237" y="136" width="454" height="305" fill="#fff"/></g>
<g font-family="Liberation Sans, Arial, Helvetica, sans-serif" font-size="45.83" fill="#000" stroke="#000" stroke-width="1.1">
<path d="M1248 169.7 H1387" stroke="#0072BD" stroke-width="3.4" fill="none"/>
<text x="1397" y="186.5">True value</text>
<path d="M1248 228.7 H1387" stroke="#66D415" stroke-width="10" fill="none" stroke-dasharray="34 32"/>
<text x="1397" y="245.5">Allan-Mahony</text>
<path d="M1248 288.0 H1387" stroke="#EDB120" stroke-width="6.7" fill="none" stroke-dasharray="23 21"/>
<text x="1397" y="304.8">Mahony</text>
<path d="M1248 347.7 H1387" stroke="#7E2F8E" stroke-width="6.0" fill="none" stroke-dasharray="23 8 6 7"/>
<text x="1397" y="364.5">Madgwick</text>
<path d="M1248 407.0 H1387" stroke="#FF0000" stroke-width="3.3" fill="none" stroke-dasharray="23 8 5 8"/>
<text x="1397" y="423.8">EKF</text>
</g>
</svg>
</body></html>
